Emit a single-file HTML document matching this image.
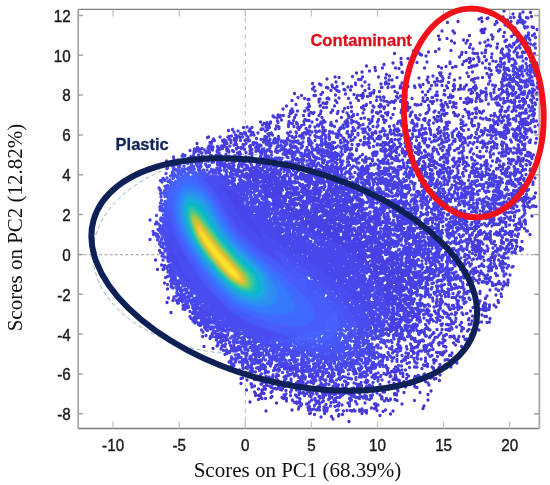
<!DOCTYPE html>
<html><head><meta charset="utf-8"><style>
html,body{margin:0;padding:0;background:#fff;}
body{width:550px;height:485px;overflow:hidden;}
svg{display:block;}
</style></head><body>
<svg width="550" height="485" viewBox="0 0 550 485">
<path d="M78.5 254.8H539.5" stroke="#9a9a9a" stroke-width="1.1" stroke-dasharray="3 2.2" fill="none"/>
<path d="M245.3 9.0V428.5" stroke="#c0c0c0" stroke-width="1.1" stroke-dasharray="4.5 4" fill="none"/>
<ellipse cx="245.3" cy="254.4" rx="152.4" ry="99.9" fill="none" stroke="#8fb3cc" stroke-width="1" stroke-dasharray="4 3"/>
<defs><filter id="bl" x="-5%" y="-5%" width="110%" height="110%"><feGaussianBlur stdDeviation="0.5"/></filter><filter id="bb" x="-5%" y="-5%" width="110%" height="110%"><feGaussianBlur stdDeviation="1.2"/></filter></defs><g filter="url(#bl)"><g filter="url(#bb)"><path fill="#4745e9" d="M290.0 340.1 263.0 340.3 238.0 330.1 213.6 312.0 178.9 277.0 168.9 260.0 163.9 241.0 163.5 236.0 165.7 208.0 169.8 195.0 172.7 189.0 183.0 178.8 198.0 175.7 211.0 174.6 238.0 192.0 261.2 229.0 285.7 262.0 317.0 291.5 333.3 310.0 334.2 312.0 333.4 315.0 322.0 331.7 290.0 340.1Z"/><path fill="#484ef1" d="M290.0 341.2 265.3 341.0 241.0 329.3 232.0 324.3 220.8 316.0 208.0 304.0 195.4 290.0 185.7 277.0 180.3 268.0 174.7 257.0 164.0 230.8 163.9 217.0 164.9 216.0 164.9 207.0 165.8 206.0 165.8 204.0 166.8 203.0 166.8 201.0 167.8 200.0 167.8 198.0 168.7 197.0 169.7 192.0 170.7 191.0 170.7 190.0 183.0 177.7 184.0 177.7 185.0 176.7 190.0 176.7 191.0 175.7 196.0 175.8 197.0 174.8 203.0 174.9 204.0 173.9 208.8 174.0 213.8 178.0 219.8 184.0 224.5 190.0 236.0 211.2 246.6 225.0 259.5 237.0 277.0 249.0 277.0 250.0 283.1 257.0 283.1 258.0 287.1 262.0 287.1 263.0 291.0 266.8 292.0 266.9 306.0 280.8 307.0 280.8 316.0 289.8 333.2 308.0 333.2 309.0 335.2 311.0 335.2 314.0 334.2 315.0 334.2 316.0 330.3 321.0 330.3 322.0 328.3 324.0 327.3 327.0 325.3 329.0 325.3 330.0 323.0 332.3 322.0 332.3 321.0 333.3 319.0 333.3 318.0 334.3 315.0 334.3 314.0 335.3 311.0 335.3 310.0 336.3 307.0 336.3 306.0 337.3 303.0 337.3 302.0 338.2 299.0 338.2 298.0 339.2 295.0 339.2 294.0 340.2 291.0 340.2 290.0 341.2Z"/><path fill="#475cfa" d="M302.0 338.0 288.0 335.7 270.0 330.8 254.0 324.4 242.0 318.2 232.0 311.5 222.0 302.8 210.8 291.0 200.4 278.0 188.4 260.0 178.5 242.0 172.4 228.0 168.6 214.0 167.9 201.0 169.0 195.0 170.0 194.0 170.0 192.0 170.9 191.0 171.0 190.0 183.0 177.9 184.0 177.9 185.0 176.9 190.0 176.9 191.0 175.9 196.9 176.0 206.0 182.2 210.8 187.0 215.6 193.0 231.0 220.1 237.0 228.2 244.0 236.1 257.5 248.0 287.0 269.2 304.7 283.0 318.0 295.0 327.7 306.0 333.6 316.0 332.0 318.0 332.0 319.0 330.1 321.0 330.1 322.0 328.1 324.0 327.1 327.0 325.1 329.0 325.1 330.0 323.0 332.1 322.0 332.1 321.0 333.1 319.0 333.1 318.0 334.1 315.0 334.1 314.0 335.1 311.0 335.1 310.0 336.0 307.0 336.0 306.0 337.0 303.0 337.0 302.0 338.0Z"/><path fill="#416bfe" d="M300.0 326.0 289.0 325.7 275.0 323.3 260.0 319.1 247.0 313.7 237.0 308.0 228.0 301.1 219.8 293.0 210.0 282.0 198.6 267.0 188.4 251.0 179.4 234.0 174.5 221.0 172.3 209.0 172.9 198.0 175.8 189.0 178.0 185.5 181.0 182.4 186.0 179.9 192.0 180.3 199.0 183.3 205.0 187.9 213.5 198.0 227.0 221.9 232.0 229.0 239.0 237.4 250.0 248.1 277.6 271.0 297.1 289.0 305.6 298.0 310.1 304.0 312.8 309.0 314.1 313.0 314.2 317.0 313.0 320.3 310.0 323.2 305.9 325.0 300.0 326.0Z"/><path fill="#347afd" d="M279.0 315.0 268.0 314.4 257.0 312.3 248.0 309.2 239.0 304.6 231.0 299.0 224.5 293.0 212.7 280.0 202.4 267.0 193.6 254.0 185.6 240.0 179.9 228.0 176.7 218.0 175.4 208.0 176.2 199.0 179.3 191.0 184.0 185.8 188.0 184.7 194.0 185.7 200.0 188.7 205.0 193.0 212.0 201.6 224.0 222.9 233.0 235.3 245.0 248.0 261.6 262.0 268.9 269.0 276.9 278.0 286.3 290.0 293.1 301.0 294.2 305.0 294.0 308.5 292.6 311.0 289.8 313.0 285.0 314.5 279.0 315.0Z"/><path fill="#2d8cf3" d="M263.0 307.1 255.0 306.5 247.0 304.3 239.0 300.4 232.0 295.6 224.0 288.0 213.2 276.0 204.3 265.0 197.3 255.0 190.7 244.0 184.6 232.0 181.4 224.0 179.3 216.0 178.6 208.0 179.5 201.0 182.3 194.0 185.8 190.0 190.0 189.8 195.0 190.9 200.0 193.6 204.0 197.0 210.0 204.4 221.0 223.9 230.5 237.0 242.6 250.0 261.8 267.0 270.6 278.0 273.9 284.0 276.3 290.0 277.3 295.0 276.9 299.0 275.0 302.5 272.0 304.9 268.0 306.4 263.0 307.1Z"/><path fill="#259ce7" d="M260.0 302.1 253.0 302.2 247.0 300.8 240.0 297.7 234.0 293.8 227.0 287.5 216.0 276.0 207.7 266.0 200.3 256.0 194.6 247.0 189.3 237.0 184.5 226.0 182.4 219.0 181.4 212.0 181.7 205.0 183.4 199.0 186.0 194.5 189.0 193.9 195.0 195.1 199.0 197.1 203.6 201.0 209.0 207.9 219.0 225.6 228.0 238.0 240.0 251.1 257.9 267.0 263.7 274.0 266.7 279.0 268.8 284.0 269.8 289.0 269.8 293.0 268.8 296.0 266.6 299.0 264.0 300.9 260.0 302.1Z"/><path fill="#1caadf" d="M258.0 298.2 253.0 298.8 247.0 297.8 241.0 295.5 235.0 291.8 228.0 285.8 219.0 276.7 203.6 258.0 192.5 240.0 185.4 223.0 184.0 216.0 183.7 210.0 184.7 203.0 187.0 198.0 189.0 197.6 196.0 199.4 200.0 201.7 203.0 204.4 208.0 211.0 218.0 228.3 227.0 240.4 237.0 251.4 254.4 267.0 259.6 273.0 263.9 281.0 264.9 285.0 265.1 289.0 264.5 292.0 262.8 295.0 260.8 297.0 258.0 298.2Z"/><path fill="#05b6ce" d="M256.0 295.2 251.0 295.8 246.0 295.0 240.0 292.6 234.0 288.7 219.0 274.6 204.5 257.0 194.5 241.0 190.7 233.0 187.3 224.0 185.8 217.0 185.5 211.0 186.4 205.0 188.0 201.1 190.0 201.0 196.0 203.2 202.0 207.4 206.4 213.0 216.6 230.0 226.0 242.3 237.0 254.3 252.1 268.0 256.5 273.0 260.3 280.0 261.4 286.0 260.0 291.3 258.0 294.0 256.0 295.2Z"/><path fill="#12beb9" d="M253.0 293.0 249.0 293.2 244.0 292.2 238.0 289.5 233.0 286.1 226.0 280.0 219.1 273.0 205.2 256.0 195.7 241.0 189.3 226.0 187.6 219.0 187.1 213.0 187.7 207.0 189.0 204.0 191.0 204.3 196.0 206.6 202.0 211.4 215.0 231.0 225.0 243.9 236.0 256.0 253.6 273.0 257.0 279.0 258.0 285.0 256.5 290.0 255.0 292.1 253.0 293.0Z"/><path fill="#2fc5a2" d="M250.0 291.1 246.0 290.9 241.0 289.3 236.0 286.7 231.0 282.9 218.7 271.0 205.8 255.0 196.4 240.0 190.5 226.0 188.5 215.0 188.9 209.0 190.0 206.8 195.1 209.0 201.0 213.9 215.9 235.0 224.0 245.2 234.0 256.4 251.5 274.0 254.1 279.0 254.7 285.0 252.8 290.0 250.0 291.1Z"/><path fill="#48cb86" d="M249.0 289.2 245.0 289.0 240.0 287.4 231.0 281.6 219.1 270.0 207.7 256.0 198.5 242.0 192.6 229.0 190.8 223.0 189.8 217.0 190.0 211.1 191.0 209.5 196.0 212.2 200.2 216.0 223.0 246.2 248.7 274.0 251.3 279.0 252.0 283.0 250.9 288.0 249.0 289.2Z"/><path fill="#71cd64" d="M248.0 287.4 245.0 287.5 240.0 286.1 231.0 280.4 220.4 270.0 208.8 256.0 199.5 242.0 194.3 231.0 191.2 219.0 191.0 214.0 192.0 212.2 196.0 214.5 200.0 218.3 221.9 247.0 246.3 274.0 248.6 278.0 249.5 282.0 249.1 286.0 248.0 287.4Z"/><path fill="#9fc942" d="M246.0 286.0 243.0 285.8 238.0 283.9 230.0 278.5 219.7 268.0 209.9 256.0 201.1 243.0 196.1 233.0 192.5 221.0 192.2 217.0 193.0 214.9 196.0 216.7 200.0 220.6 221.0 247.8 244.3 274.0 246.5 278.0 247.3 281.0 247.1 285.0 246.0 286.0Z"/><path fill="#c8c129" d="M245.0 284.3 243.0 284.5 239.0 283.3 231.0 278.2 221.8 269.0 211.8 257.0 203.4 245.0 197.9 235.0 193.8 223.0 193.5 219.0 194.0 217.6 196.0 218.7 200.0 222.8 220.5 249.0 241.1 272.0 245.0 279.0 245.6 283.0 245.0 284.3Z"/><path fill="#eaba31" d="M243.0 283.1 238.0 281.8 230.8 277.0 222.1 268.0 212.9 257.0 205.7 247.0 199.7 237.0 195.8 227.0 194.9 223.0 195.0 220.8 197.0 221.5 200.2 225.0 219.8 250.0 238.8 271.0 241.6 275.0 243.4 279.0 243.9 282.0 243.0 283.1Z"/><path fill="#fec13a" d="M242.0 281.3 241.0 281.7 238.0 280.8 231.0 276.1 223.1 268.0 214.7 258.0 206.7 247.0 201.0 237.8 197.0 228.1 196.8 224.0 198.0 224.5 201.0 227.6 219.0 250.9 237.4 271.0 241.2 277.0 242.2 280.0 242.0 281.3Z"/><path fill="#fad42e" d="M240.0 280.1 236.0 278.7 230.9 275.0 215.7 258.0 203.0 239.9 199.6 233.0 198.5 228.0 199.0 227.6 202.0 230.5 218.0 251.4 236.7 272.0 240.3 278.0 240.0 280.1Z"/><path fill="#f5e825" d="M238.0 278.3 235.0 277.1 231.0 274.0 216.0 257.0 204.0 239.9 201.1 234.0 201.0 231.8 204.0 234.7 218.7 254.0 236.0 272.8 238.5 277.0 238.0 278.3Z"/></g><g transform="scale(.5)" fill="none" stroke-width="6.60" stroke-linecap="round"><path stroke="#4332cb" d="M982 29h0m-19 7h0m11 1h0m-16 1h0m-42 5h0m48 0h0m-69 2h0m75 13h0m-6 1h0m4 1h0m-6 1h0m-78 1h0m22 0h0m59 2h0m-1 1h0m4 0h0m-59 1h0m30 5h0m-62 1h0m17 5h0m-15 2h0m48 1h0m0 0h0m8 1h0m-32 1h0m6 4h0m-31 12h0m-51 4h0m44 1h0m-14 1h0m-19 2h0m-49 1h0m52 2h0m2 1h0m-41 7h0m14 0h0m-14 8h0m-16 1h0m-18 3h0m-35 3h0m17 3h0m-26 9h0m-11 2h0m-59 12h0m-29 9h0m-36 20h0m471 282h0m-726 136h0m8 20h0m66 68h0m13 31h0m441 58h0m-6 7h0m0 11h0m-356 4h0m53 2h0m295 6h0m-2 5h0m-262 3h0m-52 2h0m254 0h0m-5 6h0m-83 15h0"/><path stroke="#4537d5" d="M1008 22h0m38 2h0m15 1h0m-35 3h0m14 0h0m-1 5h0m24 0h0m-57 1h0m34 0h0m-19 1h0m7 0h0m25 0h0m-77 1h0m39 4h0m-1 2h0m-21 1h0m29 0h0m-28 2h0m21 0h0m3 1h0m-28 3h0m20 1h0m6 3h0m51 2h0m-46 1h0m-21 3h0m74 0h0m-77 3h0m12 3h0m60 3h0m-86 2h0m24 3h0m-21 1h0m85 1h0m-86 3h0m-9 2h0m-6 4h0m-38 2h0m28 0h0m35 2h0m-54 1h0m36 1h0m-4 2h0m8 0h0m-42 3h0m55 0h0m0 1h0m-48 2h0m25 2h0m-69 1h0m22 4h0m8 0h0m39 0h0m-25 1h0m18 0h0m-14 1h0m5 0h0m29 1h0m-61 1h0m-71 3h0m117 1h0m-50 1h0m37 0h0m27 1h0m-45 2h0m2 0h0m7 1h0m11 0h0m15 2h0m-40 1h0m39 0h0m-31 1h0m45 0h0m-58 1h0m30 0h0m-104 1h0m46 0h0m-66 1h0m105 0h0m26 1h0m-65 1h0m79 1h0m-176 1h0m122 0h0m29 1h0m-1 1h0m-10 1h0m3 0h0m3 0h0m-72 1h0m15 0h0m19 0h0m1 0h0m0 0h0m31 1h0m-38 1h0m33 0h0m-173 1h0m26 0h0m58 0h0m34 0h0m88 0h0m-173 1h0m180 0h0m1 1h0m-228 3h0m231 0h0m-243 1h0m81 1h0m-16 1h0m141 0h0m-140 1h0m11 1h0m63 0h0m3 0h0m52 0h0m40 1h0m-74 1h0m-127 1h0m209 0h0m1 0h0m-102 1h0m-102 2h0m87 0h0m112 0h0m-273 1h0m179 0h0m53 0h0m-267 1h0m55 0h0m32 0h0m99 0h0m-178 1h0m116 0h0m104 0h0m67 0h0m14 0h0m-208 1h0m40 0h0m27 0h0m82 0h0m36 0h0m-82 1h0m12 0h0m64 0h0m-233 2h0m5 0h0m223 0h0m-167 1h0m6 0h0m70 0h0m55 0h0m34 0h0m-68 2h0m10 0h0m95 0h0m-99 1h0m-209 1h0m58 0h0m42 0h0m97 0h0m79 0h0m-177 1h0m40 0h0m46 0h0m40 0h0m-186 1h0m93 0h0m-118 1h0m-47 1h0m123 0h0m9 0h0m6 0h0m200 0h0m-266 1h0m135 0h0m62 0h0m-266 1h0m22 0h0m74 0h0m101 0h0m33 0h0m2 0h0m59 0h0m-70 1h0m21 0h0m37 0h0m30 0h0m-227 1h0m77 0h0m28 0h0m64 0h0m14 0h0m2 0h0m-235 1h0m29 0h0m85 0h0m28 0h0m-188 1h0m37 0h0m31 0h0m88 0h0m57 0h0m88 0h0m-276 1h0m2 0h0m108 0h0m1 0h0m12 0h0m54 0h0m117 0h0m-291 1h0m144 0h0m5 0h0m90 0h0m26 0h0m32 0h0m-283 1h0m68 0h0m234 0h0m-347 1h0m181 0h0m54 0h0m49 0h0m13 0h0m6 0h0m-240 1h0m229 0h0m25 0h0m-252 1h0m11 0h0m237 0h0m12 0h0m-288 1h0m12 0h0m56 0h0m18 0h0m141 0h0m17 0h0m-276 1h0m332 0h0m-284 1h0m81 0h0m31 0h0m66 0h0m-11 1h0m29 0h0m70 0h0m23 0h0m5 0h0m-327 1h0m300 0h0m-202 1h0m4 0h0m48 0h0m168 0h0m-237 1h0m14 0h0m202 0h0m12 0h0m-263 1h0m-49 1h0m66 0h0m180 0h0m67 0h0m18 0h0m-302 1h0m180 0h0m21 0h0m18 0h0m11 0h0m71 0h0m-369 1h0m25 0h0m3 0h0m84 0h0m6 0h0m20 0h0m71 0h0m59 0h0m4 0h0m84 0h0m-232 1h0m74 0h0m-66 1h0m58 0h0m113 0h0m49 0h0m3 0h0m14 0h0m-218 1h0m6 0h0m7 0h0m-171 1h0m172 0h0m44 0h0m52 0h0m1 0h0m32 0h0m6 0h0m-247 1h0m22 0h0m35 0h0m12 0h0m71 0h0m50 0h0m90 0h0m-327 1h0m45 0h0m43 0h0m127 0h0m31 0h0m66 0h0m32 0h0m-313 1h0m18 0h0m274 0h0m-316 1h0m2 0h0m20 0h0m217 0h0m85 0h0m20 0h0m12 0h0m-210 1h0m46 0h0m66 0h0m70 0h0m-360 1h0m87 0h0m46 0h0m36 0h0m38 0h0m11 0h0m80 0h0m-114 1h0m78 0h0m115 0h0m3 0h0m-190 1h0m10 0h0m17 0h0m9 0h0m40 0h0m11 0h0m6 0h0m33 0h0m38 0h0m14 0h0m-314 1h0m149 0h0m147 0h0m3 0h0m6 0h0m-289 1h0m20 0h0m67 0h0m39 0h0m8 0h0m26 0h0m77 0h0m9 0h0m7 0h0m21 0h0m9 0h0m-291 1h0m55 0h0m-51 1h0m3 0h0m162 0h0m50 0h0m47 0h0m22 0h0m-317 1h0m267 0h0m24 0h0m-316 1h0m141 0h0m28 0h0m69 0h0m12 0h0m52 0h0m-118 1h0m57 0h0m3 0h0m46 0h0m-241 1h0m91 0h0m125 0h0m30 0h0m-314 1h0m46 0h0m21 0h0m29 0h0m58 0h0m19 0h0m15 0h0m2 0h0m-145 1h0m140 0h0m56 0h0m70 0h0m23 0h0m-204 1h0m45 0h0m12 0h0m9 0h0m48 0h0m79 0h0m9 0h0m-258 1h0m6 0h0m43 0h0m27 0h0m97 0h0m92 0h0m-298 1h0m194 0h0m78 0h0m67 0h0m-264 1h0m79 0h0m21 0h0m69 0h0m-292 1h0m18 0h0m230 0h0m136 0h0m4 0h0m0 0h0m-226 1h0m88 0h0m114 0h0m-313 1h0m48 0h0m138 0h0m55 0h0m25 0h0m-218 1h0m80 0h0m70 0h0m73 0h0m-307 1h0m14 0h0m14 0h0m1 0h0m32 0h0m228 0h0m97 0h0m-381 1h0m90 0h0m10 0h0m17 0h0m58 0h0m198 0h0m-215 1h0m80 0h0m44 0h0m66 0h0m0 0h0m4 0h0m-316 1h0m6 0h0m34 0h0m91 0h0m23 0h0m26 0h0m53 0h0m23 0h0m29 0h0m45 0h0m8 0h0m-377 1h0m111 0h0m32 0h0m30 0h0m15 0h0m51 0h0m141 0h0m-383 1h0m46 0h0m0 0h0m15 0h0m34 0h0m81 0h0m96 0h0m39 0h0m3 0h0m51 0h0m8 0h0m-335 1h0m267 0h0m25 0h0m-203 1h0m8 0h0m71 0h0m153 0h0m-383 1h0m36 0h0m183 0h0m46 0h0m19 0h0m77 0h0m20 0h0m-376 1h0m6 0h0m40 0h0m11 0h0m20 0h0m59 0h0m10 0h0m124 0h0m58 0h0m21 0h0m-364 1h0m11 0h0m206 0h0m57 0h0m61 0h0m34 0h0m-337 1h0m126 0h0m42 0h0m20 0h0m109 0h0m51 0h0m-378 1h0m12 0h0m316 0h0m-287 1h0m55 0h0m39 0h0m15 0h0m111 0h0m23 0h0m36 0h0m82 0h0m2 0h0m-398 1h0m175 0h0m53 0h0m156 0h0m23 0h0m-239 1h0m128 0h0m-106 1h0m92 0h0m46 0h0m84 0h0m-356 1h0m24 0h0m103 0h0m20 0h0m10 0h0m80 0h0m24 0h0m73 0h0m-381 1h0m131 0h0m9 0h0m54 0h0m165 0h0m-335 1h0m27 0h0m4 0h0m29 0h0m26 1h0m71 0h0m200 0h0m-249 1h0m12 0h0m-186 1h0m169 0h0m23 0h0m29 0h0m335 6h0m-590 5h0m-22 4h0m-8 2h0m-40 13h0m-2 1h0m-21 12h0m679 29h0m-2 70h0m-3 8h0m1 0h0m-4 18h0m3 0h0m4 1h0m-8 19h0m-764 8h0m749 17h0m4 5h0m2 0h0m-11 21h0m-3 12h0m4 3h0m-4 3h0m-10 5h0m-720 14h0m715 13h0m-2 1h0m-10 2h0m-699 3h0m697 9h0m8 2h0m-4 10h0m-8 4h0m8 1h0m-6 3h0m5 2h0m-8 2h0m-3 6h0m-7 3h0m5 7h0m-10 2h0m11 3h0m-666 3h0m9 5h0m650 0h0m1 4h0m-18 5h0m9 0h0m-17 4h0m8 0h0m13 0h0m-25 3h0m9 1h0m2 1h0m-11 1h0m5 1h0m-8 9h0m6 3h0m3 0h0m-23 4h0m30 0h0m-36 5h0m19 2h0m16 0h0m-22 1h0m17 0h0m-23 1h0m-9 2h0m-4 1h0m15 8h0m-15 2h0m11 0h0m-4 1h0m13 0h0m-35 2h0m12 0h0m6 8h0m-536 3h0m513 0h0m9 0h0m-18 3h0m7 2h0m17 0h0m-3 1h0m-17 2h0m30 0h0m-26 2h0m17 2h0m-27 1h0m4 4h0m-24 2h0m3 1h0m33 0h0m-31 1h0m-466 3h0m466 5h0m36 1h0m-41 1h0m-14 1h0m1 0h0m1 0h0m5 0h0m0 0h0m2 1h0m6 0h0m16 0h0m-23 2h0m4 2h0m14 1h0m3 0h0m-27 2h0m37 5h0m-44 1h0m27 0h0m10 0h0m-38 1h0m23 0h0m-18 1h0m27 0h0m-31 5h0m46 0h0m-59 2h0m25 1h0m10 1h0m-40 1h0m45 0h0m-40 2h0m9 1h0m30 0h0m8 0h0m-24 1h0m-11 1h0m25 0h0m-48 1h0m23 1h0m-408 2h0m409 5h0m-19 3h0m-35 1h0m34 0h0m9 0h0m6 1h0m17 0h0m-44 1h0m-19 1h0m21 0h0m-32 1h0m24 0h0m35 1h0m-75 1h0m2 0h0m42 0h0m22 0h0m-371 1h0m306 0h0m70 0h0m-379 1h0m331 0h0m16 0h0m43 0h0m-41 1h0m38 0h0m-360 1h0m277 0h0m5 0h0m-297 1h0m302 0h0m3 1h0m80 0h0m-81 2h0m10 0h0m43 0h0m-73 1h0m78 2h0m-374 1h0m306 0h0m16 0h0m12 0h0m-314 1h0m1 0h0m19 0h0m298 1h0m38 1h0m-77 1h0m48 0h0m-320 1h0m19 1h0m244 0h0m-268 1h0m307 0h0m19 0h0m4 1h0m-45 1h0m-272 2h0m14 0h0m247 0h0m-251 1h0m268 0h0m-302 1h0m31 0h0m272 2h0m-287 2h0m257 0h0m3 0h0m-245 1h0m284 0h0m32 0h0m-329 2h0m12 0h0m5 0h0m261 0h0m4 1h0m-272 1h0m268 0h0m-29 1h0m33 0h0m-282 1h0m6 0h0m27 2h0m220 1h0m-242 1h0m20 0h0m22 0h0m-40 2h0m7 0h0m36 0h0m5 0h0m1 0h0m190 0h0m10 0h0m-9 1h0m17 0h0m-264 1h0m273 0h0m-10 1h0m-4 1h0m18 0h0m35 0h0m-256 1h0m196 0h0m-20 6h0m3 0h0m52 0h0m-51 2h0m3 0h0m-4 3h0m-154 1h0m145 2h0m9 0h0m-3 1h0m-152 1h0m127 0h0m-107 2h0m91 0h0m11 0h0m52 0h0m-77 1h0m7 0h0m22 0h0m10 0h0m21 0h0m-67 1h0m17 0h0m6 0h0m9 0h0m10 0h0m37 1h0m-145 3h0m112 0h0m-114 1h0m30 0h0m75 0h0m-95 2h0m49 0h0m7 0h0m75 2h0m-83 1h0m-14 1h0m-21 1h0m24 4h0"/><path stroke="#463cde" d="M1056 36h0m-15 2h0m4 3h0m-9 1h0m5 2h0m9 0h0m-15 2h0m11 1h0m3 6h0m6 1h0m9 0h0m-34 2h0m20 0h0m-16 8h0m2 1h0m21 1h0m-29 1h0m0 2h0m29 1h0m8 1h0m-13 1h0m-29 1h0m30 1h0m-3 1h0m8 2h0m-23 2h0m-22 1h0m37 0h0m1 0h0m9 0h0m-50 2h0m26 0h0m-26 1h0m39 0h0m-17 1h0m19 0h0m4 2h0m-28 1h0m15 0h0m1 0h0m4 1h0m14 0h0m9 0h0m-42 1h0m-9 1h0m48 0h0m-46 2h0m17 0h0m-25 1h0m2 1h0m9 0h0m9 2h0m7 0h0m19 0h0m12 0h0m-14 1h0m-52 1h0m27 0h0m-14 2h0m35 0h0m-50 1h0m16 1h0m34 0h0m8 0h0m-32 1h0m-1 1h0m17 0h0m-43 1h0m43 0h0m4 0h0m9 0h0m-54 1h0m31 0h0m34 1h0m-55 1h0m3 0h0m-10 2h0m27 0h0m-21 1h0m6 0h0m40 0h0m-15 1h0m-9 2h0m5 0h0m4 0h0m-36 1h0m9 0h0m49 0h0m-2 1h0m3 0h0m-66 1h0m51 0h0m-49 1h0m18 0h0m5 0h0m27 0h0m-35 1h0m12 3h0m31 0h0m4 0h0m-73 1h0m9 0h0m17 0h0m-9 3h0m64 0h0m-64 1h0m62 0h0m-67 1h0m62 1h0m1 0h0m-69 1h0m-2 1h0m71 0h0m9 0h0m-75 3h0m7 0h0m57 0h0m1 0h0m-73 1h0m20 2h0m3 0h0m-8 2h0m5 0h0m55 1h0m-74 1h0m3 0h0m21 0h0m56 0h0m-74 1h0m-2 3h0m12 0h0m58 0h0m-57 2h0m-3 1h0m-1 2h0m7 0h0m5 1h0m51 0h0m-63 3h0m14 0h0m55 0h0m-66 2h0m1 0h0m-6 2h0m3 0h0m10 0h0m-4 1h0m8 0h0m-14 2h0m54 1h0m3 0h0m-62 2h0m15 2h0m1 0h0m56 0h0m-71 1h0m62 1h0m-47 1h0m43 0h0m-77 1h0m28 0h0m7 0h0m47 0h0m-76 1h0m13 0h0m14 0h0m-11 1h0m7 0h0m7 0h0m1 0h0m-32 1h0m30 0h0m54 1h0m-71 3h0m21 0h0m52 0h0m-11 1h0m-77 1h0m10 0h0m16 0h0m55 1h0m-63 1h0m20 0h0m40 1h0m-61 1h0m1 1h0m6 0h0m3 0h0m-27 1h0m70 0h0m5 0h0m-5 1h0m8 0h0m8 0h0m-93 1h0m42 0h0m7 0h0m-28 1h0m16 0h0m-3 1h0m12 0h0m46 0h0m-56 2h0m8 0h0m39 0h0m-82 1h0m15 0h0m67 0h0m0 0h0m-69 1h0m71 0h0m-34 1h0m2 0h0m2 0h0m1 0h0m-45 1h0m42 0h0m4 0h0m-38 1h0m15 0h0m52 0h0m-60 1h0m39 0h0m-62 1h0m5 0h0m4 0h0m52 0h0m-44 1h0m47 0h0m26 0h0m-45 1h0m20 0h0m12 0h0m-39 1h0m23 0h0m18 0h0m-48 1h0m-7 1h0m2 0h0m9 0h0m3 0h0m8 0h0m9 0h0m8 0h0m4 0h0m-41 2h0m14 0h0m40 0h0m-72 1h0m4 0h0m11 0h0m44 0h0m19 0h0m-93 2h0m52 0h0m42 1h0m-76 1h0m4 0h0m48 0h0m-7 1h0m17 0h0m-20 1h0m28 0h0m-37 1h0m-24 1h0m14 0h0m15 0h0m1 0h0m1 0h0m23 0h0m7 0h0m-21 1h0m-28 1h0m24 0h0m1 0h0m4 0h0m18 0h0m-35 2h0m24 1h0m17 0h0m-68 1h0m2 0h0m13 0h0m10 1h0m26 0h0m-20 1h0m19 0h0m9 0h0m6 0h0m-66 1h0m2 0h0m8 0h0m2 0h0m12 0h0m20 3h0m4 0h0m4 0h0m1 0h0m15 0h0m-79 1h0m50 0h0m30 0h0m-3 1h0m-25 1h0m-40 1h0m63 0h0m4 0h0m-86 1h0m9 0h0m26 0h0m21 0h0m-50 1h0m21 0h0m24 0h0m25 0h0m9 0h0m-27 1h0m-26 1h0m-18 1h0m1 0h0m8 0h0m-33 1h0m24 0h0m19 0h0m41 0h0m-29 1h0m-191 1h0m183 0h0m7 0h0m2 0h0m3 0h0m19 0h0m-213 1h0m1 0h0m136 0h0m5 0h0m19 0h0m44 0h0m5 0h0m20 0h0m-88 1h0m7 0h0m57 0h0m-271 1h0m53 0h0m25 0h0m9 0h0m18 0h0m121 0h0m9 0h0m56 0h0m-508 1h0m245 0h0m1 0h0m82 0h0m113 0h0m20 0h0m16 0h0m41 0h0m-495 1h0m30 0h0m189 0h0m7 0h0m70 0h0m114 0h0m14 0h0m1 0h0m48 0h0m16 0h0m-526 1h0m83 0h0m18 0h0m6 0h0m2 0h0m91 0h0m14 0h0m142 0h0m29 0h0m67 0h0m23 0h0m29 0h0m9 0h0m-520 1h0m22 0h0m22 0h0m15 0h0m69 0h0m107 0h0m54 0h0m69 0h0m7 0h0m93 0h0m11 0h0m36 0h0m4 0h0m-502 1h0m39 0h0m116 0h0m7 0h0m153 0h0m11 0h0m76 0h0m108 0h0m10 0h0m-533 1h0m57 0h0m8 0h0m51 0h0m73 0h0m22 0h0m56 0h0m9 0h0m23 0h0m95 0h0m98 0h0m26 0h0m12 0h0m-463 1h0m45 0h0m3 0h0m19 0h0m140 0h0m32 0h0m23 0h0m36 0h0m64 0h0m32 0h0m30 0h0m22 0h0m-507 1h0m4 0h0m39 0h0m31 0h0m84 0h0m34 0h0m232 0h0m38 0h0m56 0h0m3 0h0m1 0h0m-531 1h0m110 0h0m26 0h0m3 0h0m22 0h0m172 0h0m74 0h0m78 0h0m5 0h0m5 0h0m-417 1h0m34 0h0m26 0h0m57 0h0m36 0h0m32 0h0m45 0h0m11 0h0m51 0h0m32 0h0m18 0h0m4 0h0m33 0h0m64 0h0m-513 1h0m20 0h0m67 0h0m17 0h0m59 0h0m92 0h0m16 0h0m9 0h0m17 0h0m4 0h0m112 0h0m37 0h0m62 0h0m-490 1h0m22 0h0m11 0h0m81 0h0m25 0h0m24 0h0m28 0h0m33 0h0m207 0h0m51 0h0m33 0h0m-576 1h0m38 0h0m6 0h0m20 0h0m38 0h0m5 0h0m18 0h0m11 0h0m15 0h0m91 0h0m18 0h0m138 0h0m65 0h0m24 0h0m-477 1h0m35 0h0m56 0h0m52 0h0m35 0h0m24 0h0m172 0h0m11 0h0m33 0h0m86 0h0m-320 1h0m28 0h0m111 0h0m17 0h0m137 0h0m31 0h0m3 0h0m21 0h0m-478 1h0m54 0h0m68 0h0m2 0h0m84 0h0m85 0h0m8 0h0m111 0h0m17 0h0m47 0h0m7 0h0m8 0h0m11 0h0m-560 1h0m23 0h0m3 0h0m25 0h0m173 0h0m5 0h0m1 0h0m61 0h0m1 0h0m4 0h0m53 0h0m10 0h0m36 0h0m18 0h0m10 0h0m65 0h0m37 0h0m-525 1h0m22 0h0m13 0h0m63 0h0m48 0h0m61 0h0m33 0h0m102 0h0m33 0h0m62 0h0m18 0h0m29 0h0m30 0h0m23 0h0m16 0h0m6 0h0m-331 1h0m11 0h0m42 0h0m8 0h0m72 0h0m28 0h0m81 0h0m22 0h0m26 0h0m11 0h0m8 0h0m-422 1h0m36 0h0m27 0h0m28 0h0m4 0h0m0 0h0m78 0h0m10 0h0m21 0h0m8 0h0m4 0h0m7 0h0m23 0h0m66 0h0m36 0h0m13 0h0m36 0h0m18 0h0m10 0h0m22 0h0m-586 1h0m22 0h0m33 0h0m84 0h0m4 0h0m0 0h0m12 0h0m8 0h0m38 0h0m87 0h0m6 0h0m11 0h0m8 0h0m93 0h0m26 0h0m81 0h0m66 0h0m-396 1h0m36 0h0m9 0h0m26 0h0m21 0h0m44 0h0m13 0h0m70 0h0m84 0h0m17 0h0m29 0h0m-540 1h0m34 0h0m79 0h0m11 0h0m22 0h0m10 0h0m8 0h0m2 0h0m14 0h0m13 0h0m4 0h0m66 0h0m29 0h0m122 0h0m86 0h0m18 0h0m1 0h0m5 0h0m57 0h0m15 0h0m7 0h0m-582 1h0m17 0h0m0 0h0m103 0h0m36 0h0m81 0h0m24 0h0m30 0h0m71 0h0m10 0h0m19 0h0m0 0h0m38 0h0m34 0h0m44 0h0m5 0h0m16 0h0m-526 1h0m25 0h0m27 0h0m32 0h0m18 0h0m23 0h0m50 0h0m12 0h0m16 0h0m0 0h0m50 0h0m1 0h0m7 0h0m87 0h0m65 0h0m111 0h0m-534 1h0m9 0h0m50 0h0m65 0h0m111 0h0m71 0h0m59 0h0m7 0h0m23 0h0m12 0h0m6 0h0m73 0h0m37 0h0m28 0h0m9 0h0m-557 1h0m52 0h0m76 0h0m34 0h0m26 0h0m33 0h0m31 0h0m46 0h0m43 0h0m23 0h0m105 0h0m44 0h0m30 0h0m2 0h0m1 0h0m1 0h0m21 0h0m-394 1h0m18 0h0m93 0h0m31 0h0m62 0h0m61 0h0m80 0h0m2 0h0m2 0h0m4 0h0m32 0h0m-572 1h0m21 0h0m10 0h0m6 0h0m37 0h0m75 0h0m30 0h0m24 0h0m24 0h0m5 0h0m13 0h0m29 0h0m30 0h0m15 0h0m6 0h0m8 0h0m0 0h0m35 0h0m5 0h0m25 0h0m36 0h0m10 0h0m50 0h0m10 0h0m6 0h0m10 0h0m45 0h0m-458 1h0m24 0h0m0 0h0m28 0h0m52 0h0m87 0h0m33 0h0m95 0h0m46 0h0m-480 1h0m13 0h0m62 0h0m61 0h0m7 0h0m95 0h0m59 0h0m56 0h0m66 0h0m7 0h0m26 0h0m70 0h0m42 0h0m-569 1h0m72 0h0m27 0h0m27 0h0m8 0h0m39 0h0m12 0h0m9 0h0m87 0h0m18 0h0m69 0h0m12 0h0m30 0h0m4 0h0m48 0h0m2 0h0m37 0h0m42 0h0m27 0h0m20 0h0m-608 1h0m16 0h0m23 0h0m6 0h0m11 0h0m88 0h0m48 0h0m27 0h0m14 0h0m25 0h0m3 0h0m28 0h0m10 0h0m3 0h0m20 0h0m71 0h0m72 0h0m13 0h0m3 0h0m0 0h0m16 0h0m91 0h0m4 0h0m1 0h0m11 0h0m1 0h0m-565 1h0m53 0h0m143 0h0m34 0h0m65 0h0m121 0h0m22 0h0m9 0h0m14 0h0m9 0h0m57 0h0m5 0h0m29 0h0m13 0h0m-581 1h0m59 0h0m1 0h0m55 0h0m98 0h0m133 0h0m26 0h0m35 0h0m56 0h0m75 0h0m-542 1h0m27 0h0m17 0h0m16 0h0m21 0h0m25 0h0m113 0h0m41 0h0m7 0h0m9 0h0m9 0h0m2 0h0m2 0h0m17 0h0m48 0h0m28 0h0m27 0h0m13 0h0m38 0h0m26 0h0m27 0h0m10 0h0m19 0h0m62 0h0m-646 1h0m31 0h0m70 0h0m21 0h0m7 0h0m2 0h0m180 0h0m22 0h0m40 0h0m59 0h0m-337 1h0m18 0h0m17 0h0m19 0h0m207 0h0m7 0h0m120 0h0m122 0h0m17 0h0m-602 1h0m2 0h0m12 0h0m7 0h0m5 0h0m18 0h0m4 0h0m36 0h0m17 0h0m141 0h0m17 0h0m90 0h0m55 0h0m18 0h0m6 0h0m9 0h0m14 0h0m24 0h0m8 0h0m91 0h0m14 0h0m26 0h0m-632 1h0m16 0h0m36 0h0m9 0h0m9 0h0m35 0h0m147 0h0m21 0h0m19 0h0m60 0h0m39 0h0m13 0h0m87 0h0m119 0h0m21 0h0m-635 1h0m27 0h0m18 0h0m27 0h0m196 0h0m56 0h0m97 0h0m22 0h0m3 0h0m36 0h0m58 0h0m-519 1h0m82 0h0m256 0h0m28 0h0m82 0h0m16 0h0m45 0h0m12 0h0m19 0h0m54 0h0m-513 1h0m161 0h0m49 0h0m75 0h0m2 0h0m49 0h0m26 0h0m74 0h0m15 0h0m26 0h0m19 0h0m20 0h0m15 0h0m-638 1h0m42 0h0m45 0h0m174 0h0m15 0h0m32 0h0m1 0h0m2 0h0m35 0h0m5 0h0m7 0h0m37 0h0m70 0h0m42 0h0m4 0h0m9 0h0m8 0h0m13 0h0m20 0h0m79 0h0m-608 1h0m19 0h0m35 0h0m6 0h0m170 0h0m57 0h0m60 0h0m11 0h0m39 0h0m34 0h0m82 0h0m24 0h0m19 0h0m63 0h0m-648 1h0m31 0h0m38 0h0m22 0h0m214 0h0m84 0h0m11 0h0m16 0h0m44 0h0m42 0h0m46 0h0m5 0h0m-527 1h0m2 0h0m283 0h0m21 0h0m18 0h0m2 0h0m13 0h0m32 0h0m84 0h0m22 0h0m20 0h0m104 0h0m-577 1h0m13 0h0m21 0h0m197 0h0m11 0h0m3 0h0m8 0h0m37 0h0m13 0h0m26 0h0m20 0h0m172 0h0m9 0h0m42 0h0m-597 1h0m1 0h0m19 0h0m20 0h0m32 0h0m174 0h0m34 0h0m26 0h0m6 0h0m10 0h0m19 0h0m48 0h0m41 0h0m58 0h0m32 0h0m26 0h0m19 0h0m23 0h0m1 0h0m-536 1h0m13 0h0m8 0h0m169 0h0m25 0h0m138 0h0m45 0h0m138 0h0m-619 1h0m25 0h0m17 0h0m227 0h0m99 0h0m35 0h0m37 0h0m63 0h0m67 0h0m17 0h0m-584 1h0m14 0h0m13 0h0m51 0h0m16 0h0m223 0h0m9 0h0m33 0h0m20 0h0m11 0h0m19 0h0m56 0h0m127 0h0m36 0h0m-623 1h0m75 0h0m17 0h0m0 0h0m248 0h0m17 0h0m30 0h0m9 0h0m0 0h0m9 0h0m10 0h0m15 0h0m32 0h0m84 0h0m11 0h0m31 0h0m-619 1h0m59 0h0m22 0h0m6 0h0m18 0h0m11 0h0m4 0h0m3 0h0m172 0h0m49 0h0m55 0h0m1 0h0m27 0h0m16 0h0m30 0h0m30 0h0m29 0h0m27 0h0m11 0h0m9 0h0m-558 1h0m22 0h0m48 0h0m15 0h0m195 0h0m89 0h0m36 0h0m12 0h0m67 0h0m88 0h0m6 0h0m34 0h0m10 0h0m-634 1h0m21 0h0m20 0h0m28 0h0m9 0h0m221 0h0m89 0h0m89 0h0m34 0h0m2 0h0m-528 1h0m47 0h0m37 0h0m218 0h0m4 0h0m8 0h0m10 0h0m58 0h0m23 0h0m11 0h0m31 0h0m30 0h0m34 0h0m14 0h0m29 0h0m62 0h0m7 0h0m4 0h0m3 0h0m0 0h0m2 0h0m13 0h0m-641 1h0m47 0h0m13 0h0m3 0h0m33 0h0m15 0h0m13 0h0m245 0h0m17 0h0m1 0h0m12 0h0m81 0h0m173 0h0m4 0h0m-655 1h0m298 0h0m7 0h0m138 0h0m60 0h0m44 0h0m40 0h0m30 0h0m26 0h0m6 0h0m-664 1h0m55 0h0m19 0h0m11 0h0m35 0h0m12 0h0m5 0h0m196 0h0m49 0h0m6 0h0m5 0h0m8 0h0m44 0h0m14 0h0m10 0h0m17 0h0m19 0h0m9 0h0m15 0h0m18 0h0m-473 1h0m3 0h0m308 0h0m6 0h0m17 0h0m16 0h0m63 0h0m106 0h0m48 0h0m13 0h0m-600 1h0m33 0h0m45 0h0m178 0h0m119 0h0m3 0h0m25 0h0m123 0h0m77 0h0m-579 1h0m21 0h0m271 0h0m4 0h0m16 0h0m14 0h0m33 0h0m21 0h0m13 0h0m24 0h0m48 0h0m17 0h0m66 0h0m3 0h0m30 0h0m-547 1h0m255 0h0m6 0h0m17 0h0m23 0h0m38 0h0m66 0h0m83 0h0m24 0h0m1 0h0m9 0h0m41 0h0m3 0h0m-620 1h0m37 0h0m29 0h0m301 0h0m38 0h0m75 0h0m6 0h0m74 0h0m6 0h0m22 0h0m2 0h0m6 0h0m-534 1h0m245 0h0m9 0h0m28 0h0m29 0h0m24 0h0m61 0h0m121 0h0m24 0h0m2 0h0m18 0h0m-580 1h0m218 0h0m4 0h0m75 0h0m34 0h0m6 0h0m39 0h0m7 0h0m13 0h0m16 0h0m54 0h0m40 0h0m17 0h0m38 0h0m-590 1h0m273 0h0m24 0h0m88 0h0m-358 1h0m222 0h0m4 0h0m93 0h0m90 0h0m10 0h0m162 0h0m7 0h0m-315 1h0m18 0h0m2 0h0m6 0h0m0 0h0m75 0h0m101 0h0m27 0h0m30 0h0m40 0h0m1 0h0m-582 1h0m34 0h0m242 0h0m27 0h0m8 0h0m28 0h0m1 0h0m39 0h0m12 0h0m65 0h0m77 0h0m4 0h0m50 0h0m-598 1h0m9 0h0m231 0h0m21 0h0m61 0h0m11 0h0m35 0h0m27 0h0m33 0h0m68 0h0m6 0h0m6 0h0m-493 1h0m18 0h0m204 0h0m36 0h0m111 0h0m22 0h0m61 0h0m32 0h0m23 0h0m55 0h0m27 0h0m-597 1h0m0 0h0m32 0h0m274 0h0m12 0h0m61 0h0m4 0h0m16 0h0m17 0h0m6 0h0m0 0h0m3 0h0m34 0h0m9 0h0m9 0h0m0 0h0m95 0h0m-570 1h0m8 0h0m224 0h0m31 0h0m155 0h0m5 0h0m4 0h0m13 0h0m53 0h0m-484 1h0m7 0h0m219 0h0m13 0h0m0 0h0m23 0h0m44 0h0m12 0h0m32 0h0m14 0h0m77 0h0m9 0h0m68 0h0m52 0h0m17 0h0m-353 1h0m4 0h0m18 0h0m36 0h0m19 0h0m51 0h0m25 0h0m42 0h0m12 0h0m2 0h0m25 0h0m50 0h0m22 0h0m27 0h0m-299 1h0m21 0h0m92 0h0m22 0h0m13 0h0m12 0h0m21 0h0m18 0h0m80 0h0m12 0h0m-311 1h0m31 0h0m33 0h0m16 0h0m16 0h0m173 0h0m3 0h0m22 0h0m9 0h0m-322 1h0m70 0h0m18 0h0m23 0h0m22 0h0m134 0h0m67 0h0m2 0h0m11 0h0m-720 1h0m379 0h0m18 0h0m15 0h0m23 0h0m31 0h0m0 0h0m27 0h0m35 0h0m8 0h0m27 0h0m12 0h0m20 0h0m22 0h0m35 0h0m15 0h0m23 0h0m1 0h0m13 0h0m9 0h0m-316 1h0m2 0h0m27 0h0m4 0h0m73 0h0m11 0h0m18 0h0m50 0h0m4 0h0m139 0h0m-329 1h0m2 0h0m84 0h0m19 0h0m54 0h0m31 0h0m51 0h0m23 0h0m40 0h0m-259 1h0m46 0h0m53 0h0m20 0h0m17 0h0m17 0h0m5 0h0m41 0h0m-212 1h0m15 0h0m8 0h0m23 0h0m7 0h0m21 0h0m60 0h0m17 0h0m105 0h0m17 0h0m26 0h0m1 0h0m-294 1h0m6 0h0m3 0h0m50 0h0m12 0h0m12 0h0m84 0h0m21 0h0m77 0h0m-291 1h0m37 0h0m81 0h0m9 0h0m7 0h0m36 0h0m15 0h0m20 0h0m29 0h0m32 0h0m15 0h0m19 0h0m-204 1h0m110 0h0m3 0h0m58 0h0m44 0h0m8 0h0m-304 1h0m94 0h0m29 0h0m3 0h0m80 0h0m7 0h0m30 0h0m54 0h0m-726 1h0m481 0h0m24 0h0m30 0h0m4 0h0m22 0h0m30 0h0m19 0h0m35 0h0m69 0h0m-234 1h0m38 0h0m38 0h0m25 0h0m8 0h0m47 0h0m11 0h0m8 0h0m-182 1h0m15 0h0m35 0h0m7 0h0m49 0h0m25 0h0m69 0h0m5 0h0m23 0h0m17 0h0m-249 1h0m89 0h0m62 0h0m70 0h0m-185 1h0m14 0h0m5 0h0m19 0h0m26 0h0m48 0h0m74 0h0m-198 1h0m3 0h0m49 0h0m27 0h0m15 0h0m104 0h0m-186 1h0m58 0h0m38 0h0m25 0h0m8 0h0m11 0h0m21 0h0m3 0h0m10 0h0m23 0h0m1 0h0m-188 1h0m8 0h0m36 0h0m69 0h0m18 0h0m4 0h0m16 0h0m20 0h0m48 0h0m-223 1h0m8 0h0m14 0h0m154 0h0m22 0h0m11 0h0m4 0h0m11 0h0m-221 1h0m23 0h0m16 0h0m12 0h0m54 0h0m33 0h0m69 0h0m-206 1h0m22 0h0m29 0h0m23 0h0m16 0h0m20 0h0m50 0h0m42 0h0m16 0h0m-179 1h0m19 0h0m5 0h0m109 0h0m-71 1h0m44 0h0m23 0h0m4 0h0m15 0h0m3 0h0m0 0h0m-181 1h0m24 0h0m6 0h0m13 0h0m9 0h0m49 0h0m12 0h0m8 0h0m57 0h0m5 0h0m29 0h0m3 0h0m-181 1h0m2 0h0m39 0h0m16 0h0m14 0h0m58 0h0m25 0h0m2 0h0m23 0h0m-188 1h0m23 0h0m17 0h0m29 0h0m4 0h0m72 0h0m-119 1h0m23 0h0m79 0h0m4 0h0m-50 1h0m19 0h0m7 0h0m24 0h0m15 0h0m4 0h0m-54 1h0m14 0h0m44 0h0m21 0h0m-90 1h0m0 0h0m4 0h0m12 0h0m33 0h0m-72 1h0m11 0h0m17 0h0m21 0h0m31 0h0m25 0h0m-105 1h0m30 0h0m11 0h0m9 0h0m3 0h0m20 0h0m17 0h0m34 0h0m-113 1h0m5 0h0m59 0h0m1 0h0m46 0h0m-97 1h0m56 0h0m-28 1h0m7 0h0m62 0h0m-20 1h0m29 0h0m-22 1h0m-44 1h0m32 0h0m-5 1h0m9 0h0m7 0h0m9 0h0m-34 1h0m-701 1h0m727 0h0m-31 1h0m4 0h0m-6 1h0m21 0h0m23 0h0m7 1h0m-40 1h0m-11 1h0m2 0h0m1 1h0m23 0h0m-17 1h0m14 0h0m-9 1h0m37 0h0m-42 1h0m4 0h0m16 1h0m-12 1h0m-2 1h0m12 1h0m-4 3h0m7 1h0m9 0h0m-13 1h0m2 0h0m14 0h0m-7 1h0m1 0h0m-24 1h0m8 0h0m0 0h0m20 0h0m-24 1h0m4 0h0m18 0h0m-29 5h0m10 0h0m11 0h0m-24 1h0m7 0h0m25 1h0m-23 2h0m-6 1h0m6 0h0m2 0h0m20 0h0m-24 2h0m-3 1h0m23 0h0m0 1h0m9 0h0m11 0h0m-25 1h0m12 0h0m-38 1h0m1 0h0m1 0h0m31 0h0m13 0h0m-34 1h0m12 0h0m-10 1h0m4 0h0m-8 1h0m24 0h0m-16 1h0m1 0h0m9 0h0m14 1h0m-51 1h0m5 0h0m8 0h0m9 0h0m18 1h0m9 0h0m-52 1h0m25 0h0m-5 1h0m23 0h0m7 0h0m-55 2h0m15 0h0m15 0h0m-25 1h0m3 0h0m17 0h0m-18 1h0m39 1h0m-25 1h0m3 0h0m2 0h0m8 0h0m16 0h0m6 0h0m4 2h0m-69 1h0m11 0h0m7 0h0m14 0h0m-7 1h0m11 0h0m-31 1h0m10 0h0m42 0h0m-56 1h0m1 0h0m14 0h0m-17 2h0m13 0h0m35 0h0m11 0h0m-51 1h0m35 0h0m-31 1h0m1 0h0m-13 1h0m5 0h0m28 0h0m8 0h0m-48 1h0m11 0h0m1 0h0m17 0h0m6 0h0m7 0h0m25 1h0m-63 1h0m21 0h0m-18 1h0m4 0h0m-6 1h0m22 0h0m-31 1h0m69 0h0m-65 1h0m46 0h0m-41 2h0m-12 1h0m2 0h0m36 0h0m7 0h0m8 0h0m15 0h0m-64 1h0m-11 1h0m6 0h0m27 0h0m-30 1h0m7 0h0m30 0h0m-24 1h0m13 0h0m0 0h0m20 0h0m21 0h0m-51 1h0m0 1h0m32 0h0m1 0h0m29 0h0m-63 1h0m13 0h0m3 0h0m24 0h0m-47 1h0m4 0h0m64 0h0m-90 1h0m27 0h0m19 0h0m1 0h0m35 0h0m9 0h0m1 0h0m1 0h0m-46 1h0m3 0h0m0 0h0m-57 1h0m30 0h0m31 0h0m-55 1h0m80 0h0m1 0h0m-69 1h0m9 0h0m10 0h0m11 0h0m12 0h0m-18 1h0m46 0h0m4 0h0m8 0h0m-99 1h0m11 0h0m7 0h0m19 0h0m5 0h0m4 0h0m34 0h0m-20 1h0m7 0h0m10 0h0m-76 1h0m22 0h0m-2 1h0m11 0h0m-26 1h0m54 0h0m0 0h0m31 0h0m-94 1h0m84 1h0m-28 1h0m-65 1h0m4 0h0m9 0h0m84 0h0m2 1h0m-8 1h0m-30 1h0m34 0h0m-86 1h0m12 0h0m45 0h0m-25 2h0m30 0h0m9 0h0m5 0h0m-68 1h0m12 0h0m24 0h0m7 0h0m-1 1h0m13 0h0m11 0h0m-78 1h0m18 0h0m16 0h0m39 0h0m6 0h0m-27 1h0m16 0h0m-49 1h0m9 0h0m16 0h0m22 0h0m26 0h0m-77 1h0m14 0h0m7 0h0m14 0h0m5 0h0m9 0h0m10 0h0m0 0h0m-80 1h0m5 0h0m10 0h0m20 0h0m20 0h0m3 0h0m33 0h0m-77 1h0m70 0h0m-68 1h0m48 0h0m-32 1h0m52 0h0m12 0h0m-96 1h0m36 0h0m5 0h0m1 0h0m24 1h0m-55 1h0m29 0h0m-6 1h0m-32 1h0m28 0h0m7 0h0m-676 1h0m633 0h0m4 0h0m13 0h0m63 0h0m-31 1h0m31 0h0m2 0h0m12 0h0m-72 1h0m48 0h0m19 0h0m7 0h0m4 0h0m-91 1h0m18 0h0m21 0h0m8 1h0m-41 1h0m15 0h0m41 1h0m3 0h0m13 0h0m13 0h0m-99 1h0m3 0h0m46 0h0m20 0h0m-59 1h0m12 0h0m30 0h0m21 0h0m12 0h0m-53 1h0m57 0h0m-64 1h0m58 0h0m-82 1h0m11 0h0m71 0h0m-67 1h0m9 0h0m32 0h0m-41 1h0m4 0h0m20 0h0m51 0h0m8 0h0m-32 1h0m13 0h0m20 0h0m-100 1h0m10 0h0m2 0h0m58 1h0m10 0h0m-64 1h0m2 0h0m4 0h0m2 0h0m1 0h0m27 0h0m20 0h0m7 0h0m11 0h0m-62 1h0m14 0h0m19 0h0m-67 1h0m19 0h0m72 0h0m12 0h0m-97 1h0m62 0h0m2 0h0m13 0h0m-87 1h0m21 0h0m5 0h0m4 0h0m11 0h0m36 0h0m17 0h0m-61 1h0m-31 1h0m33 0h0m12 0h0m4 0h0m16 0h0m-40 1h0m2 0h0m9 0h0m30 0h0m25 0h0m12 0h0m-90 1h0m55 0h0m33 0h0m-40 1h0m37 0h0m-55 1h0m17 0h0m26 0h0m-67 1h0m15 0h0m26 0h0m23 0h0m-51 1h0m-28 1h0m55 0h0m-53 1h0m19 0h0m7 0h0m40 0h0m-61 1h0m54 1h0m16 0h0m-78 1h0m32 0h0m5 1h0m37 0h0m-64 1h0m18 0h0m25 0h0m4 0h0m19 0h0m-83 1h0m88 0h0m6 0h0m-55 1h0m-27 1h0m13 0h0m7 0h0m35 0h0m-10 1h0m-35 1h0m32 0h0m21 0h0m-67 1h0m38 0h0m13 0h0m7 1h0m17 0h0m-86 1h0m82 1h0m-64 1h0m70 1h0m-78 1h0m53 0h0m21 0h0m-72 1h0m12 0h0m21 0h0m25 0h0m11 0h0m3 0h0m2 0h0m1 0h0m5 0h0m-688 2h0m617 0h0m24 0h0m16 0h0m-18 1h0m38 0h0m17 0h0m-90 1h0m1 0h0m12 0h0m27 0h0m24 0h0m26 0h0m-59 1h0m10 0h0m10 0h0m-2 1h0m9 0h0m8 1h0m14 0h0m-56 1h0m29 0h0m13 0h0m10 0h0m-24 1h0m-33 1h0m37 0h0m-62 1h0m62 0h0m-58 1h0m24 1h0m34 0h0m22 0h0m-71 1h0m9 0h0m10 0h0m9 0h0m15 0h0m29 0h0m0 0h0m-80 1h0m7 0h0m15 0h0m7 0h0m52 0h0m-81 2h0m15 0h0m11 0h0m-23 2h0m31 0h0m5 0h0m26 0h0m-51 1h0m7 0h0m21 2h0m7 0h0m33 0h0m-81 1h0m66 0h0m2 0h0m-37 1h0m15 0h0m35 0h0m-78 1h0m42 1h0m-50 1h0m7 0h0m8 0h0m8 0h0m36 0h0m-53 1h0m-9 1h0m29 0h0m22 0h0m3 0h0m4 0h0m-18 2h0m-23 1h0m8 0h0m-23 1h0m17 0h0m15 0h0m26 0h0m-33 2h0m19 0h0m33 0h0m-34 1h0m2 0h0m3 0h0m4 0h0m-48 1h0m51 0h0m8 0h0m-655 1h0m628 0h0m17 1h0m22 0h0m2 0h0m-72 1h0m17 0h0m42 0h0m17 0h0m-93 1h0m26 0h0m57 0h0m-81 1h0m78 0h0m-4 1h0m-39 1h0m-20 1h0m-8 1h0m-4 1h0m8 0h0m3 0h0m-10 1h0m-11 1h0m5 0h0m-574 1h0m593 0h0m19 0h0m45 0h0m-89 1h0m25 0h0m14 0h0m38 1h0m-39 2h0m-44 1h0m38 0h0m2 0h0m23 0h0m-41 1h0m10 0h0m-36 1h0m24 0h0m16 0h0m-44 1h0m17 1h0m28 0h0m18 0h0m8 0h0m-71 1h0m27 0h0m12 0h0m-48 1h0m17 0h0m1 0h0m16 2h0m34 0h0m-74 1h0m9 0h0m91 0h0m-83 1h0m6 0h0m54 0h0m-603 1h0m572 0h0m5 0h0m-21 1h0m4 0h0m-560 1h0m517 0h0m46 0h0m27 0h0m13 0h0m1 0h0m19 0h0m-106 1h0m64 0h0m42 0h0m-89 1h0m-8 1h0m7 0h0m59 0h0m-57 1h0m43 0h0m-573 1h0m561 0h0m-48 1h0m8 0h0m10 0h0m33 0h0m43 0h0m-75 2h0m47 0h0m-59 1h0m7 0h0m50 0h0m-575 1h0m2 0h0m597 0h0m15 0h0m-96 1h0m41 0h0m14 0h0m30 0h0m-67 1h0m25 0h0m55 0h0m1 0h0m-90 1h0m15 1h0m19 0h0m36 0h0m3 0h0m-76 1h0m26 0h0m2 0h0m60 0h0m-108 1h0m14 0h0m7 0h0m16 0h0m1 0h0m19 0h0m2 0h0m0 0h0m-50 2h0m30 0h0m16 0h0m52 0h0m-43 1h0m23 0h0m-65 1h0m17 0h0m10 0h0m-28 1h0m28 0h0m10 0h0m-552 1h0m533 0h0m3 0h0m49 0h0m-51 1h0m16 0h0m45 0h0m-105 1h0m22 0h0m-1 1h0m78 0h0m-97 1h0m11 0h0m17 0h0m55 0h0m-71 1h0m18 1h0m23 1h0m40 0h0m-59 1h0m21 0h0m11 0h0m-68 1h0m16 0h0m4 0h0m1 0h0m12 0h0m5 0h0m39 0h0m1 0h0m19 0h0m-97 1h0m19 0h0m28 0h0m23 1h0m-66 1h0m3 0h0m34 0h0m13 0h0m-52 1h0m4 1h0m15 0h0m68 0h0m-65 1h0m14 1h0m-9 1h0m-12 1h0m26 1h0m1 0h0m12 0h0m26 0h0m-77 1h0m3 1h0m12 0h0m61 1h0m-83 1h0m5 0h0m21 0h0m-494 1h0m481 0h0m36 0h0m8 1h0m-38 1h0m50 1h0m-533 1h0m468 0h0m49 0h0m0 1h0m-22 1h0m17 0h0m-51 1h0m31 0h0m11 0h0m2 0h0m3 1h0m22 0h0m-37 1h0m-29 3h0m59 0h0m-10 1h0m21 0h0m-69 1h0m-3 1h0m75 0h0m-77 1h0m7 0h0m41 0h0m6 0h0m-47 1h0m17 0h0m10 0h0m8 0h0m32 0h0m-64 1h0m36 0h0m-52 1h0m55 0h0m-62 2h0m4 0h0m-435 1h0m438 0h0m5 0h0m-9 1h0m27 0h0m-27 1h0m28 0h0m14 0h0m-45 1h0m12 1h0m16 0h0m-27 1h0m55 0h0m-15 1h0m-466 1h0m478 0h0m-39 1h0m2 0h0m8 0h0m26 0h0m21 0h0m-8 1h0m4 0h0m-29 1h0m25 0h0m-78 1h0m37 0h0m11 0h0m-45 1h0m-405 1h0m410 0h0m-7 1h0m5 0h0m58 0h0m-40 2h0m22 0h0m0 0h0m-39 1h0m14 0h0m45 0h0m2 0h0m-51 1h0m8 0h0m-17 1h0m3 0h0m33 1h0m-27 1h0m40 0h0m7 0h0m-22 1h0m20 0h0m-7 1h0m-56 1h0m39 0h0m-23 1h0m19 1h0m22 0h0m-28 1h0m-416 1h0m389 0h0m12 0h0m13 0h0m15 0h0m-50 1h0m22 1h0m-4 1h0m17 0h0m5 0h0m-26 1h0m1 0h0m21 0h0m-26 1h0m27 0h0m-408 1h0m372 0h0m10 0h0m42 0h0m-17 1h0m17 0h0m-15 1h0m9 0h0m-38 1h0m29 0h0m-12 1h0m5 0h0m13 0h0m-31 1h0m25 0h0m-15 1h0m-8 1h0m-16 1h0m5 1h0m10 0h0m7 0h0m22 1h0m-406 1h0m386 0h0m-32 2h0m60 0h0m-48 1h0m7 1h0m37 0h0m-49 1h0m23 0h0m-18 1h0m35 1h0m-23 1h0m-20 1h0m2 0h0m25 0h0m7 0h0m-48 1h0m16 1h0m1 0h0m-349 1h0m344 0h0m45 0h0m-390 1h0m1 1h0m332 0h0m9 0h0m26 0h0m22 0h0m-393 1h0m361 1h0m-357 1h0m370 0h0m2 0h0m-20 1h0m-347 1h0m-4 2h0m384 0h0m-383 1h0m4 0h0m329 0h0m6 1h0m-12 2h0m38 0h0m2 0h0m3 0h0m-342 1h0m1 0h0m280 0h0m46 0h0m-333 1h0m27 0h0m2 0h0m-29 1h0m9 0h0m7 0h0m1 0h0m2 0h0m271 0h0m20 0h0m-293 2h0m285 0h0m-309 1h0m296 0h0m29 0h0m7 0h0m-292 1h0m274 0h0m6 1h0m-299 1h0m4 0h0m2 0h0m277 0h0m10 0h0m-282 1h0m20 0h0m3 0h0m0 0h0m254 0h0m-296 1h0m283 0h0m-245 1h0m226 0h0m20 0h0m4 0h0m-289 1h0m2 0h0m275 0h0m33 0h0m5 0h0m-283 1h0m31 0h0m197 0h0m-197 1h0m195 0h0m23 0h0m1 0h0m-276 1h0m24 0h0m25 0h0m201 0h0m44 0h0m-245 1h0m11 0h0m20 0h0m185 0h0m-260 1h0m70 0h0m179 0h0m31 0h0m-250 1h0m21 0h0m208 0h0m19 0h0m-242 1h0m7 0h0m7 0h0m16 0h0m176 0h0m-174 1h0m2 0h0m26 0h0m157 0h0m-211 1h0m1 1h0m204 0h0m-223 1h0m46 0h0m10 0h0m121 0h0m53 0h0m-243 1h0m25 0h0m16 0h0m50 0h0m108 0h0m-194 1h0m83 0h0m132 0h0m31 0h0m-208 1h0m13 0h0m-30 1h0m13 0h0m184 0h0m20 0h0m-174 1h0m14 0h0m6 0h0m-78 1h0m6 0h0m74 0h0m2 0h0m10 0h0m76 0h0m38 0h0m-205 1h0m51 0h0m22 0h0m124 0h0m24 0h0m-153 1h0m115 0h0m25 0h0m-170 1h0m64 0h0m69 0h0m-173 1h0m89 0h0m60 0h0m41 0h0m-180 1h0m12 0h0m31 0h0m2 0h0m25 0h0m114 0h0m3 0h0m40 0h0m-159 1h0m7 0h0m69 0h0m8 0h0m8 0h0m25 0h0m21 0h0m-206 1h0m46 0h0m25 0h0m36 0h0m5 0h0m78 0h0m-184 1h0m42 0h0m91 0h0m51 0h0m16 0h0m6 0h0m-176 1h0m67 0h0m30 0h0m50 0h0m17 0h0m-176 1h0m53 0h0m4 0h0m101 0h0m-172 1h0m100 0h0m33 0h0m16 0h0m27 0h0m36 0h0m-192 1h0m2 0h0m85 0h0m36 0h0m21 0h0m8 0h0m4 0h0m-172 1h0m3 0h0m15 0h0m40 0h0m2 0h0m5 0h0m31 0h0m19 0h0m42 0h0m27 0h0m-178 1h0m6 0h0m39 0h0m34 0h0m14 0h0m27 0h0m74 0h0m7 0h0m-129 1h0m-62 1h0m20 0h0m10 0h0m20 0h0m16 0h0m6 0h0m69 0h0m25 0h0m-157 1h0m27 0h0m38 0h0m3 0h0m61 0h0m12 0h0m32 0h0m6 0h0m-125 1h0m44 0h0m19 0h0m16 0h0m2 0h0m0 0h0m47 0h0m-210 1h0m75 0h0m25 0h0m22 0h0m59 0h0m21 0h0m-165 1h0m72 0h0m5 0h0m5 0h0m8 0h0m17 0h0m9 0h0m38 0h0m-193 1h0m65 0h0m47 0h0m-56 1h0m5 0h0m11 0h0m7 0h0m12 0h0m12 0h0m50 0h0m9 0h0m50 0h0m-140 1h0m36 0h0m13 0h0m16 0h0m10 0h0m30 0h0m-147 1h0m36 0h0m18 0h0m8 0h0m18 0h0m7 0h0m13 0h0m26 0h0m2 0h0m8 0h0m-110 1h0m70 0h0m-100 1h0m23 0h0m55 0h0m6 0h0m33 0h0m18 0h0m27 0h0m15 0h0m-175 1h0m11 0h0m28 0h0m132 0h0m-122 1h0m28 0h0m12 0h0m62 0h0m-99 1h0m16 0h0m2 0h0m41 0h0m26 0h0m26 0h0m-139 1h0m117 0h0m15 0h0m-79 1h0m17 0h0m10 0h0m5 0h0m33 0h0m4 0h0m4 0h0m13 0h0m-93 1h0m6 0h0m55 0h0m16 0h0m10 0h0m15 0h0m0 0h0m1 0h0m-144 1h0m31 0h0m29 0h0m12 0h0m28 0h0m20 0h0m-119 1h0m100 0h0m33 0h0m-76 1h0m82 0h0m-154 1h0m38 0h0m1 0h0m44 0h0m35 0h0m-118 1h0m46 0h0m38 0h0m32 0h0m-64 1h0m10 0h0m-48 1h0m38 0h0m35 0h0m39 0h0m-118 1h0m26 0h0m16 0h0m9 0h0m24 0h0m-79 1h0m73 0h0m-62 1h0m78 0h0m18 0h0m34 0h0m-136 1h0m38 0h0m7 0h0m60 0h0m-96 1h0m10 0h0m3 0h0m23 0h0m75 0h0m-62 1h0m32 1h0m-82 1h0m27 0h0m46 0h0m-14 1h0m16 0h0m22 0h0m-80 1h0m51 0h0m-31 1h0m9 0h0m-32 1h0m21 0h0m12 0h0m6 1h0m-7 1h0m-30 1h0m2 0h0m8 0h0m-4 1h0m11 0h0m2 0h0m1 0h0m-16 1h0m11 0h0m6 0h0m37 0h0m-28 1h0m2 0h0m23 0h0m-19 1h0"/><path stroke="#4741e5" d="M1046 122h0m-14 5h0m20 0h0m-23 1h0m33 2h0m-38 1h0m36 0h0m-15 1h0m9 1h0m-26 1h0m12 0h0m-9 1h0m14 1h0m16 0h0m-7 1h0m-27 1h0m8 1h0m5 0h0m2 0h0m21 1h0m0 0h0m-24 1h0m2 0h0m9 0h0m7 0h0m-31 1h0m18 2h0m17 0h0m1 0h0m-32 1h0m5 1h0m-5 1h0m24 0h0m-10 1h0m-17 2h0m29 0h0m4 0h0m-25 1h0m4 0h0m-2 1h0m9 0h0m15 1h0m-28 1h0m31 0h0m-28 1h0m1 0h0m-10 2h0m32 0h0m-19 1h0m-18 1h0m5 0h0m27 1h0m-11 1h0m-14 1h0m15 0h0m5 0h0m7 0h0m-31 1h0m16 0h0m10 0h0m-5 1h0m12 0h0m-25 1h0m18 0h0m-16 1h0m-2 2h0m18 1h0m3 1h0m-17 1h0m18 0h0m-5 1h0m5 0h0m-13 1h0m12 0h0m-27 1h0m15 0h0m8 0h0m-11 1h0m3 0h0m-15 1h0m16 0h0m-5 1h0m-11 1h0m14 0h0m0 2h0m18 2h0m-10 1h0m-17 2h0m13 0h0m12 1h0m-15 1h0m7 0h0m0 1h0m-3 1h0m-8 2h0m-1 1h0m18 0h0m-1 3h0m-419 79h0m4 1h0m-35 1h0m3 0h0m45 0h0m-35 1h0m1 0h0m32 1h0m9 0h0m-16 1h0m16 0h0m-106 2h0m77 0h0m13 0h0m-80 1h0m2 0h0m6 0h0m9 0h0m10 0h0m6 0h0m21 0h0m1 0h0m3 0h0m-83 1h0m16 0h0m11 0h0m7 0h0m12 0h0m59 0h0m-96 1h0m8 0h0m7 0h0m26 0h0m5 0h0m13 0h0m44 0h0m2 0h0m-116 1h0m32 0h0m19 0h0m9 0h0m26 0h0m43 0h0m4 0h0m-136 1h0m15 0h0m1 0h0m6 0h0m19 0h0m44 0h0m6 0h0m-92 1h0m10 0h0m56 0h0m2 0h0m54 0h0m5 0h0m-85 1h0m69 0h0m4 0h0m-114 1h0m48 0h0m22 0h0m15 0h0m33 0h0m-111 1h0m41 0h0m40 0h0m13 0h0m7 0h0m16 0h0m-119 1h0m4 0h0m14 0h0m6 0h0m8 0h0m0 0h0m65 0h0m27 0h0m-99 1h0m18 0h0m6 0h0m18 0h0m30 0h0m8 0h0m15 0h0m7 0h0m11 0h0m-119 1h0m34 0h0m44 0h0m18 0h0m-99 1h0m10 0h0m28 0h0m12 0h0m20 0h0m29 0h0m28 0h0m-141 1h0m49 0h0m25 0h0m44 0h0m4 0h0m10 0h0m-89 1h0m11 0h0m8 0h0m22 0h0m-56 1h0m64 0h0m35 0h0m-268 1h0m126 0h0m3 0h0m24 0h0m11 0h0m32 0h0m30 0h0m7 0h0m7 0h0m26 0h0m19 0h0m-285 1h0m20 0h0m226 0h0m17 0h0m-253 1h0m16 0h0m110 0h0m1 0h0m31 0h0m5 0h0m7 0h0m36 0h0m13 0h0m6 0h0m4 0h0m-112 1h0m13 0h0m21 0h0m13 0h0m4 0h0m34 0h0m6 0h0m28 0h0m4 0h0m6 0h0m-255 1h0m15 0h0m105 0h0m74 0h0m3 0h0m37 0h0m6 0h0m22 0h0m-274 1h0m4 0h0m7 0h0m0 0h0m121 0h0m6 0h0m6 0h0m9 0h0m10 0h0m4 0h0m15 0h0m2 0h0m12 0h0m70 0h0m-239 1h0m115 0h0m13 0h0m42 0h0m6 0h0m3 0h0m4 0h0m25 0h0m26 0h0m33 0h0m-263 1h0m136 0h0m16 0h0m78 0h0m3 0h0m4 0h0m14 0h0m-282 1h0m15 0h0m1 0h0m8 0h0m109 0h0m0 0h0m50 0h0m5 0h0m0 0h0m3 0h0m31 0h0m0 0h0m8 0h0m18 0h0m1 0h0m7 0h0m13 0h0m3 0h0m-136 1h0m57 0h0m3 0h0m2 0h0m1 0h0m14 0h0m2 0h0m14 0h0m42 0h0m3 0h0m3 0h0m7 0h0m2 0h0m-150 1h0m7 0h0m35 0h0m1 0h0m2 0h0m16 0h0m2 0h0m1 0h0m36 0h0m40 0h0m10 0h0m-308 1h0m72 0h0m177 0h0m2 0h0m54 0h0m6 0h0m8 0h0m-288 1h0m36 0h0m110 0h0m29 0h0m18 0h0m20 0h0m2 0h0m14 0h0m16 0h0m30 0h0m5 0h0m7 0h0m-314 1h0m17 0h0m34 0h0m11 0h0m3 0h0m6 0h0m161 0h0m6 0h0m47 0h0m3 0h0m1 0h0m1 0h0m5 0h0m2 0h0m-303 1h0m1 0h0m59 0h0m17 0h0m94 0h0m71 0h0m40 0h0m3 0h0m1 0h0m-268 1h0m2 0h0m20 0h0m18 0h0m99 0h0m9 0h0m7 0h0m37 0h0m10 0h0m21 0h0m9 0h0m5 0h0m8 0h0m2 0h0m40 0h0m5 0h0m7 0h0m-334 1h0m40 0h0m21 0h0m35 0h0m202 0h0m13 0h0m3 0h0m-86 1h0m1 0h0m43 0h0m10 0h0m4 0h0m-233 1h0m1 0h0m135 0h0m1 0h0m22 0h0m28 0h0m0 0h0m79 0h0m-260 1h0m114 0h0m2 0h0m5 0h0m6 0h0m10 0h0m7 0h0m4 0h0m10 0h0m30 0h0m26 0h0m18 0h0m26 0h0m5 0h0m-215 1h0m14 0h0m85 0h0m5 0h0m30 0h0m7 0h0m13 0h0m57 0h0m1 0h0m29 0h0m-347 1h0m68 0h0m18 0h0m7 0h0m66 0h0m38 0h0m5 0h0m0 0h0m11 0h0m41 0h0m17 0h0m13 0h0m12 0h0m30 0h0m6 0h0m-271 1h0m34 0h0m46 0h0m2 0h0m1 0h0m13 0h0m2 0h0m5 0h0m73 0h0m8 0h0m4 0h0m23 0h0m29 0h0m-212 1h0m16 0h0m3 0h0m55 0h0m31 0h0m62 0h0m3 0h0m0 0h0m0 0h0m16 0h0m39 0h0m-316 1h0m69 0h0m2 0h0m27 0h0m20 0h0m3 0h0m12 0h0m14 0h0m5 0h0m11 0h0m24 0h0m29 0h0m52 0h0m15 0h0m38 0h0m19 0h0m-248 1h0m32 0h0m38 0h0m10 0h0m4 0h0m0 0h0m2 0h0m10 0h0m18 0h0m71 0h0m6 0h0m19 0h0m11 0h0m-232 1h0m62 0h0m32 0h0m12 0h0m9 0h0m6 0h0m23 0h0m4 0h0m5 0h0m2 0h0m22 0h0m24 0h0m27 0h0m2 0h0m24 0h0m14 0h0m2 0h0m-273 1h0m11 0h0m5 0h0m60 0h0m14 0h0m11 0h0m6 0h0m39 0h0m15 0h0m13 0h0m47 0h0m10 0h0m16 0h0m-232 1h0m25 0h0m3 0h0m18 0h0m29 0h0m31 0h0m7 0h0m2 0h0m18 0h0m12 0h0m53 0h0m10 0h0m37 0h0m30 0h0m4 0h0m-273 1h0m5 0h0m29 0h0m73 0h0m39 0h0m29 0h0m3 0h0m5 0h0m46 0h0m-232 1h0m0 0h0m16 0h0m29 0h0m84 0h0m25 0h0m9 0h0m18 0h0m12 0h0m29 0h0m87 0h0m-316 1h0m82 0h0m3 0h0m9 0h0m5 0h0m3 0h0m80 0h0m67 0h0m64 0h0m0 0h0m-417 1h0m6 0h0m100 0h0m41 0h0m3 0h0m22 0h0m24 0h0m10 0h0m77 0h0m52 0h0m33 0h0m49 0h0m-306 1h0m8 0h0m3 0h0m13 0h0m2 0h0m24 0h0m1 0h0m21 0h0m0 0h0m33 0h0m12 0h0m16 0h0m3 0h0m16 0h0m12 0h0m1 0h0m20 0h0m6 0h0m8 0h0m12 0h0m10 0h0m1 0h0m18 0h0m13 0h0m45 0h0m2 0h0m-301 1h0m6 0h0m30 0h0m18 0h0m56 0h0m44 0h0m4 0h0m33 0h0m24 0h0m51 0h0m27 0h0m-274 1h0m24 0h0m70 0h0m15 0h0m49 0h0m26 0h0m29 0h0m52 0h0m-212 1h0m0 0h0m3 0h0m11 0h0m2 0h0m13 0h0m22 0h0m3 0h0m100 0h0m13 0h0m33 0h0m11 0h0m9 0h0m3 0h0m21 0h0m2 0h0m-310 1h0m7 0h0m21 0h0m19 0h0m11 0h0m27 0h0m40 0h0m2 0h0m47 0h0m25 0h0m10 0h0m11 0h0m12 0h0m23 0h0m21 0h0m10 0h0m23 0h0m2 0h0m21 0h0m1 0h0m21 0h0m5 0h0m-343 1h0m1 0h0m1 0h0m141 0h0m43 0h0m19 0h0m8 0h0m11 0h0m2 0h0m24 0h0m7 0h0m13 0h0m34 0h0m9 0h0m10 0h0m-328 1h0m33 0h0m2 0h0m7 0h0m19 0h0m47 0h0m16 0h0m1 0h0m20 0h0m27 0h0m26 0h0m5 0h0m7 0h0m11 0h0m75 0h0m16 0h0m12 0h0m-320 1h0m1 0h0m1 0h0m23 0h0m5 0h0m6 0h0m48 0h0m4 0h0m10 0h0m39 0h0m52 0h0m2 0h0m18 0h0m5 0h0m4 0h0m4 0h0m15 0h0m28 0h0m8 0h0m65 0h0m11 0h0m-337 1h0m12 0h0m2 0h0m8 0h0m14 0h0m12 0h0m14 0h0m1 0h0m12 0h0m11 0h0m11 0h0m65 0h0m9 0h0m10 0h0m5 0h0m62 0h0m51 0h0m15 0h0m-319 1h0m39 0h0m2 0h0m13 0h0m10 0h0m8 0h0m1 0h0m32 0h0m21 0h0m16 0h0m9 0h0m18 0h0m78 0h0m15 0h0m35 0h0m21 0h0m3 0h0m5 0h0m29 0h0m-373 1h0m26 0h0m37 0h0m62 0h0m9 0h0m10 0h0m22 0h0m5 0h0m15 0h0m7 0h0m13 0h0m5 0h0m59 0h0m54 0h0m59 0h0m-373 1h0m6 0h0m2 0h0m7 0h0m2 0h0m5 0h0m19 0h0m12 0h0m32 0h0m7 0h0m1 0h0m1 0h0m3 0h0m19 0h0m16 0h0m32 0h0m10 0h0m5 0h0m12 0h0m15 0h0m30 0h0m26 0h0m2 0h0m31 0h0m31 0h0m5 0h0m27 0h0m-345 1h0m4 0h0m2 0h0m18 0h0m3 0h0m4 0h0m1 0h0m7 0h0m15 0h0m2 0h0m4 0h0m10 0h0m22 0h0m10 0h0m44 0h0m11 0h0m6 0h0m2 0h0m6 0h0m5 0h0m7 0h0m6 0h0m10 0h0m8 0h0m49 0h0m30 0h0m31 0h0m0 0h0m-320 1h0m38 0h0m10 0h0m24 0h0m84 0h0m14 0h0m7 0h0m9 0h0m33 0h0m3 0h0m36 0h0m3 0h0m2 0h0m30 0h0m6 0h0m14 0h0m4 0h0m6 0h0m15 0h0m8 0h0m24 0h0m-359 1h0m65 0h0m26 0h0m16 0h0m2 0h0m0 0h0m57 0h0m60 0h0m26 0h0m30 0h0m69 0h0m-374 1h0m14 0h0m28 0h0m14 0h0m11 0h0m5 0h0m1 0h0m9 0h0m13 0h0m95 0h0m1 0h0m19 0h0m4 0h0m16 0h0m31 0h0m12 0h0m38 0h0m40 0h0m12 0h0m15 0h0m-346 1h0m17 0h0m18 0h0m26 0h0m2 0h0m5 0h0m41 0h0m18 0h0m4 0h0m36 0h0m8 0h0m7 0h0m24 0h0m19 0h0m12 0h0m13 0h0m10 0h0m88 0h0m13 0h0m7 0h0m17 0h0m18 0h0m-410 1h0m22 0h0m34 0h0m7 0h0m33 0h0m1 0h0m24 0h0m14 0h0m50 0h0m5 0h0m14 0h0m12 0h0m21 0h0m15 0h0m19 0h0m10 0h0m11 0h0m1 0h0m15 0h0m14 0h0m27 0h0m8 0h0m7 0h0m16 0h0m9 0h0m6 0h0m19 0h0m-429 1h0m28 0h0m8 0h0m8 0h0m4 0h0m2 0h0m19 0h0m1 0h0m4 0h0m2 0h0m27 0h0m27 0h0m2 0h0m69 0h0m11 0h0m33 0h0m30 0h0m2 0h0m13 0h0m9 0h0m6 0h0m5 0h0m15 0h0m68 0h0m-376 1h0m11 0h0m2 0h0m23 0h0m16 0h0m18 0h0m31 0h0m2 0h0m10 0h0m15 0h0m21 0h0m7 0h0m1 0h0m4 0h0m6 0h0m3 0h0m1 0h0m25 0h0m42 0h0m30 0h0m60 0h0m5 0h0m6 0h0m34 0h0m37 0h0m-422 1h0m7 0h0m8 0h0m3 0h0m0 0h0m10 0h0m3 0h0m5 0h0m13 0h0m10 0h0m0 0h0m15 0h0m0 0h0m19 0h0m6 0h0m8 0h0m20 0h0m9 0h0m14 0h0m24 0h0m27 0h0m40 0h0m41 0h0m78 0h0m25 0h0m4 0h0m49 0h0m-428 1h0m6 0h0m4 0h0m1 0h0m7 0h0m29 0h0m75 0h0m10 0h0m11 0h0m54 0h0m36 0h0m19 0h0m5 0h0m35 0h0m71 0h0m3 0h0m36 0h0m39 0h0m-447 1h0m1 0h0m20 0h0m2 0h0m20 0h0m6 0h0m6 0h0m25 0h0m7 0h0m24 0h0m13 0h0m14 0h0m3 0h0m13 0h0m24 0h0m1 0h0m22 0h0m107 0h0m0 0h0m5 0h0m2 0h0m0 0h0m18 0h0m3 0h0m3 0h0m0 0h0m8 0h0m51 0h0m32 0h0m-421 1h0m2 0h0m21 0h0m3 0h0m24 0h0m4 0h0m25 0h0m1 0h0m1 0h0m25 0h0m36 0h0m3 0h0m30 0h0m36 0h0m6 0h0m29 0h0m51 0h0m30 0h0m39 0h0m7 0h0m35 0h0m42 0h0m21 0h0m-467 1h0m4 0h0m1 0h0m8 0h0m10 0h0m5 0h0m5 0h0m5 0h0m6 0h0m10 0h0m5 0h0m12 0h0m4 0h0m22 0h0m10 0h0m11 0h0m10 0h0m10 0h0m24 0h0m34 0h0m35 0h0m17 0h0m2 0h0m22 0h0m19 0h0m116 0h0m7 0h0m4 0h0m9 0h0m-426 1h0m42 0h0m43 0h0m1 0h0m16 0h0m13 0h0m30 0h0m40 0h0m37 0h0m1 0h0m35 0h0m11 0h0m20 0h0m35 0h0m40 0h0m26 0h0m14 0h0m1 0h0m10 0h0m8 0h0m64 0h0m3 0h0m-658 1h0m213 0h0m18 0h0m10 0h0m0 0h0m12 0h0m12 0h0m5 0h0m19 0h0m1 0h0m7 0h0m13 0h0m6 0h0m4 0h0m34 0h0m2 0h0m18 0h0m0 0h0m15 0h0m45 0h0m22 0h0m3 0h0m11 0h0m1 0h0m65 0h0m5 0h0m23 0h0m89 0h0m8 0h0m-660 1h0m180 0h0m3 0h0m16 0h0m9 0h0m45 0h0m23 0h0m3 0h0m3 0h0m1 0h0m1 0h0m2 0h0m21 0h0m12 0h0m47 0h0m29 0h0m15 0h0m7 0h0m11 0h0m12 0h0m5 0h0m10 0h0m25 0h0m81 0h0m29 0h0m-418 1h0m14 0h0m57 0h0m10 0h0m58 0h0m17 0h0m1 0h0m6 0h0m21 0h0m30 0h0m23 0h0m12 0h0m14 0h0m22 0h0m57 0h0m3 0h0m17 0h0m30 0h0m72 0h0m15 0h0m7 0h0m-476 1h0m2 0h0m17 0h0m3 0h0m14 0h0m2 0h0m6 0h0m1 0h0m10 0h0m1 0h0m14 0h0m0 0h0m40 0h0m15 0h0m10 0h0m0 0h0m13 0h0m10 0h0m21 0h0m40 0h0m111 0h0m0 0h0m26 0h0m10 0h0m110 0h0m-478 1h0m4 0h0m5 0h0m11 0h0m1 0h0m2 0h0m0 0h0m9 0h0m5 0h0m8 0h0m64 0h0m4 0h0m14 0h0m1 0h0m12 0h0m20 0h0m65 0h0m2 0h0m3 0h0m20 0h0m19 0h0m5 0h0m2 0h0m30 0h0m124 0h0m18 0h0m47 0h0m-463 1h0m3 0h0m10 0h0m5 0h0m9 0h0m2 0h0m0 0h0m43 0h0m9 0h0m4 0h0m10 0h0m3 0h0m2 0h0m20 0h0m15 0h0m12 0h0m26 0h0m4 0h0m15 0h0m2 0h0m0 0h0m4 0h0m1 0h0m21 0h0m9 0h0m33 0h0m42 0h0m5 0h0m47 0h0m3 0h0m11 0h0m14 0h0m27 0h0m5 0h0m34 0h0m-466 1h0m9 0h0m0 0h0m18 0h0m2 0h0m1 0h0m6 0h0m23 0h0m8 0h0m24 0h0m23 0h0m6 0h0m11 0h0m17 0h0m1 0h0m40 0h0m24 0h0m10 0h0m3 0h0m10 0h0m4 0h0m36 0h0m10 0h0m12 0h0m30 0h0m70 0h0m23 0h0m48 0h0m1 0h0m5 0h0m-674 1h0m197 0h0m6 0h0m46 0h0m2 0h0m11 0h0m9 0h0m20 0h0m7 0h0m10 0h0m18 0h0m12 0h0m43 0h0m11 0h0m42 0h0m12 0h0m5 0h0m14 0h0m35 0h0m36 0h0m3 0h0m10 0h0m15 0h0m-370 1h0m0 0h0m33 0h0m3 0h0m25 0h0m13 0h0m30 0h0m7 0h0m14 0h0m24 0h0m9 0h0m0 0h0m20 0h0m1 0h0m26 0h0m41 0h0m2 0h0m9 0h0m27 0h0m2 0h0m44 0h0m32 0h0m43 0h0m2 0h0m25 0h0m23 0h0m22 0h0m4 0h0m6 0h0m-490 1h0m21 0h0m4 0h0m29 0h0m14 0h0m6 0h0m52 0h0m1 0h0m1 0h0m5 0h0m10 0h0m53 0h0m49 0h0m30 0h0m4 0h0m31 0h0m23 0h0m10 0h0m37 0h0m18 0h0m1 0h0m58 0h0m7 0h0m3 0h0m-455 1h0m7 0h0m10 0h0m14 0h0m5 0h0m36 0h0m19 0h0m2 0h0m1 0h0m11 0h0m49 0h0m9 0h0m10 0h0m26 0h0m5 0h0m0 0h0m5 0h0m3 0h0m15 0h0m8 0h0m17 0h0m14 0h0m33 0h0m2 0h0m2 0h0m13 0h0m1 0h0m75 0h0m10 0h0m54 0h0m13 0h0m17 0h0m-478 1h0m10 0h0m4 0h0m26 0h0m98 0h0m10 0h0m0 0h0m2 0h0m17 0h0m6 0h0m20 0h0m41 0h0m15 0h0m10 0h0m7 0h0m27 0h0m21 0h0m17 0h0m4 0h0m12 0h0m58 0h0m2 0h0m7 0h0m38 0h0m1 0h0m-444 1h0m0 0h0m16 0h0m8 0h0m2 0h0m2 0h0m1 0h0m6 0h0m26 0h0m22 0h0m8 0h0m59 0h0m36 0h0m9 0h0m8 0h0m8 0h0m34 0h0m3 0h0m7 0h0m48 0h0m8 0h0m21 0h0m13 0h0m6 0h0m48 0h0m16 0h0m2 0h0m6 0h0m-442 1h0m0 0h0m13 0h0m3 0h0m11 0h0m12 0h0m12 0h0m5 0h0m1 0h0m35 0h0m32 0h0m16 0h0m46 0h0m5 0h0m10 0h0m13 0h0m35 0h0m28 0h0m1 0h0m15 0h0m40 0h0m13 0h0m33 0h0m20 0h0m53 0h0m8 0h0m15 0h0m-474 1h0m5 0h0m0 0h0m5 0h0m3 0h0m5 0h0m10 0h0m18 0h0m28 0h0m4 0h0m8 0h0m2 0h0m1 0h0m2 0h0m1 0h0m1 0h0m12 0h0m27 0h0m4 0h0m21 0h0m22 0h0m6 0h0m3 0h0m1 0h0m78 0h0m18 0h0m2 0h0m34 0h0m8 0h0m4 0h0m3 0h0m21 0h0m27 0h0m46 0h0m6 0h0m0 0h0m16 0h0m16 0h0m-473 1h0m7 0h0m2 0h0m1 0h0m8 0h0m13 0h0m2 0h0m51 0h0m5 0h0m21 0h0m27 0h0m13 0h0m26 0h0m3 0h0m9 0h0m2 0h0m7 0h0m54 0h0m7 0h0m8 0h0m9 0h0m9 0h0m51 0h0m86 0h0m11 0h0m24 0h0m5 0h0m5 0h0m9 0h0m-462 1h0m7 0h0m17 0h0m48 0h0m28 0h0m16 0h0m30 0h0m11 0h0m6 0h0m7 0h0m6 0h0m63 0h0m30 0h0m25 0h0m15 0h0m3 0h0m6 0h0m22 0h0m120 0h0m-432 1h0m0 0h0m2 0h0m6 0h0m2 0h0m0 0h0m14 0h0m20 0h0m24 0h0m45 0h0m52 0h0m58 0h0m31 0h0m54 0h0m44 0h0m16 0h0m6 0h0m32 0h0m45 0h0m-481 1h0m2 0h0m19 0h0m2 0h0m29 0h0m9 0h0m11 0h0m14 0h0m26 0h0m17 0h0m23 0h0m4 0h0m10 0h0m5 0h0m26 0h0m16 0h0m46 0h0m18 0h0m61 0h0m33 0h0m18 0h0m11 0h0m8 0h0m36 0h0m22 0h0m-680 1h0m206 0h0m2 0h0m18 0h0m4 0h0m10 0h0m3 0h0m19 0h0m5 0h0m2 0h0m0 0h0m3 0h0m2 0h0m3 0h0m46 0h0m1 0h0m28 0h0m3 0h0m19 0h0m4 0h0m12 0h0m25 0h0m8 0h0m15 0h0m3 0h0m13 0h0m25 0h0m22 0h0m61 0h0m22 0h0m41 0h0m50 0h0m20 0h0m-483 1h0m1 0h0m2 0h0m0 0h0m4 0h0m0 0h0m13 0h0m1 0h0m9 0h0m13 0h0m2 0h0m4 0h0m5 0h0m8 0h0m0 0h0m15 0h0m20 0h0m30 0h0m10 0h0m15 0h0m7 0h0m55 0h0m16 0h0m14 0h0m13 0h0m17 0h0m9 0h0m4 0h0m2 0h0m30 0h0m29 0h0m1 0h0m32 0h0m6 0h0m0 0h0m12 0h0m7 0h0m29 0h0m-439 1h0m4 0h0m2 0h0m12 0h0m29 0h0m8 0h0m15 0h0m8 0h0m7 0h0m22 0h0m5 0h0m28 0h0m21 0h0m49 0h0m18 0h0m6 0h0m24 0h0m44 0h0m59 0h0m37 0h0m70 0h0m-674 1h0m212 0h0m5 0h0m13 0h0m6 0h0m17 0h0m13 0h0m44 0h0m18 0h0m8 0h0m4 0h0m18 0h0m12 0h0m5 0h0m3 0h0m17 0h0m24 0h0m17 0h0m16 0h0m5 0h0m42 0h0m59 0h0m7 0h0m15 0h0m16 0h0m31 0h0m48 0h0m2 0h0m13 0h0m1 0h0m-452 1h0m6 0h0m40 0h0m11 0h0m46 0h0m22 0h0m19 0h0m4 0h0m31 0h0m4 0h0m4 0h0m50 0h0m7 0h0m17 0h0m34 0h0m3 0h0m41 0h0m118 0h0m-487 1h0m4 0h0m6 0h0m8 0h0m14 0h0m30 0h0m37 0h0m6 0h0m3 0h0m2 0h0m24 0h0m8 0h0m2 0h0m55 0h0m2 0h0m9 0h0m22 0h0m34 0h0m9 0h0m48 0h0m9 0h0m1 0h0m1 0h0m14 0h0m51 0h0m16 0h0m15 0h0m30 0h0m-454 1h0m25 0h0m52 0h0m5 0h0m5 0h0m33 0h0m31 0h0m45 0h0m48 0h0m66 0h0m6 0h0m7 0h0m29 0h0m44 0h0m38 0h0m5 0h0m19 0h0m6 0h0m-452 1h0m6 0h0m35 0h0m14 0h0m5 0h0m2 0h0m1 0h0m19 0h0m13 0h0m23 0h0m32 0h0m7 0h0m2 0h0m2 0h0m6 0h0m1 0h0m7 0h0m14 0h0m23 0h0m75 0h0m3 0h0m72 0h0m46 0h0m16 0h0m7 0h0m9 0h0m6 0h0m8 0h0m-467 1h0m3 0h0m25 0h0m13 0h0m13 0h0m18 0h0m3 0h0m5 0h0m19 0h0m4 0h0m4 0h0m12 0h0m9 0h0m3 0h0m1 0h0m6 0h0m8 0h0m8 0h0m14 0h0m21 0h0m4 0h0m9 0h0m4 0h0m27 0h0m15 0h0m18 0h0m33 0h0m1 0h0m45 0h0m10 0h0m43 0h0m5 0h0m56 0h0m8 0h0m-472 1h0m23 0h0m5 0h0m4 0h0m17 0h0m3 0h0m14 0h0m24 0h0m34 0h0m19 0h0m6 0h0m19 0h0m2 0h0m23 0h0m27 0h0m5 0h0m11 0h0m39 0h0m13 0h0m20 0h0m2 0h0m29 0h0m13 0h0m9 0h0m47 0h0m2 0h0m6 0h0m27 0h0m24 0h0m8 0h0m-463 1h0m3 0h0m10 0h0m29 0h0m1 0h0m9 0h0m4 0h0m9 0h0m2 0h0m9 0h0m0 0h0m11 0h0m9 0h0m29 0h0m20 0h0m22 0h0m25 0h0m4 0h0m20 0h0m5 0h0m5 0h0m17 0h0m63 0h0m2 0h0m26 0h0m23 0h0m11 0h0m6 0h0m8 0h0m10 0h0m-391 1h0m13 0h0m18 0h0m1 0h0m1 0h0m4 0h0m2 0h0m9 0h0m32 0h0m49 0h0m22 0h0m21 0h0m9 0h0m9 0h0m32 0h0m29 0h0m12 0h0m93 0h0m32 0h0m14 0h0m-408 1h0m1 0h0m13 0h0m12 0h0m20 0h0m45 0h0m3 0h0m4 0h0m23 0h0m0 0h0m8 0h0m4 0h0m25 0h0m2 0h0m46 0h0m6 0h0m2 0h0m15 0h0m7 0h0m27 0h0m15 0h0m57 0h0m16 0h0m28 0h0m22 0h0m8 0h0m5 0h0m49 0h0m15 0h0m-470 1h0m13 0h0m19 0h0m7 0h0m9 0h0m1 0h0m18 0h0m17 0h0m22 0h0m3 0h0m16 0h0m15 0h0m35 0h0m13 0h0m8 0h0m35 0h0m29 0h0m6 0h0m26 0h0m0 0h0m89 0h0m18 0h0m3 0h0m10 0h0m62 0h0m-485 1h0m3 0h0m6 0h0m19 0h0m12 0h0m14 0h0m11 0h0m16 0h0m2 0h0m24 0h0m10 0h0m20 0h0m4 0h0m2 0h0m47 0h0m0 0h0m10 0h0m30 0h0m8 0h0m1 0h0m1 0h0m50 0h0m6 0h0m7 0h0m6 0h0m35 0h0m2 0h0m23 0h0m2 0h0m22 0h0m61 0h0m15 0h0m-472 1h0m4 0h0m12 0h0m8 0h0m7 0h0m22 0h0m16 0h0m41 0h0m11 0h0m33 0h0m5 0h0m2 0h0m84 0h0m15 0h0m13 0h0m33 0h0m11 0h0m48 0h0m28 0h0m7 0h0m2 0h0m58 0h0m14 0h0m-468 1h0m8 0h0m19 0h0m7 0h0m36 0h0m14 0h0m9 0h0m10 0h0m8 0h0m4 0h0m3 0h0m8 0h0m0 0h0m37 0h0m9 0h0m6 0h0m21 0h0m2 0h0m39 0h0m3 0h0m16 0h0m13 0h0m70 0h0m28 0h0m10 0h0m10 0h0m67 0h0m3 0h0m12 0h0m4 0h0m-478 1h0m6 0h0m3 0h0m1 0h0m14 0h0m7 0h0m36 0h0m2 0h0m55 0h0m24 0h0m16 0h0m87 0h0m49 0h0m21 0h0m15 0h0m15 0h0m20 0h0m-356 1h0m1 0h0m15 0h0m9 0h0m49 0h0m15 0h0m26 0h0m10 0h0m23 0h0m0 0h0m12 0h0m26 0h0m8 0h0m60 0h0m3 0h0m6 0h0m33 0h0m36 0h0m9 0h0m15 0h0m1 0h0m17 0h0m18 0h0m32 0h0m-440 1h0m1 0h0m35 0h0m1 0h0m0 0h0m8 0h0m26 0h0m10 0h0m1 0h0m8 0h0m15 0h0m11 0h0m6 0h0m18 0h0m7 0h0m66 0h0m22 0h0m43 0h0m33 0h0m9 0h0m9 0h0m10 0h0m4 0h0m28 0h0m20 0h0m5 0h0m3 0h0m14 0h0m41 0h0m10 0h0m5 0h0m-457 1h0m13 0h0m22 0h0m16 0h0m4 0h0m27 0h0m1 0h0m4 0h0m15 0h0m1 0h0m3 0h0m40 0h0m13 0h0m8 0h0m5 0h0m113 0h0m12 0h0m5 0h0m32 0h0m15 0h0m25 0h0m66 0h0m24 0h0m-462 1h0m11 0h0m1 0h0m9 0h0m13 0h0m9 0h0m1 0h0m29 0h0m5 0h0m21 0h0m18 0h0m9 0h0m20 0h0m8 0h0m36 0h0m106 0h0m4 0h0m26 0h0m17 0h0m26 0h0m61 0h0m11 0h0m-439 1h0m5 0h0m14 0h0m13 0h0m10 0h0m1 0h0m6 0h0m3 0h0m14 0h0m15 0h0m7 0h0m14 0h0m4 0h0m64 0h0m1 0h0m28 0h0m4 0h0m9 0h0m64 0h0m19 0h0m38 0h0m17 0h0m12 0h0m7 0h0m41 0h0m9 0h0m18 0h0m12 0h0m-449 1h0m3 0h0m35 0h0m9 0h0m3 0h0m24 0h0m0 0h0m21 0h0m9 0h0m16 0h0m16 0h0m2 0h0m19 0h0m9 0h0m48 0h0m28 0h0m62 0h0m8 0h0m20 0h0m60 0h0m25 0h0m27 0h0m1 0h0m-423 1h0m29 0h0m19 0h0m40 0h0m5 0h0m15 0h0m1 0h0m2 0h0m6 0h0m1 0h0m25 0h0m2 0h0m9 0h0m17 0h0m14 0h0m4 0h0m10 0h0m32 0h0m29 0h0m64 0h0m4 0h0m2 0h0m45 0h0m8 0h0m3 0h0m25 0h0m-427 1h0m7 0h0m22 0h0m41 0h0m14 0h0m35 0h0m20 0h0m2 0h0m2 0h0m40 0h0m7 0h0m17 0h0m15 0h0m7 0h0m3 0h0m36 0h0m29 0h0m26 0h0m15 0h0m18 0h0m-364 1h0m6 0h0m6 0h0m5 0h0m7 0h0m15 0h0m1 0h0m20 0h0m0 0h0m6 0h0m7 0h0m3 0h0m11 0h0m13 0h0m8 0h0m14 0h0m9 0h0m7 0h0m9 0h0m10 0h0m15 0h0m38 0h0m6 0h0m25 0h0m25 0h0m28 0h0m54 0h0m29 0h0m5 0h0m34 0h0m-415 1h0m11 0h0m20 0h0m4 0h0m21 0h0m4 0h0m29 0h0m11 0h0m44 0h0m7 0h0m26 0h0m2 0h0m12 0h0m19 0h0m39 0h0m1 0h0m24 0h0m7 0h0m5 0h0m42 0h0m11 0h0m14 0h0m28 0h0m59 0h0m-429 1h0m48 0h0m5 0h0m6 0h0m10 0h0m13 0h0m23 0h0m1 0h0m14 0h0m1 0h0m42 0h0m21 0h0m13 0h0m40 0h0m5 0h0m5 0h0m4 0h0m19 0h0m18 0h0m10 0h0m33 0h0m4 0h0m24 0h0m20 0h0m30 0h0m3 0h0m-433 1h0m26 0h0m5 0h0m13 0h0m32 0h0m0 0h0m6 0h0m23 0h0m48 0h0m2 0h0m2 0h0m32 0h0m6 0h0m1 0h0m32 0h0m46 0h0m162 0h0m2 0h0m-422 1h0m6 0h0m4 0h0m20 0h0m7 0h0m16 0h0m12 0h0m8 0h0m33 0h0m15 0h0m2 0h0m10 0h0m1 0h0m32 0h0m2 0h0m20 0h0m6 0h0m6 0h0m36 0h0m2 0h0m1 0h0m7 0h0m54 0h0m15 0h0m57 0h0m6 0h0m21 0h0m39 0h0m-436 1h0m3 0h0m24 0h0m3 0h0m12 0h0m14 0h0m40 0h0m2 0h0m36 0h0m2 0h0m0 0h0m11 0h0m81 0h0m31 0h0m1 0h0m13 0h0m118 0h0m9 0h0m18 0h0m10 0h0m16 0h0m-457 1h0m1 0h0m2 0h0m3 0h0m14 0h0m31 0h0m13 0h0m37 0h0m69 0h0m6 0h0m23 0h0m3 0h0m36 0h0m2 0h0m0 0h0m1 0h0m21 0h0m3 0h0m20 0h0m16 0h0m10 0h0m13 0h0m3 0h0m61 0h0m4 0h0m29 0h0m20 0h0m0 0h0m2 0h0m9 0h0m2 0h0m-449 1h0m4 0h0m3 0h0m8 0h0m9 0h0m2 0h0m1 0h0m6 0h0m3 0h0m7 0h0m3 0h0m13 0h0m4 0h0m18 0h0m4 0h0m10 0h0m18 0h0m9 0h0m16 0h0m25 0h0m15 0h0m36 0h0m25 0h0m21 0h0m1 0h0m42 0h0m24 0h0m10 0h0m7 0h0m28 0h0m59 0h0m-433 1h0m6 0h0m8 0h0m16 0h0m2 0h0m2 0h0m13 0h0m8 0h0m13 0h0m24 0h0m6 0h0m2 0h0m14 0h0m33 0h0m11 0h0m5 0h0m9 0h0m22 0h0m1 0h0m27 0h0m10 0h0m17 0h0m25 0h0m14 0h0m8 0h0m37 0h0m15 0h0m23 0h0m0 0h0m20 0h0m38 0h0m-419 1h0m3 0h0m5 0h0m13 0h0m2 0h0m9 0h0m20 0h0m16 0h0m2 0h0m27 0h0m5 0h0m9 0h0m8 0h0m4 0h0m3 0h0m25 0h0m39 0h0m27 0h0m24 0h0m14 0h0m9 0h0m35 0h0m19 0h0m55 0h0m13 0h0m-386 1h0m11 0h0m37 0h0m34 0h0m13 0h0m1 0h0m22 0h0m38 0h0m11 0h0m44 0h0m10 0h0m31 0h0m37 0h0m30 0h0m54 0h0m25 0h0m15 0h0m20 0h0m-439 1h0m2 0h0m2 0h0m3 0h0m23 0h0m22 0h0m4 0h0m67 0h0m5 0h0m6 0h0m1 0h0m11 0h0m14 0h0m3 0h0m0 0h0m68 0h0m1 0h0m28 0h0m132 0h0m26 0h0m8 0h0m-402 1h0m35 0h0m1 0h0m3 0h0m11 0h0m32 0h0m5 0h0m28 0h0m9 0h0m8 0h0m5 0h0m28 0h0m5 0h0m46 0h0m4 0h0m38 0h0m36 0h0m10 0h0m68 0h0m2 0h0m-391 1h0m6 0h0m1 0h0m9 0h0m4 0h0m29 0h0m26 0h0m2 0h0m1 0h0m4 0h0m4 0h0m18 0h0m21 0h0m25 0h0m6 0h0m5 0h0m6 0h0m23 0h0m18 0h0m7 0h0m27 0h0m28 0h0m9 0h0m22 0h0m47 0h0m7 0h0m53 0h0m3 0h0m14 0h0m-429 1h0m28 0h0m7 0h0m0 0h0m40 0h0m15 0h0m2 0h0m2 0h0m16 0h0m1 0h0m0 0h0m9 0h0m13 0h0m15 0h0m52 0h0m8 0h0m10 0h0m7 0h0m26 0h0m3 0h0m4 0h0m11 0h0m0 0h0m22 0h0m10 0h0m16 0h0m85 0h0m24 0h0m-423 1h0m18 0h0m13 0h0m37 0h0m8 0h0m49 0h0m3 0h0m9 0h0m13 0h0m3 0h0m17 0h0m7 0h0m17 0h0m36 0h0m42 0h0m39 0h0m8 0h0m10 0h0m3 0h0m24 0h0m26 0h0m0 0h0m8 0h0m42 0h0m-434 1h0m50 0h0m5 0h0m16 0h0m10 0h0m9 0h0m17 0h0m1 0h0m15 0h0m6 0h0m11 0h0m31 0h0m6 0h0m23 0h0m33 0h0m1 0h0m28 0h0m18 0h0m49 0h0m17 0h0m52 0h0m-388 1h0m19 0h0m3 0h0m18 0h0m9 0h0m10 0h0m20 0h0m36 0h0m16 0h0m14 0h0m18 0h0m24 0h0m12 0h0m23 0h0m10 0h0m32 0h0m6 0h0m1 0h0m18 0h0m10 0h0m33 0h0m71 0h0m15 0h0m-404 1h0m7 0h0m8 0h0m7 0h0m13 0h0m1 0h0m0 0h0m14 0h0m1 0h0m17 0h0m6 0h0m18 0h0m11 0h0m5 0h0m18 0h0m2 0h0m2 0h0m11 0h0m38 0h0m8 0h0m21 0h0m49 0h0m34 0h0m1 0h0m36 0h0m2 0h0m5 0h0m39 0h0m-385 1h0m17 0h0m21 0h0m11 0h0m16 0h0m10 0h0m1 0h0m6 0h0m4 0h0m11 0h0m1 0h0m1 0h0m5 0h0m3 0h0m10 0h0m4 0h0m1 0h0m33 0h0m31 0h0m2 0h0m14 0h0m20 0h0m13 0h0m2 0h0m3 0h0m15 0h0m12 0h0m43 0h0m45 0h0m58 0h0m-418 1h0m8 0h0m1 0h0m1 0h0m30 0h0m9 0h0m0 0h0m17 0h0m33 0h0m4 0h0m8 0h0m5 0h0m1 0h0m2 0h0m8 0h0m11 0h0m5 0h0m12 0h0m4 0h0m29 0h0m0 0h0m3 0h0m10 0h0m31 0h0m28 0h0m9 0h0m98 0h0m31 0h0m21 0h0m-419 1h0m4 0h0m30 0h0m3 0h0m5 0h0m0 0h0m29 0h0m1 0h0m0 0h0m2 0h0m2 0h0m6 0h0m11 0h0m5 0h0m34 0h0m0 0h0m6 0h0m2 0h0m46 0h0m8 0h0m24 0h0m12 0h0m8 0h0m77 0h0m42 0h0m10 0h0m19 0h0m18 0h0m-401 1h0m26 0h0m14 0h0m1 0h0m1 0h0m7 0h0m1 0h0m15 0h0m5 0h0m15 0h0m9 0h0m42 0h0m4 0h0m11 0h0m24 0h0m9 0h0m7 0h0m34 0h0m13 0h0m18 0h0m1 0h0m41 0h0m18 0h0m62 0h0m30 0h0m1 0h0m-407 1h0m1 0h0m4 0h0m17 0h0m7 0h0m2 0h0m9 0h0m11 0h0m2 0h0m2 0h0m6 0h0m4 0h0m22 0h0m9 0h0m2 0h0m0 0h0m1 0h0m17 0h0m9 0h0m32 0h0m31 0h0m11 0h0m20 0h0m13 0h0m18 0h0m25 0h0m14 0h0m26 0h0m30 0h0m8 0h0m0 0h0m2 0h0m31 0h0m25 0h0m-401 1h0m15 0h0m10 0h0m2 0h0m10 0h0m36 0h0m4 0h0m10 0h0m4 0h0m5 0h0m3 0h0m16 0h0m16 0h0m22 0h0m10 0h0m48 0h0m21 0h0m5 0h0m15 0h0m59 0h0m89 0h0m-394 1h0m13 0h0m3 0h0m4 0h0m5 0h0m45 0h0m12 0h0m18 0h0m9 0h0m16 0h0m24 0h0m25 0h0m17 0h0m42 0h0m16 0h0m20 0h0m30 0h0m32 0h0m8 0h0m46 0h0m2 0h0m5 0h0m-395 1h0m0 0h0m6 0h0m4 0h0m11 0h0m5 0h0m27 0h0m38 0h0m4 0h0m25 0h0m13 0h0m12 0h0m11 0h0m25 0h0m15 0h0m46 0h0m1 0h0m7 0h0m0 0h0m22 0h0m13 0h0m32 0h0m12 0h0m24 0h0m-335 1h0m2 0h0m46 0h0m7 0h0m1 0h0m2 0h0m20 0h0m9 0h0m21 0h0m12 0h0m7 0h0m1 0h0m10 0h0m14 0h0m3 0h0m15 0h0m78 0h0m23 0h0m26 0h0m2 0h0m34 0h0m1 0h0m6 0h0m22 0h0m-346 1h0m6 0h0m27 0h0m12 0h0m8 0h0m1 0h0m14 0h0m20 0h0m26 0h0m2 0h0m23 0h0m8 0h0m0 0h0m26 0h0m13 0h0m5 0h0m4 0h0m34 0h0m12 0h0m13 0h0m8 0h0m3 0h0m4 0h0m12 0h0m-313 1h0m2 0h0m7 0h0m6 0h0m6 0h0m23 0h0m3 0h0m1 0h0m21 0h0m38 0h0m102 0h0m1 0h0m23 0h0m93 0h0m2 0h0m26 0h0m25 0h0m-374 1h0m1 0h0m22 0h0m6 0h0m25 0h0m6 0h0m14 0h0m15 0h0m2 0h0m4 0h0m0 0h0m22 0h0m15 0h0m9 0h0m0 0h0m1 0h0m19 0h0m11 0h0m36 0h0m10 0h0m14 0h0m22 0h0m28 0h0m40 0h0m27 0h0m4 0h0m21 0h0m-367 1h0m29 0h0m11 0h0m23 0h0m1 0h0m2 0h0m3 0h0m6 0h0m15 0h0m18 0h0m1 0h0m9 0h0m30 0h0m35 0h0m11 0h0m88 0h0m10 0h0m21 0h0m6 0h0m3 0h0m41 0h0m-371 1h0m32 0h0m14 0h0m1 0h0m7 0h0m19 0h0m19 0h0m4 0h0m13 0h0m18 0h0m6 0h0m3 0h0m2 0h0m8 0h0m16 0h0m4 0h0m16 0h0m5 0h0m23 0h0m14 0h0m6 0h0m9 0h0m7 0h0m43 0h0m28 0h0m11 0h0m33 0h0m0 0h0m10 0h0m-331 1h0m1 0h0m8 0h0m6 0h0m22 0h0m24 0h0m7 0h0m18 0h0m10 0h0m3 0h0m14 0h0m9 0h0m8 0h0m39 0h0m3 0h0m4 0h0m1 0h0m25 0h0m41 0h0m37 0h0m6 0h0m7 0h0m12 0h0m19 0h0m0 0h0m17 0h0m-379 1h0m1 0h0m9 0h0m7 0h0m9 0h0m2 0h0m9 0h0m2 0h0m8 0h0m20 0h0m15 0h0m4 0h0m10 0h0m20 0h0m2 0h0m5 0h0m8 0h0m11 0h0m108 0h0m24 0h0m23 0h0m39 0h0m14 0h0m-345 1h0m7 0h0m15 0h0m7 0h0m6 0h0m9 0h0m24 0h0m10 0h0m8 0h0m9 0h0m41 0h0m9 0h0m3 0h0m6 0h0m9 0h0m4 0h0m15 0h0m30 0h0m3 0h0m3 0h0m49 0h0m5 0h0m10 0h0m2 0h0m4 0h0m49 0h0m21 0h0m-358 1h0m10 0h0m1 0h0m9 0h0m17 0h0m0 0h0m5 0h0m0 0h0m1 0h0m4 0h0m4 0h0m28 0h0m7 0h0m11 0h0m8 0h0m22 0h0m2 0h0m6 0h0m17 0h0m6 0h0m19 0h0m40 0h0m43 0h0m28 0h0m11 0h0m8 0h0m50 0h0m11 0h0m-357 1h0m61 0h0m8 0h0m0 0h0m6 0h0m19 0h0m6 0h0m21 0h0m54 0h0m36 0h0m18 0h0m27 0h0m33 0h0m26 0h0m7 0h0m6 0h0m24 0h0m-361 1h0m10 0h0m0 0h0m48 0h0m9 0h0m6 0h0m10 0h0m4 0h0m13 0h0m18 0h0m24 0h0m13 0h0m7 0h0m1 0h0m17 0h0m20 0h0m12 0h0m32 0h0m11 0h0m1 0h0m4 0h0m17 0h0m1 0h0m56 0h0m-314 1h0m13 0h0m9 0h0m4 0h0m9 0h0m7 0h0m24 0h0m7 0h0m0 0h0m18 0h0m4 0h0m2 0h0m6 0h0m41 0h0m14 0h0m14 0h0m22 0h0m0 0h0m9 0h0m38 0h0m9 0h0m46 0h0m13 0h0m-312 1h0m8 0h0m2 0h0m3 0h0m1 0h0m1 0h0m7 0h0m5 0h0m20 0h0m5 0h0m1 0h0m5 0h0m0 0h0m14 0h0m16 0h0m11 0h0m4 0h0m0 0h0m17 0h0m1 0h0m1 0h0m3 0h0m6 0h0m16 0h0m42 0h0m10 0h0m2 0h0m8 0h0m86 0h0m43 0h0m-338 1h0m4 0h0m6 0h0m4 0h0m17 0h0m4 0h0m5 0h0m9 0h0m1 0h0m29 0h0m1 0h0m3 0h0m1 0h0m37 0h0m4 0h0m15 0h0m7 0h0m7 0h0m11 0h0m109 0h0m33 0h0m14 0h0m-331 1h0m3 0h0m4 0h0m5 0h0m6 0h0m83 0h0m7 0h0m10 0h0m19 0h0m11 0h0m10 0h0m2 0h0m2 0h0m32 0h0m23 0h0m1 0h0m2 0h0m10 0h0m0 0h0m47 0h0m5 0h0m19 0h0m31 0h0m-322 1h0m7 0h0m11 0h0m8 0h0m2 0h0m3 0h0m43 0h0m3 0h0m6 0h0m9 0h0m2 0h0m2 0h0m3 0h0m4 0h0m3 0h0m14 0h0m5 0h0m14 0h0m7 0h0m5 0h0m3 0h0m4 0h0m1 0h0m36 0h0m7 0h0m6 0h0m30 0h0m0 0h0m15 0h0m33 0h0m13 0h0m4 0h0m16 0h0m13 0h0m-335 1h0m14 0h0m20 0h0m2 0h0m9 0h0m7 0h0m1 0h0m5 0h0m2 0h0m22 0h0m1 0h0m11 0h0m13 0h0m32 0h0m3 0h0m3 0h0m5 0h0m20 0h0m4 0h0m32 0h0m0 0h0m12 0h0m27 0h0m1 0h0m59 0h0m-310 1h0m31 0h0m34 0h0m2 0h0m8 0h0m23 0h0m5 0h0m4 0h0m16 0h0m4 0h0m5 0h0m14 0h0m2 0h0m31 0h0m6 0h0m0 0h0m8 0h0m6 0h0m9 0h0m11 0h0m15 0h0m18 0h0m51 0h0m8 0h0m11 0h0m5 0h0m-620 1h0m303 0h0m26 0h0m1 0h0m1 0h0m30 0h0m1 0h0m2 0h0m17 0h0m1 0h0m19 0h0m44 0h0m53 0h0m34 0h0m28 0h0m47 0h0m-298 1h0m1 0h0m4 0h0m3 0h0m3 0h0m11 0h0m2 0h0m5 0h0m7 0h0m13 0h0m54 0h0m0 0h0m2 0h0m34 0h0m13 0h0m2 0h0m16 0h0m13 0h0m28 0h0m16 0h0m30 0h0m34 0h0m9 0h0m22 0h0m1 0h0m-316 1h0m19 0h0m23 0h0m11 0h0m18 0h0m39 0h0m1 0h0m1 0h0m11 0h0m6 0h0m6 0h0m22 0h0m8 0h0m5 0h0m24 0h0m27 0h0m27 0h0m18 0h0m1 0h0m13 0h0m15 0h0m9 0h0m11 0h0m-334 1h0m4 0h0m10 0h0m1 0h0m8 0h0m6 0h0m6 0h0m26 0h0m10 0h0m2 0h0m1 0h0m12 0h0m43 0h0m13 0h0m53 0h0m96 0h0m35 0h0m-328 1h0m14 0h0m4 0h0m4 0h0m8 0h0m5 0h0m10 0h0m2 0h0m5 0h0m3 0h0m9 0h0m7 0h0m7 0h0m11 0h0m7 0h0m26 0h0m12 0h0m57 0h0m4 0h0m20 0h0m1 0h0m17 0h0m25 0h0m13 0h0m25 0h0m-281 1h0m1 0h0m11 0h0m8 0h0m16 0h0m9 0h0m11 0h0m12 0h0m5 0h0m6 0h0m24 0h0m4 0h0m0 0h0m25 0h0m17 0h0m20 0h0m13 0h0m17 0h0m66 0h0m16 0h0m22 0h0m-315 1h0m28 0h0m2 0h0m5 0h0m1 0h0m4 0h0m6 0h0m32 0h0m7 0h0m28 0h0m10 0h0m6 0h0m8 0h0m5 0h0m1 0h0m23 0h0m17 0h0m104 0h0m-272 1h0m5 0h0m12 0h0m4 0h0m12 0h0m0 0h0m2 0h0m18 0h0m5 0h0m6 0h0m30 0h0m1 0h0m12 0h0m48 0h0m11 0h0m26 0h0m43 0h0m16 0h0m41 0h0m8 0h0m11 0h0m-323 1h0m15 0h0m17 0h0m9 0h0m10 0h0m2 0h0m15 0h0m1 0h0m4 0h0m9 0h0m5 0h0m9 0h0m8 0h0m11 0h0m10 0h0m5 0h0m29 0h0m62 0h0m1 0h0m32 0h0m5 0h0m27 0h0m2 0h0m5 0h0m8 0h0m10 0h0m4 0h0m-303 1h0m18 0h0m10 0h0m4 0h0m10 0h0m6 0h0m10 0h0m27 0h0m18 0h0m20 0h0m14 0h0m41 0h0m6 0h0m16 0h0m3 0h0m13 0h0m2 0h0m0 0h0m13 0h0m22 0h0m43 0h0m-302 1h0m2 0h0m0 0h0m36 0h0m10 0h0m0 0h0m4 0h0m4 0h0m2 0h0m15 0h0m3 0h0m40 0h0m14 0h0m4 0h0m15 0h0m8 0h0m3 0h0m13 0h0m8 0h0m7 0h0m55 0h0m5 0h0m53 0h0m18 0h0m-320 1h0m29 0h0m3 0h0m1 0h0m30 0h0m23 0h0m82 0h0m10 0h0m2 0h0m3 0h0m16 0h0m4 0h0m2 0h0m1 0h0m71 0h0m38 0h0m-311 1h0m15 0h0m37 0h0m1 0h0m19 0h0m2 0h0m11 0h0m17 0h0m12 0h0m5 0h0m2 0h0m26 0h0m13 0h0m7 0h0m61 0h0m6 0h0m37 0h0m5 0h0m31 0h0m8 0h0m-313 1h0m29 0h0m6 0h0m1 0h0m35 0h0m10 0h0m16 0h0m54 0h0m19 0h0m4 0h0m32 0h0m27 0h0m7 0h0m11 0h0m10 0h0m31 0h0m14 0h0m-303 1h0m1 0h0m1 0h0m0 0h0m14 0h0m11 0h0m4 0h0m11 0h0m2 0h0m0 0h0m1 0h0m5 0h0m2 0h0m0 0h0m5 0h0m18 0h0m1 0h0m9 0h0m3 0h0m21 0h0m10 0h0m2 0h0m5 0h0m43 0h0m8 0h0m48 0h0m10 0h0m13 0h0m21 0h0m-589 1h0m332 0h0m11 0h0m4 0h0m7 0h0m10 0h0m11 0h0m11 0h0m3 0h0m0 0h0m30 0h0m3 0h0m33 0h0m7 0h0m10 0h0m42 0h0m6 0h0m21 0h0m13 0h0m17 0h0m3 0h0m26 0h0m-233 1h0m15 0h0m26 0h0m14 0h0m4 0h0m7 0h0m0 0h0m21 0h0m53 0h0m2 0h0m1 0h0m48 0h0m71 0h0m-301 1h0m16 0h0m18 0h0m89 0h0m22 0h0m2 0h0m24 0h0m4 0h0m6 0h0m5 0h0m21 0h0m1 0h0m2 0h0m0 0h0m5 0h0m21 0h0m24 0h0m17 0h0m-283 1h0m2 0h0m2 0h0m17 0h0m5 0h0m5 0h0m3 0h0m6 0h0m6 0h0m30 0h0m17 0h0m30 0h0m2 0h0m124 0h0m6 0h0m2 0h0m24 0h0m24 0h0m-622 1h0m324 0h0m4 0h0m22 0h0m11 0h0m1 0h0m14 0h0m5 0h0m4 0h0m1 0h0m19 0h0m26 0h0m1 0h0m2 0h0m1 0h0m24 0h0m4 0h0m3 0h0m4 0h0m24 0h0m61 0h0m30 0h0m4 0h0m2 0h0m-269 1h0m4 0h0m76 0h0m16 0h0m24 0h0m6 0h0m7 0h0m23 0h0m13 0h0m25 0h0m8 0h0m2 0h0m10 0h0m7 0h0m41 0h0m-588 1h0m334 0h0m0 0h0m5 0h0m7 0h0m1 0h0m9 0h0m2 0h0m12 0h0m39 0h0m5 0h0m53 0h0m34 0h0m2 0h0m0 0h0m3 0h0m3 0h0m64 0h0m17 0h0m21 0h0m-286 1h0m7 0h0m20 0h0m8 0h0m3 0h0m17 0h0m6 0h0m13 0h0m6 0h0m9 0h0m25 0h0m22 0h0m17 0h0m0 0h0m3 0h0m4 0h0m29 0h0m45 0h0m40 0h0m21 0h0m-285 1h0m0 0h0m4 0h0m4 0h0m7 0h0m5 0h0m29 0h0m4 0h0m8 0h0m5 0h0m58 0h0m5 0h0m6 0h0m17 0h0m2 0h0m3 0h0m8 0h0m75 0h0m-235 1h0m1 0h0m42 0h0m8 0h0m2 0h0m16 0h0m13 0h0m3 0h0m18 0h0m0 0h0m11 0h0m11 0h0m21 0h0m4 0h0m21 0h0m3 0h0m10 0h0m14 0h0m49 0h0m7 0h0m6 0h0m18 0h0m-267 1h0m8 0h0m6 0h0m1 0h0m1 0h0m51 0h0m2 0h0m0 0h0m4 0h0m7 0h0m11 0h0m10 0h0m8 0h0m11 0h0m1 0h0m38 0h0m10 0h0m2 0h0m9 0h0m32 0h0m2 0h0m-214 1h0m3 0h0m2 0h0m14 0h0m9 0h0m11 0h0m17 0h0m17 0h0m16 0h0m0 0h0m18 0h0m46 0h0m12 0h0m12 0h0m9 0h0m5 0h0m13 0h0m59 0h0m-264 1h0m10 0h0m7 0h0m5 0h0m1 0h0m19 0h0m25 0h0m7 0h0m12 0h0m9 0h0m12 0h0m31 0h0m1 0h0m21 0h0m4 0h0m5 0h0m11 0h0m19 0h0m9 0h0m7 0h0m11 0h0m-197 1h0m26 0h0m28 0h0m2 0h0m21 0h0m4 0h0m13 0h0m24 0h0m11 0h0m57 0h0m26 0h0m15 0h0m-246 1h0m2 0h0m21 0h0m4 0h0m6 0h0m22 0h0m11 0h0m26 0h0m17 0h0m22 0h0m20 0h0m52 0h0m1 0h0m40 0h0m-255 1h0m17 0h0m4 0h0m1 0h0m4 0h0m4 0h0m11 0h0m3 0h0m8 0h0m9 0h0m3 0h0m30 0h0m1 0h0m4 0h0m27 0h0m16 0h0m5 0h0m25 0h0m1 0h0m2 0h0m26 0h0m1 0h0m-113 1h0m95 0h0m22 0h0m-196 1h0m3 0h0m3 0h0m1 0h0m5 0h0m31 0h0m1 0h0m5 0h0m21 0h0m6 0h0m14 0h0m10 0h0m1 0h0m15 0h0m29 0h0m56 0h0m-200 1h0m6 0h0m11 0h0m53 0h0m1 0h0m46 0h0m1 0h0m1 0h0m28 0h0m16 0h0m18 0h0m12 0h0m50 0h0m12 0h0m-258 1h0m28 0h0m2 0h0m12 0h0m4 0h0m7 0h0m15 0h0m5 0h0m2 0h0m16 0h0m16 0h0m2 0h0m8 0h0m15 0h0m1 0h0m5 0h0m9 0h0m16 0h0m34 0h0m6 0h0m5 0h0m9 0h0m30 0h0m10 0h0m0 0h0m8 0h0m-265 1h0m38 0h0m19 0h0m27 0h0m42 0h0m45 0h0m9 0h0m6 0h0m14 0h0m3 0h0m5 0h0m-201 1h0m8 0h0m13 0h0m7 0h0m5 0h0m13 0h0m5 0h0m7 0h0m8 0h0m5 0h0m17 0h0m12 0h0m7 0h0m17 0h0m17 0h0m23 0h0m23 0h0m2 0h0m12 0h0m9 0h0m15 0h0m9 0h0m14 0h0m5 0h0m-246 1h0m26 0h0m20 0h0m14 0h0m13 0h0m9 0h0m19 0h0m6 0h0m10 0h0m32 0h0m5 0h0m7 0h0m2 0h0m28 0h0m6 0h0m2 0h0m4 0h0m13 0h0m14 0h0m-237 1h0m6 0h0m8 0h0m7 0h0m28 0h0m2 0h0m12 0h0m6 0h0m10 0h0m4 0h0m4 0h0m16 0h0m2 0h0m16 0h0m38 0h0m32 0h0m3 0h0m23 0h0m26 0h0m-233 1h0m4 0h0m21 0h0m1 0h0m7 0h0m23 0h0m6 0h0m13 0h0m1 0h0m15 0h0m1 0h0m21 0h0m1 0h0m2 0h0m21 0h0m9 0h0m24 0h0m3 0h0m47 0h0m13 0h0m4 0h0m-239 1h0m8 0h0m6 0h0m17 0h0m9 0h0m15 0h0m29 0h0m3 0h0m17 0h0m6 0h0m23 0h0m40 0h0m19 0h0m41 0h0m-228 1h0m13 0h0m8 0h0m12 0h0m12 0h0m6 0h0m9 0h0m31 0h0m49 0h0m1 0h0m25 0h0m9 0h0m-158 1h0m3 0h0m16 0h0m3 0h0m8 0h0m29 0h0m4 0h0m5 0h0m8 0h0m15 0h0m4 0h0m7 0h0m16 0h0m19 0h0m8 0h0m4 0h0m11 0h0m6 0h0m13 0h0m4 0h0m-196 1h0m7 0h0m15 0h0m60 0h0m10 0h0m7 0h0m4 0h0m42 0h0m7 0h0m18 0h0m6 0h0m16 0h0m-170 1h0m3 0h0m6 0h0m4 0h0m33 0h0m6 0h0m7 0h0m25 0h0m52 0h0m26 0h0m4 0h0m13 0h0m-204 1h0m7 0h0m1 0h0m13 0h0m3 0h0m2 0h0m0 0h0m16 0h0m7 0h0m7 0h0m2 0h0m8 0h0m5 0h0m32 0h0m20 0h0m24 0h0m6 0h0m3 0h0m10 0h0m71 0h0m0 0h0m-237 1h0m15 0h0m4 0h0m2 0h0m3 0h0m41 0h0m3 0h0m10 0h0m70 0h0m9 0h0m55 0h0m26 0h0m-231 1h0m4 0h0m0 0h0m9 0h0m23 0h0m24 0h0m4 0h0m12 0h0m1 0h0m8 0h0m1 0h0m2 0h0m1 0h0m33 0h0m2 0h0m3 0h0m66 0h0m-188 1h0m17 0h0m3 0h0m3 0h0m2 0h0m14 0h0m17 0h0m3 0h0m0 0h0m53 0h0m14 0h0m13 0h0m36 0h0m4 0h0m-188 1h0m0 0h0m2 0h0m1 0h0m14 0h0m19 0h0m3 0h0m17 0h0m13 0h0m5 0h0m14 0h0m4 0h0m57 0h0m4 0h0m23 0h0m31 0h0m1 0h0m12 0h0m-221 1h0m14 0h0m7 0h0m13 0h0m3 0h0m18 0h0m65 0h0m1 0h0m5 0h0m3 0h0m25 0h0m16 0h0m17 0h0m0 0h0m7 0h0m23 0h0m2 0h0m14 0h0m-225 1h0m1 0h0m1 0h0m5 0h0m3 0h0m13 0h0m42 0h0m39 0h0m15 0h0m1 0h0m4 0h0m9 0h0m16 0h0m5 0h0m2 0h0m5 0h0m45 0h0m7 0h0m-193 1h0m7 0h0m1 0h0m15 0h0m2 0h0m8 0h0m2 0h0m0 0h0m21 0h0m26 0h0m34 0h0m8 0h0m78 0h0m-598 1h0m381 0h0m12 0h0m10 0h0m10 0h0m3 0h0m3 0h0m1 0h0m15 0h0m4 0h0m59 0h0m16 0h0m3 0h0m38 0h0m6 0h0m23 0h0m12 0h0m-203 1h0m52 0h0m9 0h0m39 0h0m9 0h0m7 0h0m19 0h0m0 0h0m1 0h0m65 0h0m-218 1h0m7 0h0m7 0h0m10 0h0m10 0h0m13 0h0m3 0h0m1 0h0m1 0h0m11 0h0m20 0h0m1 0h0m0 0h0m31 0h0m9 0h0m12 0h0m4 0h0m26 0h0m42 0h0m-193 1h0m1 0h0m9 0h0m8 0h0m24 0h0m8 0h0m9 0h0m23 0h0m12 0h0m2 0h0m6 0h0m5 0h0m1 0h0m4 0h0m35 0h0m37 0h0m-573 1h0m384 0h0m14 0h0m7 0h0m29 0h0m5 0h0m4 0h0m5 0h0m0 0h0m14 0h0m19 0h0m8 0h0m2 0h0m20 0h0m8 0h0m16 0h0m35 0h0m25 0h0m-193 1h0m34 0h0m21 0h0m13 0h0m23 0h0m11 0h0m22 0h0m5 0h0m19 0h0m7 0h0m0 0h0m-155 1h0m4 0h0m2 0h0m1 0h0m16 0h0m3 0h0m27 0h0m7 0h0m1 0h0m3 0h0m4 0h0m9 0h0m24 0h0m3 0h0m11 0h0m12 0h0m3 0h0m21 0h0m-116 1h0m17 0h0m3 0h0m0 0h0m22 0h0m22 0h0m4 0h0m1 0h0m1 0h0m6 0h0m12 0h0m19 0h0m4 0h0m2 0h0m-161 1h0m6 0h0m12 0h0m4 0h0m23 0h0m2 0h0m3 0h0m11 0h0m1 0h0m10 0h0m4 0h0m20 0h0m7 0h0m7 0h0m2 0h0m13 0h0m4 0h0m19 0h0m34 0h0m23 0h0m2 0h0m-208 1h0m2 0h0m4 0h0m5 0h0m22 0h0m8 0h0m34 0h0m11 0h0m4 0h0m16 0h0m26 0h0m7 0h0m38 0h0m13 0h0m9 0h0m-197 1h0m5 0h0m7 0h0m9 0h0m60 0h0m6 0h0m21 0h0m10 0h0m3 0h0m36 0h0m9 0h0m7 0h0m3 0h0m14 0h0m1 0h0m-578 1h0m394 0h0m5 0h0m8 0h0m7 0h0m8 0h0m11 0h0m33 0h0m66 0h0m43 0h0m-190 1h0m0 0h0m16 0h0m1 0h0m2 0h0m1 0h0m1 0h0m10 0h0m10 0h0m35 0h0m45 0h0m86 0h0m-206 1h0m2 0h0m24 0h0m28 0h0m16 0h0m24 0h0m0 0h0m15 0h0m8 0h0m17 0h0m11 0h0m2 0h0m12 0h0m4 0h0m2 0h0m7 0h0m4 0h0m9 0h0m15 0h0m3 0h0m-197 1h0m40 0h0m6 0h0m30 0h0m22 0h0m2 0h0m31 0h0m32 0h0m4 0h0m-164 1h0m2 0h0m62 0h0m76 0h0m5 0h0m-146 1h0m5 0h0m0 0h0m7 0h0m15 0h0m5 0h0m39 0h0m7 0h0m16 0h0m44 0h0m-132 1h0m4 0h0m27 0h0m10 0h0m10 0h0m3 0h0m8 0h0m0 0h0m6 0h0m10 0h0m2 0h0m14 0h0m0 0h0m33 0h0m4 0h0m29 0h0m11 0h0m1 0h0m3 0h0m-141 1h0m6 0h0m10 0h0m26 0h0m36 0h0m20 0h0m2 0h0m12 0h0m-544 1h0m397 0h0m28 0h0m49 0h0m22 0h0m5 0h0m10 0h0m17 0h0m30 0h0m30 0h0m1 0h0m-152 1h0m14 0h0m7 0h0m10 0h0m20 0h0m10 0h0m2 0h0m26 0h0m14 0h0m9 0h0m-151 1h0m7 0h0m10 0h0m21 0h0m5 0h0m15 0h0m39 0h0m2 0h0m10 0h0m11 0h0m15 0h0m35 0h0m2 0h0m4 0h0m6 0h0m-176 1h0m15 0h0m1 0h0m24 0h0m5 0h0m37 0h0m1 0h0m18 0h0m40 0h0m-145 1h0m5 0h0m22 0h0m2 0h0m4 0h0m7 0h0m9 0h0m1 0h0m1 0h0m8 0h0m9 0h0m10 0h0m12 0h0m1 0h0m4 0h0m55 0h0m2 0h0m15 0h0m13 0h0m-170 1h0m21 0h0m16 0h0m15 0h0m6 0h0m8 0h0m16 0h0m3 0h0m6 0h0m75 0h0m-144 1h0m7 0h0m1 0h0m3 0h0m0 0h0m3 0h0m14 0h0m9 0h0m65 0h0m3 0h0m2 0h0m-77 1h0m15 0h0m1 0h0m8 0h0m9 0h0m8 0h0m4 0h0m19 0h0m12 0h0m47 0h0m-178 1h0m16 0h0m28 0h0m6 0h0m7 0h0m2 0h0m10 0h0m8 0h0m14 0h0m39 0h0m32 0h0m22 0h0m-182 1h0m1 0h0m7 0h0m1 0h0m23 0h0m32 0h0m8 0h0m3 0h0m18 0h0m16 0h0m21 0h0m5 0h0m10 0h0m5 0h0m23 0h0m8 0h0m-110 1h0m4 0h0m13 0h0m-494 1h0m416 0h0m6 0h0m11 0h0m9 0h0m0 0h0m11 0h0m5 0h0m33 0h0m16 0h0m5 0h0m21 0h0m-534 1h0m411 0h0m2 0h0m5 0h0m8 0h0m12 0h0m35 0h0m8 0h0m3 0h0m13 0h0m5 0h0m7 0h0m0 0h0m34 0h0m14 0h0m25 0h0m-145 1h0m1 0h0m2 0h0m15 0h0m29 0h0m5 0h0m77 0h0m-147 1h0m1 0h0m0 0h0m10 0h0m14 0h0m2 0h0m19 0h0m4 0h0m1 0h0m3 0h0m40 0h0m5 0h0m14 0h0m24 0h0m10 0h0m-134 1h0m6 0h0m19 0h0m8 0h0m20 0h0m41 0h0m27 0h0m-144 1h0m14 0h0m0 0h0m2 0h0m24 0h0m45 0h0m32 0h0m2 0h0m37 0h0m-565 1h0m422 0h0m0 0h0m0 0h0m4 0h0m1 0h0m5 0h0m2 0h0m2 0h0m7 0h0m25 0h0m20 0h0m14 0h0m0 0h0m28 0h0m15 0h0m6 0h0m14 0h0m12 0h0m-145 1h0m7 0h0m10 0h0m10 0h0m14 0h0m21 0h0m22 0h0m0 0h0m16 0h0m1 0h0m0 0h0m29 0h0m9 0h0m-573 1h0m1 0h0m414 0h0m7 0h0m15 0h0m1 0h0m0 0h0m2 0h0m7 0h0m11 0h0m4 0h0m3 0h0m2 0h0m6 0h0m3 0h0m15 0h0m43 0h0m5 0h0m22 0h0m8 0h0m8 0h0m-155 1h0m25 0h0m16 0h0m2 0h0m17 0h0m5 0h0m64 0h0m3 0h0m8 0h0m7 0h0m-124 1h0m17 0h0m22 0h0m4 0h0m7 0h0m32 0h0m5 0h0m12 0h0m28 0h0m-116 1h0m23 0h0m57 0h0m5 0h0m3 0h0m16 0h0m-145 1h0m7 0h0m5 0h0m34 0h0m4 0h0m10 0h0m6 0h0m1 0h0m1 0h0m31 0h0m10 0h0m10 0h0m2 0h0m9 0h0m8 0h0m-138 1h0m1 0h0m18 0h0m12 0h0m22 0h0m1 0h0m21 0h0m3 0h0m10 0h0m5 0h0m2 0h0m19 0h0m24 0h0m3 0h0m15 0h0m1 0h0m14 0h0m-158 1h0m7 0h0m4 0h0m13 0h0m3 0h0m4 0h0m2 0h0m0 0h0m2 0h0m1 0h0m3 0h0m3 0h0m2 0h0m17 0h0m10 0h0m25 0h0m42 0h0m-134 1h0m2 0h0m1 0h0m3 0h0m4 0h0m13 0h0m2 0h0m9 0h0m4 0h0m39 0h0m11 0h0m32 0h0m26 0h0m4 0h0m-154 1h0m5 0h0m1 0h0m1 0h0m7 0h0m44 0h0m14 0h0m6 0h0m29 0h0m4 0h0m5 0h0m-123 1h0m5 0h0m1 0h0m27 0h0m6 0h0m17 0h0m6 0h0m9 0h0m11 0h0m2 0h0m5 0h0m72 0h0m-152 1h0m31 0h0m18 0h0m38 0h0m48 0h0m7 0h0m-154 1h0m63 0h0m6 0h0m5 0h0m14 0h0m6 0h0m6 0h0m24 0h0m21 0h0m-140 1h0m23 0h0m4 0h0m3 0h0m2 0h0m6 0h0m9 0h0m14 0h0m18 0h0m2 0h0m6 0h0m22 0h0m18 0h0m1 0h0m9 0h0m9 0h0m2 0h0m19 0h0m-83 1h0m9 0h0m29 0h0m43 0h0m-579 1h0m454 0h0m120 0h0m7 0h0m-169 1h0m4 0h0m22 0h0m1 0h0m13 0h0m1 0h0m9 0h0m5 0h0m15 0h0m2 0h0m22 0h0m3 0h0m13 0h0m30 0h0m7 0h0m7 0h0m-570 1h0m424 0h0m31 0h0m11 0h0m2 0h0m29 0h0m4 0h0m2 0h0m18 0h0m15 0h0m30 0h0m-130 1h0m11 0h0m27 0h0m18 0h0m25 0h0m1 0h0m54 0h0m-154 1h0m9 0h0m1 0h0m33 0h0m29 0h0m3 0h0m26 0h0m12 0h0m-112 1h0m12 0h0m2 0h0m0 0h0m10 0h0m1 0h0m17 0h0m11 0h0m14 0h0m21 0h0m16 0h0m35 0h0m11 0h0m10 0h0m3 0h0m-131 1h0m8 0h0m9 0h0m1 0h0m9 0h0m14 0h0m22 0h0m15 0h0m4 0h0m41 0h0m-136 1h0m26 0h0m8 0h0m21 0h0m1 0h0m21 0h0m13 0h0m24 0h0m13 0h0m5 0h0m-150 1h0m14 0h0m11 0h0m43 0h0m27 0h0m31 0h0m2 0h0m17 0h0m-140 1h0m2 0h0m17 0h0m10 0h0m9 0h0m6 0h0m25 0h0m16 0h0m33 0h0m10 0h0m-82 1h0m0 0h0m5 0h0m5 0h0m24 0h0m64 0h0m-135 1h0m15 0h0m16 0h0m7 0h0m26 0h0m24 0h0m1 0h0m20 0h0m25 0h0m0 0h0m-141 1h0m1 0h0m22 0h0m5 0h0m3 0h0m2 0h0m30 0h0m8 0h0m8 0h0m-76 1h0m55 0h0m16 0h0m35 0h0m-111 1h0m6 0h0m1 0h0m54 0h0m16 0h0m10 0h0m9 0h0m12 0h0m36 0h0m-125 1h0m7 0h0m12 0h0m6 0h0m15 0h0m15 0h0m11 0h0m56 0h0m-562 1h0m420 0h0m22 0h0m3 0h0m33 0h0m13 0h0m1 0h0m5 0h0m24 0h0m33 0h0m9 0h0m-139 1h0m3 0h0m3 0h0m10 0h0m6 0h0m12 0h0m27 0h0m12 0h0m1 0h0m50 0h0m18 0h0m-146 1h0m0 0h0m4 0h0m13 0h0m9 0h0m3 0h0m21 0h0m23 0h0m-71 1h0m13 0h0m6 0h0m4 0h0m46 0h0m3 0h0m10 0h0m34 0h0m4 0h0m7 0h0m-542 1h0m440 0h0m8 0h0m8 0h0m3 0h0m25 0h0m25 0h0m-508 1h0m1 0h0m413 0h0m2 0h0m13 0h0m6 0h0m15 0h0m1 0h0m11 0h0m6 0h0m19 0h0m2 0h0m51 0h0m20 0h0m-142 1h0m32 0h0m17 0h0m3 0h0m15 0h0m12 0h0m6 0h0m18 0h0m10 0h0m-528 1h0m411 0h0m4 0h0m13 0h0m0 0h0m9 0h0m0 0h0m12 0h0m5 0h0m22 0h0m11 0h0m12 0h0m1 0h0m29 0h0m-112 1h0m1 0h0m3 0h0m4 0h0m10 0h0m7 0h0m4 0h0m9 0h0m1 0h0m12 0h0m17 0h0m20 0h0m12 0h0m-89 1h0m37 0h0m43 0h0m2 0h0m0 0h0m7 0h0m33 0h0m-126 1h0m10 0h0m27 0h0m77 0h0m14 0h0m-136 1h0m3 0h0m3 0h0m7 0h0m44 0h0m16 0h0m-75 1h0m4 0h0m9 0h0m2 0h0m15 0h0m5 0h0m13 0h0m66 0h0m-100 1h0m13 0h0m2 0h0m5 0h0m4 0h0m0 0h0m2 0h0m23 0h0m54 0h0m-79 1h0m5 0h0m14 0h0m3 0h0m15 0h0m16 0h0m5 0h0m18 0h0m3 0h0m6 0h0m5 0h0m-123 1h0m1 0h0m27 0h0m3 0h0m4 0h0m2 0h0m54 0h0m-502 1h0m408 0h0m17 0h0m15 0h0m37 0h0m37 0h0m4 0h0m-107 1h0m12 0h0m5 0h0m1 0h0m36 0h0m14 0h0m23 0h0m-54 1h0m24 0h0m-53 1h0m5 0h0m73 0h0m3 0h0m15 0h0m-512 1h0m412 0h0m15 0h0m14 0h0m25 0h0m10 0h0m23 0h0m-81 1h0m3 0h0m1 0h0m1 0h0m29 0h0m3 0h0m24 0h0m5 0h0m11 0h0m6 0h0m3 0h0m-56 1h0m16 0h0m13 0h0m17 0h0m-498 1h0m427 0h0m2 0h0m8 0h0m2 0h0m52 0h0m-483 1h0m408 0h0m2 0h0m8 0h0m1 0h0m5 0h0m28 0h0m2 0h0m35 0h0m0 0h0m-81 1h0m0 0h0m3 0h0m29 0h0m41 0h0m17 0h0m-74 1h0m1 0h0m8 0h0m24 0h0m4 0h0m-52 1h0m3 0h0m14 0h0m24 0h0m31 0h0m-481 1h0m415 0h0m5 0h0m10 0h0m3 0h0m1 0h0m19 0h0m-456 1h0m6 0h0m407 0h0m26 0h0m11 0h0m17 0h0m4 0h0m-56 1h0m4 0h0m7 0h0m15 0h0m12 0h0m6 0h0m6 0h0m2 0h0m3 0h0m-57 1h0m28 0h0m6 0h0m23 0h0m12 0h0m-480 1h0m3 0h0m409 0h0m15 0h0m13 0h0m1 0h0m8 0h0m3 0h0m10 0h0m6 0h0m-462 1h0m413 0h0m12 1h0m17 0h0m2 0h0m17 0h0m-471 1h0m9 0h0m406 0h0m2 0h0m35 0h0m-7 1h0m10 0h0m11 0h0m-49 1h0m10 0h0m16 0h0m2 0h0m40 0h0m-65 1h0m3 0h0m2 0h0m7 0h0m9 0h0m14 0h0m6 0h0m17 0h0m3 0h0m6 0h0m-52 1h0m10 0h0m20 0h0m3 0h0m1 0h0m-48 1h0m36 0h0m5 0h0m20 0h0m8 0h0m10 0h0m-485 1h0m448 0h0m17 0h0m-470 1h0m410 0h0m18 0h0m11 0h0m36 0h0m1 0h0m9 0h0m-74 1h0m7 0h0m16 0h0m6 0h0m30 0h0m5 0h0m-36 1h0m12 0h0m32 0h0m-52 1h0m0 0h0m6 0h0m-429 1h0m426 0h0m8 0h0m-441 1h0m1 0h0m420 0h0m13 0h0m4 0h0m1 0h0m15 0h0m3 0h0m11 0h0m-40 1h0m17 0h0m8 0h0m1 0h0m9 0h0m-52 1h0m0 0h0m25 0h0m18 0h0m12 0h0m21 0h0m-484 1h0m408 0h0m7 0h0m10 0h0m14 0h0m1 0h0m12 0h0m15 0h0m-33 1h0m6 0h0m26 0h0m5 0h0m6 0h0m-44 1h0m22 0h0m10 0h0m-47 1h0m7 0h0m3 0h0m45 0h0m-463 1h0m407 0h0m22 0h0m5 0h0m10 0h0m3 0h0m10 0h0m15 0h0m-72 1h0m74 0h0m-59 1h0m22 0h0m4 0h0m5 0h0m26 0h0m-70 1h0m26 0h0m-423 1h0m436 0h0m18 0h0m-50 1h0m3 0h0m16 0h0m21 0h0m1 0h0m4 0h0m17 0h0m-66 1h0m9 0h0m16 0h0m4 0h0m15 0h0m18 0h0m-48 1h0m9 0h0m-10 1h0m11 1h0m1 0h0m3 0h0m5 0h0m-438 1h0m402 0h0m42 0h0m7 0h0m1 0h0m5 0h0m0 0h0m-50 1h0m20 0h0m3 0h0m27 0h0m2 0h0m-451 1h0m415 0h0m23 0h0m-431 1h0m389 0h0m64 0h0m-466 1h0m9 0h0m395 0h0m28 0h0m-424 1h0m404 0h0m20 0h0m21 0h0m-53 1h0m8 0h0m0 0h0m1 0h0m8 0h0m3 0h0m2 0h0m36 0h0m-31 1h0m9 0h0m5 0h0m11 0h0m-447 1h0m401 0h0m15 0h0m8 0h0m-422 1h0m3 0h0m394 0h0m15 0h0m10 0h0m9 1h0m21 0h0m-438 1h0m381 0h0m18 0h0m11 0h0m26 0h0m-41 1h0m19 0h0m-421 1h0m4 0h0m382 0h0m12 0h0m-7 1h0m3 0h0m8 0h0m-390 1h0m391 0h0m32 0h0m-434 1h0m396 0h0m34 0h0m4 0h0m-429 1h0m379 0h0m12 0h0m5 0h0m1 0h0m36 0h0m-435 1h0m385 0h0m25 0h0m3 0h0m-400 1h0m366 0h0m1 0h0m5 0h0m7 0h0m3 0h0m4 0h0m20 0h0m4 0h0m2 0h0m9 0h0m-24 1h0m14 0h0m-407 1h0m381 0h0m25 0h0m-414 1h0m372 0h0m1 0h0m2 0h0m5 0h0m13 0h0m26 0h0m-38 1h0m0 0h0m13 0h0m8 0h0m2 0h0m2 0h0m11 0h0m1 0h0m5 0h0m-420 1h0m361 0h0m1 0h0m12 0h0m3 0h0m5 0h0m29 0h0m2 0h0m-404 1h0m391 0h0m-400 1h0m361 0h0m1 0h0m4 0h0m10 0h0m14 0h0m-399 1h0m378 0h0m27 0h0m13 0h0m-406 1h0m377 0h0m2 0h0m20 0h0m13 0h0m7 0h0m-51 1h0m23 0h0m-376 1h0m351 0h0m22 0h0m13 0h0m-390 1h0m395 0h0m-18 1h0m-377 1h0m1 0h0m346 0h0m18 1h0m3 0h0m8 0h0m15 0h0m-393 1h0m8 0h0m12 0h0m325 0h0m21 0h0m8 0h0m0 0h0m4 0h0m-365 1h0m6 0h0m332 0h0m3 0h0m11 0h0m7 0h0m9 0h0m-360 1h0m342 0h0m8 0h0m23 0h0m-394 1h0m14 0h0m5 0h0m4 0h0m330 0h0m16 0h0m-358 1h0m368 0h0m15 0h0m3 0h0m-400 1h0m4 0h0m10 0h0m380 0h0m1 0h0m-393 1h0m8 0h0m16 0h0m-12 1h0m2 0h0m14 0h0m336 0h0m12 0h0m-358 1h0m362 0h0m5 0h0m-6 1h0m-14 1h0m9 0h0m2 0h0m-344 1h0m353 0h0m-375 1h0m10 0h0m367 0h0m-365 1h0m2 0h0m4 0h0m317 0h0m7 0h0m7 0h0m-342 2h0m330 0h0m7 0h0m20 0h0m1 0h0m-339 1h0m7 0h0m-23 1h0m31 0h0m292 0h0m18 0h0m-348 1h0m23 0h0m311 1h0m-319 1h0m345 0h0m-328 1h0m327 0h0m-359 1h0m10 1h0m15 0h0m-17 1h0m18 0h0m25 0h0m1 0h0m309 0h0m3 0h0m0 0h0m-350 1h0m18 0h0m9 0h0m296 0h0m11 0h0m-340 1h0m23 0h0m14 0h0m7 0h0m-22 2h0m8 0h0m323 0h0m5 0h0m-339 1h0m316 0h0m19 0h0m-330 1h0m2 0h0m7 1h0m16 0h0m291 0h0m8 0h0m-339 1h0m23 0h0m6 0h0m8 0h0m6 0h0m-49 1h0m49 0h0m305 0h0m-347 1h0m7 0h0m6 0h0m3 0h0m3 0h0m315 1h0m-335 1h0m5 0h0m0 0h0m336 0h0m2 0h0m-337 1h0m25 0h0m292 0h0m-290 1h0m24 0h0m275 0h0m-331 1h0m36 0h0m4 0h0m16 0h0m-19 1h0m24 0h0m262 0h0m-300 1h0m29 0h0m9 0h0m-44 1h0m4 0h0m35 0h0m0 0h0m1 0h0m251 0h0m-269 1h0m266 0h0m4 0h0m5 0h0m26 0h0m-25 1h0m11 0h0m-288 1h0m8 0h0m2 0h0m9 0h0m7 0h0m244 0h0m1 0h0m18 0h0m-318 1h0m17 0h0m-2 1h0m4 0h0m273 0h0m12 0h0m7 0h0m14 0h0m-325 1h0m14 0h0m279 0h0m28 0h0m3 0h0m-315 1h0m20 0h0m20 0h0m-49 1h0m3 0h0m4 0h0m29 0h0m5 0h0m262 0h0m-294 1h0m13 0h0m4 0h0m15 0h0m6 0h0m3 0h0m262 0h0m-267 1h0m4 0h0m8 0h0m4 0h0m7 0h0m-59 1h0m21 0h0m9 0h0m13 0h0m249 0h0m-262 1h0m18 0h0m3 0h0m261 0h0m-294 1h0m28 0h0m20 0h0m223 0h0m4 0h0m-294 1h0m8 0h0m3 0h0m277 0h0m-275 1h0m9 0h0m2 0h0m18 0h0m6 0h0m228 0h0m-241 1h0m10 0h0m24 0h0m3 0h0m-48 1h0m9 0h0m5 0h0m26 0h0m210 0h0m2 0h0m-261 1h0m56 0h0m214 0h0m-230 1h0m14 0h0m17 0h0m4 0h0m6 0h0m181 0h0m2 0h0m15 0h0m-280 1h0m17 0h0m21 0h0m32 0h0m18 0h0m175 0h0m13 0h0m-276 1h0m18 0h0m19 0h0m2 0h0m5 0h0m23 0h0m12 0h0m6 0h0m173 0h0m9 0h0m20 0h0m-276 1h0m45 0h0m24 0h0m-65 1h0m22 0h0m29 0h0m12 0h0m16 0h0m169 0h0m12 0h0m7 0h0m-236 1h0m38 0h0m4 0h0m15 0h0m-70 1h0m61 0h0m16 0h0m129 0h0m27 0h0m-202 1h0m9 0h0m22 0h0m2 0h0m7 0h0m14 0h0m130 0h0m4 0h0m3 0h0m10 0h0m-232 1h0m8 0h0m3 0h0m54 0h0m124 0h0m10 0h0m5 0h0m23 0h0m-223 1h0m35 0h0m12 0h0m6 0h0m9 0h0m5 0h0m120 0h0m12 0h0m17 0h0m4 0h0m-156 1h0m10 0h0m10 0h0m94 0h0m42 0h0m-211 1h0m22 0h0m3 0h0m3 0h0m34 0h0m25 0h0m78 0h0m-149 1h0m34 0h0m28 0h0m76 0h0m22 0h0m12 0h0m1 0h0m20 0h0m-182 1h0m35 0h0m8 0h0m12 0h0m93 0h0m5 0h0m23 0h0m-139 1h0m10 0h0m2 0h0m1 0h0m7 0h0m6 0h0m20 0h0m46 0h0m22 0h0m-172 1h0m38 0h0m33 0h0m43 0h0m77 0h0m14 0h0m-177 1h0m28 0h0m37 0h0m5 0h0m42 0h0m4 0h0m60 0h0m-155 1h0m18 0h0m27 0h0m20 0h0m6 0h0m68 0h0m1 0h0m6 0h0m-67 1h0m2 0h0m1 0h0m11 0h0m34 0h0m-67 1h0m19 0h0m12 0h0m20 0h0m11 0h0m12 0h0m-143 1h0m4 0h0m9 0h0m0 0h0m29 0h0m1 0h0m5 0h0m11 0h0m9 0h0m1 0h0m-58 1h0m34 0h0m11 0h0m26 0h0m20 0h0m56 0h0m-140 1h0m11 0h0m30 0h0m10 0h0m15 0h0m1 0h0m0 0h0m6 0h0m52 0h0m4 0h0m-135 1h0m20 0h0m25 0h0m-31 1h0m16 0h0m37 0h0m7 0h0m23 0h0m34 0h0m9 0h0m2 0h0m-122 1h0m2 0h0m15 0h0m2 0h0m15 0h0m22 0h0m26 0h0m28 0h0m4 0h0m-99 1h0m60 0h0m28 0h0m-83 1h0m11 0h0m3 0h0m35 0h0m19 0h0m-93 1h0m26 0h0m31 0h0m17 0h0m18 0h0m4 0h0m-90 1h0m36 0h0m34 1h0m-53 1h0m13 0h0m12 0h0m10 0h0m1 0h0m10 0h0m-41 1h0m18 0h0m-28 1h0m38 0h0m6 0h0m23 0h0m-26 1h0m-35 1h0m-6 1h0m20 1h0m10 1h0m17 0h0m-26 2h0m15 0h0m-10 1h0m3 0h0"/><path stroke="#4747eb" d="M382 314h0m2 0h0m6 2h0m-13 1h0m16 0h0m-25 1h0m11 1h0m2 0h0m3 0h0m0 0h0m-28 1h0m8 0h0m11 0h0m4 0h0m-13 1h0m17 0h0m-24 1h0m32 0h0m-39 1h0m5 0h0m11 0h0m2 0h0m5 0h0m16 0h0m-12 1h0m7 0h0m10 0h0m-38 1h0m26 0h0m14 0h0m5 0h0m-51 2h0m40 0h0m2 1h0m0 0h0m17 0h0m1 2h0m-68 1h0m57 0h0m18 0h0m-17 2h0m12 0h0m2 0h0m2 0h0m-83 3h0m99 0h0m-100 1h0m106 0h0m-6 1h0m-11 1h0m11 0h0m-6 1h0m20 0h0m-21 1h0m3 0h0m11 0h0m-3 1h0m-9 1h0m23 0h0m2 1h0m-28 1h0m1 0h0m11 0h0m-11 1h0m5 0h0m-100 1h0m129 0h0m-22 1h0m1 0h0m25 0h0m-13 1h0m14 0h0m-13 1h0m-10 1h0m18 0h0m-7 1h0m20 0h0m-22 1h0m8 0h0m-21 1h0m7 0h0m2 0h0m0 0h0m15 0h0m3 0h0m-18 1h0m7 0h0m26 0h0m-35 1h0m18 0h0m16 0h0m-32 1h0m21 0h0m-26 1h0m9 0h0m-3 1h0m4 0h0m42 0h0m-51 1h0m35 0h0m-149 1h0m127 0h0m8 0h0m4 0h0m14 0h0m-30 1h0m6 0h0m26 0h0m15 0h0m-47 1h0m7 0h0m25 0h0m2 0h0m0 0h0m-37 1h0m31 0h0m15 0h0m5 0h0m-14 1h0m3 0h0m-37 1h0m7 0h0m6 0h0m16 0h0m4 0h0m6 0h0m9 0h0m-43 1h0m6 0h0m2 0h0m1 0h0m34 0h0m2 0h0m6 0h0m2 0h0m-55 1h0m21 0h0m4 0h0m26 0h0m0 0h0m0 0h0m3 0h0m6 0h0m-47 1h0m18 0h0m10 0h0m16 0h0m-18 1h0m-25 1h0m13 0h0m5 0h0m15 0h0m3 0h0m1 0h0m1 0h0m-28 1h0m11 0h0m0 0h0m1 0h0m25 0h0m-52 1h0m7 0h0m4 0h0m8 0h0m4 0h0m14 0h0m2 0h0m11 0h0m-48 1h0m0 0h0m15 0h0m0 0h0m6 0h0m2 0h0m3 0h0m3 0h0m2 0h0m8 0h0m4 0h0m-50 1h0m12 0h0m1 0h0m31 0h0m10 0h0m-36 1h0m7 0h0m2 0h0m16 0h0m3 0h0m1 0h0m0 0h0m7 0h0m-35 1h0m1 0h0m23 0h0m12 0h0m-27 1h0m8 0h0m12 0h0m-19 1h0m-23 1h0m4 0h0m0 0h0m12 0h0m0 0h0m0 0h0m3 0h0m4 0h0m7 0h0m17 0h0m1 0h0m-193 1h0m153 0h0m8 0h0m10 0h0m18 0h0m6 0h0m-41 1h0m1 0h0m6 0h0m4 0h0m15 0h0m10 0h0m10 0h0m-45 1h0m18 0h0m3 0h0m12 0h0m15 0h0m-41 1h0m12 0h0m13 0h0m14 0h0m-48 1h0m8 0h0m21 0h0m19 0h0m-199 1h0m159 0h0m6 0h0m14 0h0m-181 1h0m197 0h0m2 0h0m2 0h0m-27 1h0m-14 1h0m3 0h0m17 0h0m-24 1h0m3 0h0m9 0h0m20 0h0m-30 1h0m10 0h0m26 0h0m2 1h0m1 0h0m0 0h0m5 0h0m1 0h0m-202 1h0m172 0h0m20 0h0m-192 1h0m159 0h0m1 0h0m11 0h0m0 0h0m8 0h0m1 0h0m1 0h0m22 0h0m-13 1h0m2 0h0m-35 1h0m9 0h0m1 0h0m4 0h0m17 0h0m-29 1h0m1 0h0m12 0h0m1 0h0m29 0h0m4 0h0m-34 1h0m17 0h0m-26 1h0m22 0h0m20 0h0m-39 1h0m0 0h0m3 0h0m11 0h0m4 0h0m9 0h0m-22 1h0m9 0h0m4 0h0m1 0h0m2 0h0m8 0h0m15 0h0m2 0h0m-48 1h0m0 0h0m8 0h0m9 0h0m11 0h0m2 0h0m-1 1h0m-9 1h0m3 0h0m4 0h0m-14 1h0m1 0h0m6 0h0m15 0h0m1 0h0m9 0h0m3 0h0m-50 1h0m10 0h0m4 0h0m28 0h0m-29 1h0m13 0h0m0 0h0m21 0h0m-24 1h0m12 0h0m18 0h0m-32 1h0m24 1h0m8 0h0m-42 1h0m8 0h0m19 0h0m13 0h0m2 0h0m-42 1h0m34 0h0m-209 1h0m173 0h0m13 0h0m17 0h0m16 0h0m-42 1h0m15 0h0m0 0h0m1 0h0m3 0h0m14 0h0m1 0h0m3 0h0m-214 1h0m190 0h0m13 0h0m2 0h0m1 0h0m7 0h0m3 0h0m-35 1h0m2 0h0m12 0h0m17 0h0m2 0h0m0 0h0m12 0h0m4 0h0m-50 1h0m14 0h0m4 0h0m7 0h0m1 0h0m20 0h0m1 0h0m-48 1h0m2 0h0m4 0h0m2 0h0m10 0h0m12 0h0m2 0h0m9 0h0m14 0h0m-60 1h0m3 0h0m12 0h0m2 0h0m5 0h0m31 0h0m-49 1h0m5 0h0m2 0h0m0 0h0m11 0h0m11 0h0m11 0h0m-34 1h0m17 0h0m4 0h0m6 0h0m13 0h0m5 0h0m6 0h0m-59 1h0m1 0h0m4 0h0m9 0h0m2 0h0m2 0h0m12 0h0m10 0h0m9 0h0m8 0h0m-54 1h0m8 0h0m47 0h0m-50 1h0m9 0h0m4 0h0m2 0h0m18 0h0m24 0h0m-46 1h0m7 0h0m7 0h0m34 0h0m-59 1h0m29 0h0m1 0h0m4 0h0m6 0h0m0 0h0m16 0h0m-61 1h0m1 0h0m20 0h0m11 0h0m3 0h0m1 0h0m16 0h0m5 0h0m-54 1h0m16 0h0m3 0h0m1 0h0m4 0h0m4 0h0m2 0h0m6 0h0m1 0h0m2 0h0m12 0h0m6 0h0m-44 1h0m4 0h0m10 0h0m20 0h0m20 0h0m-57 1h0m5 0h0m6 0h0m11 0h0m26 0h0m-247 1h0m190 0h0m5 0h0m10 0h0m21 0h0m27 0h0m2 0h0m6 0h0m3 0h0m-70 1h0m2 0h0m7 0h0m1 0h0m9 0h0m12 0h0m1 0h0m10 0h0m3 0h0m8 0h0m2 0h0m16 0h0m-70 1h0m12 0h0m28 0h0m4 0h0m11 0h0m2 0h0m-54 1h0m6 0h0m3 0h0m11 0h0m3 0h0m13 0h0m24 0h0m12 0h0m-70 1h0m20 0h0m15 0h0m5 0h0m15 0h0m7 0h0m1 0h0m1 0h0m-65 1h0m8 0h0m8 0h0m2 0h0m1 0h0m24 0h0m0 0h0m6 0h0m20 0h0m-63 1h0m6 0h0m5 0h0m21 0h0m9 0h0m25 0h0m-43 1h0m1 0h0m4 0h0m41 0h0m-80 1h0m7 0h0m42 0h0m5 0h0m2 0h0m6 0h0m1 0h0m13 0h0m-63 1h0m4 0h0m53 0h0m6 0h0m-66 1h0m9 0h0m6 0h0m1 0h0m1 0h0m-24 1h0m1 0h0m16 0h0m11 0h0m0 0h0m15 0h0m13 0h0m2 0h0m-60 1h0m17 0h0m16 0h0m7 0h0m3 0h0m27 0h0m5 0h0m-270 1h0m207 0h0m9 0h0m5 0h0m0 0h0m4 0h0m13 0h0m4 0h0m24 0h0m2 0h0m11 0h0m-82 1h0m9 0h0m11 0h0m0 0h0m5 0h0m2 0h0m12 0h0m7 0h0m18 0h0m5 0h0m-64 1h0m23 0h0m0 0h0m8 0h0m12 0h0m6 0h0m1 0h0m10 0h0m1 0h0m1 0h0m4 0h0m-34 1h0m4 0h0m2 0h0m16 0h0m9 0h0m16 0h0m4 0h0m-281 1h0m198 0h0m11 0h0m1 0h0m2 0h0m3 0h0m26 0h0m6 0h0m1 0h0m10 0h0m4 0h0m6 0h0m1 0h0m9 0h0m-74 1h0m1 0h0m9 0h0m6 0h0m5 0h0m0 0h0m4 0h0m12 0h0m6 0h0m2 0h0m15 0h0m8 0h0m7 0h0m-70 1h0m0 0h0m30 0h0m9 0h0m8 0h0m3 0h0m4 0h0m6 0h0m5 0h0m13 0h0m-89 1h0m3 0h0m52 0h0m1 0h0m28 0h0m-80 1h0m1 0h0m3 0h0m6 0h0m9 0h0m42 0h0m7 0h0m14 0h0m-79 1h0m19 0h0m33 0h0m1 0h0m2 0h0m8 0h0m2 0h0m-50 1h0m7 0h0m7 0h0m3 0h0m6 0h0m47 0h0m-87 1h0m6 0h0m8 0h0m0 0h0m39 0h0m5 0h0m10 0h0m18 0h0m-65 1h0m2 0h0m14 0h0m18 0h0m5 0h0m11 0h0m6 0h0m1 0h0m1 0h0m2 0h0m-71 1h0m2 0h0m4 0h0m6 0h0m6 0h0m14 0h0m3 0h0m9 0h0m17 0h0m16 0h0m4 0h0m2 0h0m-88 1h0m16 0h0m5 0h0m5 0h0m0 0h0m20 0h0m15 0h0m8 0h0m1 0h0m3 0h0m8 0h0m6 0h0m4 0h0m-300 1h0m207 0h0m9 0h0m7 0h0m10 0h0m3 0h0m2 0h0m23 0h0m2 0h0m17 0h0m6 0h0m-81 1h0m15 0h0m2 0h0m5 0h0m11 0h0m4 0h0m1 0h0m4 0h0m3 0h0m5 0h0m0 0h0m0 0h0m1 0h0m17 0h0m5 0h0m11 0h0m0 0h0m-287 1h0m204 0h0m2 0h0m15 0h0m0 0h0m6 0h0m9 0h0m8 0h0m15 0h0m2 0h0m9 0h0m13 0h0m14 0h0m-84 1h0m7 0h0m25 0h0m9 0h0m1 0h0m14 0h0m15 0h0m6 0h0m1 0h0m9 0h0m-89 1h0m8 0h0m2 0h0m1 0h0m4 0h0m6 0h0m16 0h0m13 0h0m8 0h0m-59 1h0m3 0h0m1 0h0m24 0h0m39 0h0m9 0h0m1 0h0m13 0h0m2 0h0m3 0h0m-79 1h0m10 0h0m7 0h0m1 0h0m0 0h0m35 0h0m-63 1h0m6 0h0m2 0h0m8 0h0m9 0h0m14 0h0m6 0h0m7 0h0m17 0h0m7 0h0m7 0h0m-61 1h0m4 0h0m30 0h0m11 0h0m1 0h0m11 0h0m6 0h0m-85 1h0m9 0h0m0 0h0m14 0h0m32 0h0m-274 1h0m215 0h0m26 0h0m1 0h0m23 0h0m8 0h0m28 0h0m11 0h0m4 0h0m-99 1h0m13 0h0m6 0h0m2 0h0m1 0h0m15 0h0m5 0h0m4 0h0m7 0h0m5 0h0m-53 1h0m18 0h0m4 0h0m37 0h0m3 0h0m14 0h0m3 0h0m6 0h0m2 0h0m1 0h0m-312 1h0m222 0h0m4 0h0m1 0h0m2 0h0m8 0h0m12 0h0m6 0h0m43 0h0m1 0h0m5 0h0m3 0h0m5 0h0m1 0h0m-71 1h0m3 0h0m31 0h0m8 0h0m0 0h0m5 0h0m8 0h0m6 0h0m8 0h0m-306 1h0m219 0h0m8 0h0m0 0h0m17 0h0m0 0h0m12 0h0m0 0h0m0 0h0m5 0h0m4 0h0m2 0h0m7 0h0m2 0h0m14 0h0m5 0h0m10 0h0m5 0h0m8 0h0m10 0h0m-330 1h0m231 0h0m19 0h0m4 0h0m12 0h0m3 0h0m18 0h0m9 0h0m1 0h0m20 0h0m2 0h0m1 0h0m4 0h0m-97 1h0m7 0h0m15 0h0m24 0h0m4 0h0m1 0h0m5 0h0m8 0h0m7 0h0m11 0h0m1 0h0m2 0h0m11 0h0m5 0h0m-90 1h0m2 0h0m3 0h0m6 0h0m2 0h0m15 0h0m0 0h0m7 0h0m21 0h0m2 0h0m40 0h0m-336 1h0m230 0h0m31 0h0m2 0h0m4 0h0m16 0h0m13 0h0m1 0h0m21 0h0m-311 1h0m224 0h0m10 0h0m8 0h0m1 0h0m41 0h0m9 0h0m15 0h0m18 0h0m-334 1h0m255 0h0m4 0h0m7 0h0m9 0h0m7 0h0m1 0h0m7 0h0m29 0h0m10 0h0m15 0h0m-108 1h0m2 0h0m0 0h0m2 0h0m5 0h0m14 0h0m1 0h0m16 0h0m2 0h0m14 0h0m34 0h0m4 0h0m-84 1h0m7 0h0m5 0h0m62 0h0m7 0h0m19 0h0m-106 1h0m3 0h0m16 0h0m13 0h0m5 0h0m2 0h0m0 0h0m0 0h0m7 0h0m4 0h0m2 0h0m0 0h0m1 0h0m2 0h0m8 0h0m4 0h0m10 0h0m5 0h0m-317 1h0m242 0h0m2 0h0m4 0h0m8 0h0m0 0h0m4 0h0m13 0h0m16 0h0m9 0h0m12 0h0m7 0h0m18 0h0m-90 1h0m3 0h0m2 0h0m11 0h0m19 0h0m5 0h0m2 0h0m3 0h0m10 0h0m12 0h0m0 0h0m16 0h0m9 0h0m2 0h0m-334 1h0m253 0h0m5 0h0m6 0h0m8 0h0m17 0h0m4 0h0m18 0h0m11 0h0m3 0h0m1 0h0m4 0h0m-96 1h0m17 0h0m1 0h0m0 0h0m4 0h0m5 0h0m2 0h0m8 0h0m9 0h0m2 0h0m5 0h0m40 0h0m3 0h0m-336 1h0m9 0h0m245 0h0m8 0h0m20 0h0m4 0h0m9 0h0m4 0h0m23 0h0m3 0h0m12 0h0m6 0h0m0 0h0m1 0h0m4 0h0m1 0h0m7 0h0m-348 1h0m238 0h0m17 0h0m12 0h0m8 0h0m1 0h0m18 0h0m5 0h0m21 0h0m-49 1h0m9 0h0m14 0h0m3 0h0m2 0h0m1 0h0m9 0h0m6 0h0m6 0h0m7 0h0m15 0h0m1 0h0m-106 1h0m3 0h0m1 0h0m2 0h0m4 0h0m7 0h0m22 0h0m5 0h0m6 0h0m6 0h0m8 0h0m15 0h0m7 0h0m-81 1h0m2 0h0m16 0h0m6 0h0m3 0h0m6 0h0m17 0h0m9 0h0m14 0h0m18 0h0m16 0h0m-355 1h0m268 0h0m5 0h0m1 0h0m29 0h0m2 0h0m24 0h0m9 0h0m12 0h0m4 0h0m-103 1h0m2 0h0m1 0h0m18 0h0m22 0h0m4 0h0m0 0h0m10 0h0m5 0h0m31 0h0m10 0h0m-350 1h0m249 0h0m0 0h0m8 0h0m6 0h0m0 0h0m0 0h0m12 0h0m7 0h0m3 0h0m3 0h0m11 0h0m4 0h0m3 0h0m22 0h0m1 0h0m14 0h0m11 0h0m-92 1h0m1 0h0m0 0h0m4 0h0m8 0h0m0 0h0m1 0h0m2 0h0m0 0h0m21 0h0m1 0h0m5 0h0m11 0h0m38 0h0m1 0h0m3 0h0m-105 1h0m7 0h0m45 0h0m18 0h0m3 0h0m1 0h0m32 0h0m-353 1h0m256 0h0m20 0h0m14 0h0m5 0h0m6 0h0m6 0h0m7 0h0m5 0h0m0 0h0m2 0h0m2 0h0m8 0h0m4 0h0m8 0h0m9 0h0m4 0h0m2 0h0m-360 1h0m3 0h0m247 0h0m8 0h0m8 0h0m19 0h0m1 0h0m2 0h0m8 0h0m5 0h0m11 0h0m7 0h0m10 0h0m16 0h0m5 0h0m4 0h0m-102 1h0m10 0h0m1 0h0m19 0h0m4 0h0m4 0h0m7 0h0m3 0h0m27 0h0m24 0h0m5 0h0m5 0h0m-106 1h0m17 0h0m1 0h0m5 0h0m2 0h0m2 0h0m0 0h0m20 0h0m16 0h0m7 0h0m1 0h0m20 0h0m2 0h0m7 0h0m6 0h0m-361 1h0m257 0h0m4 0h0m1 0h0m1 0h0m1 0h0m3 0h0m40 0h0m4 0h0m3 0h0m15 0h0m6 0h0m7 0h0m-83 1h0m4 0h0m9 0h0m16 0h0m25 0h0m1 0h0m8 0h0m6 0h0m6 0h0m5 0h0m14 0h0m-97 1h0m6 0h0m6 0h0m17 0h0m18 0h0m11 0h0m1 0h0m1 0h0m6 0h0m3 0h0m4 0h0m3 0h0m4 0h0m0 0h0m3 0h0m22 0h0m2 0h0m-105 1h0m1 0h0m1 0h0m13 0h0m5 0h0m4 0h0m4 0h0m6 0h0m3 0h0m17 0h0m9 0h0m2 0h0m12 0h0m13 0h0m3 0h0m-345 1h0m252 0h0m10 0h0m1 0h0m28 0h0m6 0h0m6 0h0m24 0h0m15 0h0m8 0h0m-360 1h0m268 0h0m4 0h0m19 0h0m2 0h0m0 0h0m0 0h0m1 0h0m0 0h0m43 0h0m2 0h0m7 0h0m4 0h0m13 0h0m10 0h0m-99 1h0m12 0h0m1 0h0m5 0h0m1 0h0m3 0h0m0 0h0m1 0h0m1 0h0m14 0h0m4 0h0m1 0h0m1 0h0m5 0h0m7 0h0m16 0h0m5 0h0m11 0h0m10 0h0m-100 1h0m3 0h0m11 0h0m10 0h0m1 0h0m7 0h0m1 0h0m1 0h0m3 0h0m2 0h0m0 0h0m19 0h0m12 0h0m7 0h0m6 0h0m-344 1h0m286 0h0m2 0h0m2 0h0m4 0h0m11 0h0m10 0h0m2 0h0m4 0h0m2 0h0m1 0h0m14 0h0m17 0h0m5 0h0m-87 1h0m9 0h0m3 0h0m2 0h0m20 0h0m6 0h0m3 0h0m4 0h0m2 0h0m27 0h0m13 0h0m6 0h0m-369 1h0m271 0h0m0 0h0m4 0h0m0 0h0m44 0h0m13 0h0m9 0h0m6 0h0m6 0h0m1 0h0m-353 1h0m265 0h0m1 0h0m18 0h0m2 0h0m2 0h0m18 0h0m9 0h0m29 0h0m3 0h0m3 0h0m4 0h0m6 0h0m10 0h0m-378 1h0m281 0h0m8 0h0m1 0h0m13 0h0m2 0h0m4 0h0m0 0h0m16 0h0m0 0h0m7 0h0m4 0h0m5 0h0m5 0h0m2 0h0m7 0h0m3 0h0m1 0h0m0 0h0m1 0h0m5 0h0m2 0h0m3 0h0m2 0h0m5 0h0m-100 1h0m29 0h0m37 0h0m6 0h0m6 0h0m9 0h0m14 0h0m-373 1h0m2 0h0m275 0h0m8 0h0m8 0h0m15 0h0m4 0h0m2 0h0m2 0h0m15 0h0m0 0h0m1 0h0m12 0h0m5 0h0m3 0h0m-349 1h0m275 0h0m11 0h0m6 0h0m2 0h0m8 0h0m15 0h0m3 0h0m10 0h0m8 0h0m30 0h0m4 0h0m1 0h0m4 0h0m-99 1h0m10 0h0m2 0h0m9 0h0m13 0h0m13 0h0m0 0h0m4 0h0m1 0h0m6 0h0m2 0h0m4 0h0m3 0h0m0 0h0m4 0h0m1 0h0m0 0h0m21 0h0m-95 1h0m13 0h0m1 0h0m3 0h0m7 0h0m0 0h0m15 0h0m7 0h0m0 0h0m41 0h0m1 0h0m-88 1h0m1 0h0m6 0h0m20 0h0m6 0h0m16 0h0m13 0h0m5 0h0m5 0h0m5 0h0m16 0h0m10 0h0m-378 1h0m2 0h0m278 0h0m4 0h0m5 0h0m13 0h0m3 0h0m7 0h0m7 0h0m2 0h0m7 0h0m6 0h0m2 0h0m18 0h0m0 0h0m1 0h0m12 0h0m5 0h0m1 0h0m-375 1h0m295 0h0m8 0h0m3 0h0m5 0h0m25 0h0m3 0h0m0 0h0m6 0h0m3 0h0m6 0h0m8 0h0m9 0h0m8 0h0m4 0h0m-382 1h0m284 0h0m4 0h0m4 0h0m2 0h0m2 0h0m1 0h0m3 0h0m1 0h0m2 0h0m1 0h0m8 0h0m8 0h0m15 0h0m11 0h0m1 0h0m4 0h0m0 0h0m4 0h0m13 0h0m-86 1h0m5 0h0m1 0h0m3 0h0m2 0h0m9 0h0m4 0h0m4 0h0m7 0h0m8 0h0m5 0h0m4 0h0m0 0h0m9 0h0m3 0h0m22 0h0m-84 1h0m13 0h0m0 0h0m1 0h0m13 0h0m4 0h0m12 0h0m2 0h0m0 0h0m14 0h0m4 0h0m19 0h0m4 0h0m14 0h0m0 0h0m4 0h0m-103 1h0m5 0h0m2 0h0m4 0h0m4 0h0m4 0h0m1 0h0m7 0h0m1 0h0m1 0h0m14 0h0m2 0h0m4 0h0m16 0h0m14 0h0m6 0h0m10 0h0m0 0h0m5 0h0m1 0h0m1 0h0m1 0h0m-103 1h0m7 0h0m0 0h0m12 0h0m2 0h0m6 0h0m5 0h0m1 0h0m15 0h0m0 0h0m1 0h0m3 0h0m0 0h0m21 0h0m7 0h0m5 0h0m-83 1h0m3 0h0m8 0h0m1 0h0m10 0h0m3 0h0m1 0h0m5 0h0m32 0h0m4 0h0m15 0h0m7 0h0m2 0h0m0 0h0m-86 1h0m12 0h0m8 0h0m3 0h0m9 0h0m3 0h0m5 0h0m7 0h0m18 0h0m4 0h0m18 0h0m8 0h0m-384 1h0m289 0h0m2 0h0m3 0h0m0 0h0m4 0h0m4 0h0m4 0h0m6 0h0m7 0h0m4 0h0m1 0h0m17 0h0m9 0h0m9 0h0m1 0h0m12 0h0m4 0h0m-378 1h0m295 0h0m6 0h0m5 0h0m7 0h0m16 0h0m5 0h0m11 0h0m33 0h0m3 0h0m6 0h0m7 0h0m-391 1h0m0 0h0m0 0h0m288 0h0m13 0h0m17 0h0m8 0h0m0 0h0m11 0h0m5 0h0m11 0h0m19 0h0m10 0h0m-389 1h0m7 0h0m293 0h0m10 0h0m2 0h0m1 0h0m2 0h0m50 0h0m7 0h0m4 0h0m5 0h0m6 0h0m0 0h0m3 0h0m5 0h0m-394 1h0m8 0h0m291 0h0m4 0h0m2 0h0m9 0h0m4 0h0m3 0h0m2 0h0m16 0h0m2 0h0m5 0h0m2 0h0m10 0h0m7 0h0m4 0h0m9 0h0m1 0h0m2 0h0m8 0h0m0 0h0m3 0h0m-393 1h0m313 0h0m0 0h0m1 0h0m15 0h0m35 0h0m1 0h0m8 0h0m17 0h0m0 0h0m7 0h0m-390 1h0m306 0h0m0 0h0m1 0h0m1 0h0m2 0h0m3 0h0m0 0h0m1 0h0m5 0h0m12 0h0m8 0h0m7 0h0m40 0h0m0 0h0m7 0h0m-400 1h0m9 0h0m293 0h0m8 0h0m4 0h0m15 0h0m1 0h0m7 0h0m8 0h0m6 0h0m10 0h0m-354 1h0m7 0h0m308 0h0m26 0h0m9 0h0m5 0h0m7 0h0m6 0h0m8 0h0m15 0h0m-386 1h0m0 0h0m305 0h0m10 0h0m4 0h0m12 0h0m30 0h0m6 0h0m1 0h0m4 0h0m-77 1h0m6 0h0m11 0h0m9 0h0m1 0h0m0 0h0m9 0h0m5 0h0m7 0h0m7 0h0m16 0h0m12 0h0m4 0h0m-83 1h0m7 0h0m18 0h0m5 0h0m36 0h0m15 0h0m3 0h0m7 0h0m-399 1h0m319 0h0m17 0h0m9 0h0m0 0h0m8 0h0m3 0h0m8 0h0m33 0h0m-396 1h0m310 0h0m5 0h0m10 0h0m9 0h0m18 0h0m2 0h0m9 0h0m3 0h0m10 0h0m14 0h0m8 0h0m-400 1h0m6 0h0m5 0h0m2 0h0m297 0h0m5 0h0m17 0h0m7 0h0m3 0h0m8 0h0m6 0h0m1 0h0m10 0h0m3 0h0m1 0h0m4 0h0m11 0h0m-378 1h0m0 0h0m304 0h0m1 0h0m0 0h0m4 0h0m11 0h0m4 0h0m1 0h0m9 0h0m4 0h0m5 0h0m8 0h0m8 0h0m5 0h0m4 0h0m4 0h0m12 0h0m-384 1h0m2 0h0m2 0h0m308 0h0m0 0h0m11 0h0m4 0h0m3 0h0m2 0h0m5 0h0m12 0h0m3 0h0m12 0h0m4 0h0m2 0h0m19 0h0m-381 1h0m303 0h0m6 0h0m4 0h0m0 0h0m8 0h0m11 0h0m9 0h0m-352 1h0m1 0h0m3 0h0m6 0h0m301 0h0m4 0h0m8 0h0m5 0h0m6 0h0m21 0h0m2 0h0m2 0h0m12 0h0m16 0h0m-75 1h0m0 0h0m5 0h0m6 0h0m7 0h0m1 0h0m14 0h0m21 0h0m9 0h0m2 0h0m-377 1h0m10 0h0m1 0h0m314 0h0m6 0h0m3 0h0m16 0h0m7 0h0m20 0h0m-376 1h0m3 0h0m313 0h0m5 0h0m7 0h0m0 0h0m2 0h0m8 0h0m5 0h0m0 0h0m8 0h0m20 0h0m10 0h0m-385 1h0m13 0h0m313 0h0m22 0h0m11 0h0m12 0h0m-51 1h0m9 0h0m0 0h0m6 0h0m0 0h0m2 0h0m2 0h0m2 0h0m35 0h0m3 0h0m12 0h0m11 0h0m1 0h0m-392 1h0m312 0h0m6 0h0m0 0h0m7 0h0m4 0h0m2 0h0m7 0h0m-337 1h0m329 0h0m21 0h0m5 0h0m1 0h0m12 0h0m8 0h0m18 0h0m-396 1h0m336 0h0m4 0h0m20 0h0m0 0h0m11 0h0m6 0h0m0 0h0m-382 1h0m322 0h0m5 0h0m10 0h0m1 0h0m6 0h0m0 0h0m3 0h0m0 0h0m0 0h0m9 0h0m24 0h0m4 0h0m-380 1h0m4 0h0m316 0h0m18 0h0m6 0h0m25 0h0m9 0h0m2 0h0m4 0h0m1 0h0m-389 1h0m4 0h0m1 0h0m3 0h0m314 0h0m4 0h0m12 0h0m11 0h0m10 0h0m13 0h0m1 0h0m4 0h0m1 0h0m1 0h0m17 0h0m2 0h0m-72 1h0m7 0h0m3 0h0m2 0h0m5 0h0m15 0h0m6 0h0m5 0h0m31 0h0m-399 1h0m6 0h0m9 0h0m317 0h0m2 0h0m5 0h0m2 0h0m13 0h0m4 0h0m6 0h0m5 0h0m0 0h0m2 0h0m5 0h0m-379 1h0m13 0h0m6 0h0m1 0h0m324 0h0m3 0h0m5 0h0m9 0h0m1 0h0m26 0h0m14 0h0m-66 1h0m0 0h0m1 0h0m7 0h0m5 0h0m13 0h0m33 0h0m-377 1h0m321 0h0m5 0h0m9 0h0m6 0h0m5 0h0m0 0h0m11 0h0m5 0h0m3 0h0m14 0h0m1 0h0m-381 1h0m324 0h0m13 0h0m14 0h0m4 0h0m3 0h0m4 0h0m8 0h0m8 0h0m11 0h0m4 0h0m-407 1h0m4 0h0m15 0h0m312 0h0m2 0h0m2 0h0m5 0h0m15 0h0m3 0h0m6 0h0m8 0h0m2 0h0m21 0h0m-396 1h0m9 0h0m6 0h0m7 0h0m313 0h0m4 0h0m13 0h0m5 0h0m25 0h0m1 0h0m16 0h0m1 0h0m3 0h0m-403 1h0m2 0h0m8 0h0m4 0h0m321 0h0m0 0h0m6 0h0m1 0h0m15 0h0m8 0h0m25 0h0m-378 1h0m344 0h0m14 0h0m2 0h0m4 0h0m1 0h0m2 0h0m22 0h0m-392 1h0m330 0h0m8 0h0m8 0h0m8 0h0m1 0h0m7 0h0m3 0h0m4 0h0m6 0h0m9 0h0m2 0h0m5 0h0m-16 1h0m8 0h0m4 0h0m5 0h0m9 0h0m-399 1h0m3 0h0m9 0h0m313 0h0m11 0h0m13 0h0m1 0h0m4 0h0m9 0h0m15 0h0m-45 1h0m7 0h0m7 0h0m28 0h0m2 0h0m0 0h0m5 0h0m18 0h0m-402 1h0m332 0h0m8 0h0m0 0h0m29 0h0m0 0h0m15 0h0m10 0h0m-62 1h0m2 0h0m10 0h0m0 0h0m6 0h0m2 0h0m0 0h0m9 0h0m0 0h0m19 0h0m9 0h0m5 0h0m6 0h0m1 0h0m2 0h0m-402 1h0m8 0h0m325 0h0m4 0h0m24 0h0m12 0h0m7 0h0m25 0h0m-400 1h0m0 0h0m1 0h0m327 0h0m10 0h0m6 0h0m20 0h0m6 0h0m4 0h0m9 0h0m5 0h0m2 0h0m10 0h0m-404 1h0m7 0h0m338 0h0m9 0h0m3 0h0m16 0h0m0 0h0m5 0h0m7 0h0m6 0h0m-391 1h0m1 0h0m15 0h0m1 0h0m3 0h0m357 0h0m23 0h0m4 0h0m-396 1h0m5 0h0m4 0h0m320 0h0m4 0h0m3 0h0m4 0h0m3 0h0m26 0h0m2 0h0m13 0h0m0 0h0m10 0h0m-384 1h0m319 0h0m1 0h0m12 0h0m18 0h0m3 0h0m16 0h0m3 0h0m0 0h0m-383 1h0m331 0h0m6 0h0m11 0h0m22 0h0m24 0h0m3 0h0m-64 1h0m2 0h0m3 0h0m1 0h0m1 0h0m9 0h0m15 0h0m6 0h0m4 0h0m2 0h0m20 0h0m0 0h0m4 0h0m0 0h0m1 0h0m-388 1h0m331 0h0m3 0h0m8 0h0m17 0h0m3 0h0m2 0h0m2 0h0m11 0h0m-388 1h0m11 0h0m322 0h0m10 0h0m17 0h0m9 0h0m0 0h0m7 0h0m12 0h0m7 0h0m-404 1h0m23 0h0m344 0h0m9 0h0m6 0h0m14 0h0m7 0h0m6 0h0m1 0h0m-67 1h0m18 0h0m3 0h0m13 0h0m0 0h0m2 0h0m4 0h0m16 0h0m-383 1h0m13 0h0m316 0h0m14 0h0m16 0h0m7 0h0m4 0h0m8 0h0m-383 1h0m338 0h0m12 0h0m3 0h0m6 0h0m10 0h0m24 0h0m-398 1h0m342 0h0m6 0h0m12 0h0m2 0h0m15 0h0m11 0h0m1 0h0m10 0h0m-397 1h0m18 0h0m322 0h0m38 0h0m0 0h0m2 0h0m2 0h0m19 0h0m-379 1h0m324 0h0m7 0h0m0 0h0m16 0h0m1 0h0m16 0h0m8 0h0m-387 1h0m7 0h0m0 0h0m3 0h0m323 0h0m13 0h0m21 0h0m-366 1h0m334 0h0m7 0h0m13 0h0m6 0h0m5 0h0m13 0h0m2 0h0m-381 1h0m6 0h0m0 0h0m332 0h0m12 0h0m1 0h0m13 0h0m3 0h0m3 0h0m17 0h0m-390 1h0m0 0h0m340 0h0m4 0h0m0 0h0m2 0h0m19 0h0m3 0h0m29 0h0m-385 1h0m10 0h0m324 0h0m5 0h0m17 0h0m1 0h0m3 0h0m10 0h0m4 0h0m3 0h0m1 0h0m1 0h0m-389 1h0m2 0h0m340 0h0m12 0h0m6 0h0m7 0h0m19 0h0m2 0h0m1 0h0m2 0h0m-370 1h0m1 0h0m324 0h0m8 0h0m3 0h0m26 0h0m5 0h0m6 0h0m-378 1h0m2 0h0m325 0h0m43 0h0m-375 1h0m13 0h0m331 0h0m5 0h0m0 0h0m10 0h0m21 0h0m9 0h0m-395 1h0m20 0h0m322 0h0m1 0h0m2 0h0m1 0h0m32 0h0m-38 1h0m3 0h0m2 0h0m8 0h0m11 0h0m2 0h0m-353 1h0m3 0h0m7 0h0m325 0h0m3 0h0m3 0h0m2 0h0m40 0h0m-398 1h0m11 0h0m342 0h0m6 0h0m3 0h0m11 0h0m2 0h0m3 0h0m4 0h0m0 0h0m15 0h0m-393 1h0m8 0h0m9 0h0m3 0h0m5 0h0m334 0h0m1 0h0m6 0h0m10 0h0m7 0h0m5 0h0m3 0h0m-373 1h0m358 0h0m5 0h0m-32 1h0m1 0h0m5 0h0m1 0h0m0 0h0m1 0h0m1 0h0m2 0h0m22 0h0m-373 1h0m11 0h0m335 0h0m1 0h0m1 0h0m3 0h0m7 0h0m14 0h0m1 0h0m-367 1h0m1 0h0m5 0h0m342 0h0m2 0h0m9 0h0m22 0h0m-379 1h0m329 0h0m4 0h0m25 0h0m2 0h0m11 0h0m5 0h0m2 0h0m0 0h0m-393 1h0m16 0h0m2 0h0m330 0h0m6 0h0m6 0h0m6 0h0m22 0h0m-379 1h0m8 0h0m1 0h0m0 0h0m326 0h0m3 0h0m1 0h0m8 0h0m10 0h0m2 0h0m-22 1h0m13 0h0m14 0h0m2 0h0m8 0h0m2 0h0m0 0h0m1 0h0m-386 1h0m8 0h0m10 0h0m332 0h0m12 0h0m1 0h0m0 0h0m1 0h0m2 0h0m6 0h0m3 0h0m11 0h0m-368 1h0m4 0h0m5 0h0m329 0h0m5 0h0m1 0h0m31 0h0m1 0h0m-380 1h0m0 0h0m1 0h0m4 0h0m330 0h0m3 0h0m1 0h0m13 0h0m16 0h0m2 0h0m4 0h0m1 0h0m2 0h0m-381 1h0m11 0h0m332 0h0m9 0h0m15 0h0m16 0h0m4 0h0m-48 1h0m1 0h0m1 0h0m1 0h0m26 0h0m12 0h0m2 0h0m4 0h0m-367 1h0m321 0h0m0 0h0m2 0h0m0 0h0m6 0h0m0 0h0m18 0h0m3 0h0m13 0h0m-379 1h0m14 0h0m337 0h0m3 0h0m31 0h0m-386 1h0m16 0h0m7 0h0m316 0h0m0 0h0m2 0h0m7 0h0m1 0h0m5 0h0m28 0h0m5 0h0m-384 1h0m9 0h0m2 0h0m342 0h0m1 0h0m14 0h0m6 0h0m6 0h0m5 0h0m-390 1h0m23 0h0m1 0h0m5 0h0m322 0h0m1 0h0m2 0h0m1 0h0m2 0h0m6 0h0m12 0h0m-370 1h0m3 0h0m0 0h0m5 0h0m1 0h0m336 0h0m30 0h0m7 0h0m-366 1h0m329 0h0m2 0h0m9 0h0m12 0h0m4 0h0m2 0h0m2 0h0m-379 1h0m7 0h0m5 0h0m5 0h0m5 0h0m332 0h0m3 0h0m4 0h0m2 0h0m12 0h0m1 0h0m-364 1h0m4 0h0m13 0h0m1 0h0m323 0h0m0 0h0m1 0h0m0 0h0m6 0h0m0 0h0m16 0h0m7 0h0m-370 1h0m19 0h0m320 0h0m8 0h0m5 0h0m14 0h0m8 0h0m-380 1h0m13 0h0m4 0h0m334 0h0m-356 1h0m5 0h0m7 0h0m11 0h0m1 0h0m0 0h0m325 0h0m20 0h0m-365 1h0m2 0h0m5 0h0m4 0h0m350 0h0m13 0h0m-377 1h0m4 0h0m9 0h0m14 0h0m315 0h0m0 0h0m-326 1h0m335 0h0m30 0h0m-372 1h0m346 0h0m9 0h0m0 0h0m24 0h0m-379 1h0m8 0h0m17 0h0m322 0h0m5 0h0m1 0h0m6 0h0m1 0h0m0 0h0m10 0h0m-29 1h0m4 0h0m7 0h0m5 0h0m2 0h0m-357 1h0m0 0h0m9 0h0m4 0h0m2 0h0m1 0h0m0 0h0m1 0h0m0 0h0m10 0h0m348 0h0m-367 1h0m330 0h0m12 0h0m-348 1h0m8 0h0m1 0h0m330 0h0m2 0h0m5 0h0m16 0h0m-338 1h0m315 0h0m5 0h0m18 0h0m-364 1h0m3 0h0m17 0h0m11 0h0m307 0h0m7 0h0m1 0h0m10 0h0m-347 1h0m3 0h0m2 0h0m332 0h0m8 0h0m4 0h0m12 0h0m-336 1h0m4 0h0m304 0h0m10 0h0m-351 1h0m12 0h0m342 0h0m2 0h0m8 0h0m-350 1h0m3 0h0m6 0h0m4 0h0m12 0h0m-11 1h0m8 0h0m3 0h0m302 0h0m3 0h0m18 0h0m-358 1h0m7 0h0m332 0h0m8 0h0m21 0h0m-365 1h0m23 0h0m312 0h0m19 0h0m3 0h0m-356 1h0m2 0h0m1 0h0m1 0h0m342 0h0m-321 1h0m2 0h0m9 0h0m302 0h0m11 0h0m7 0h0m-321 1h0m1 0h0m304 0h0m1 0h0m1 0h0m-336 1h0m19 0h0m323 0h0m-337 1h0m2 0h0m5 0h0m5 0h0m8 0h0m10 0h0m288 0h0m8 0h0m3 0h0m14 1h0m-342 1h0m17 0h0m3 0h0m310 0h0m-319 1h0m2 0h0m7 0h0m3 0h0m294 0h0m9 0h0m3 0h0m13 0h0m-340 1h0m38 0h0m-25 1h0m16 0h0m2 0h0m305 0h0m5 0h0m1 0h0m-309 1h0m1 0h0m3 0h0m286 0h0m-304 1h0m2 0h0m4 0h0m14 0h0m2 0h0m293 0h0m0 0h0m4 0h0m-329 1h0m16 0h0m296 0h0m6 0h0m4 0h0m-16 1h0m2 0h0m8 0h0m15 0h0m-5 2h0m-320 1h0m15 0h0m14 0h0m1 0h0m0 0h0m275 0h0m-305 1h0m35 0h0m4 1h0m283 0h0m-21 1h0m9 0h0m-296 1h0m16 0h0m3 0h0m292 0h0m-317 1h0m1 0h0m25 0h0m3 0h0m281 0h0m-292 1h0m24 0h0m271 0h0m-308 1h0m10 0h0m25 0h0m263 0h0m1 0h0m-284 1h0m276 0h0m-275 1h0m17 0h0m-26 1h0m16 0h0m6 0h0m0 0h0m4 0h0m268 0h0m-255 1h0m257 0h0m-289 1h0m276 0h0m1 0h0m4 0h0m1 0h0m-261 1h0m274 0h0m-296 1h0m5 0h0m1 0h0m11 0h0m2 0h0m-15 1h0m13 0h0m-17 1h0m3 0h0m1 0h0m35 0h0m231 0h0m-266 1h0m26 0h0m2 0h0m-23 1h0m3 0h0m0 0h0m6 0h0m6 0h0m270 0h0m-286 1h0m27 0h0m7 0h0m0 1h0m2 0h0m-29 1h0m2 0h0m6 0h0m11 0h0m235 0h0m-240 1h0m248 0h0m-251 1h0m247 0h0m14 1h0m2 0h0m-252 1h0m4 0h0m11 0h0m217 0h0m20 0h0m-19 1h0m2 0h0m4 0h0m10 0h0m-263 1h0m22 0h0m13 0h0m-33 1h0m12 0h0m0 0h0m5 0h0m8 0h0m1 0h0m226 0h0m-244 1h0m14 0h0m220 0h0m2 0h0m0 0h0m3 0h0m0 0h0m9 0h0m-243 1h0m12 0h0m225 0h0m6 0h0m8 0h0m6 0h0m-255 2h0m12 0h0m1 0h0m6 0h0m6 0h0m199 0h0m12 0h0m-232 1h0m32 0h0m-38 1h0m7 0h0m18 0h0m11 0h0m200 0h0m-237 1h0m1 0h0m9 0h0m15 0h0m5 0h0m9 0h0m3 0h0m2 0h0m189 0h0m-223 1h0m20 0h0m207 0h0m7 0h0m-240 1h0m24 0h0m19 0h0m2 0h0m174 0h0m3 0h0m-214 1h0m21 0h0m17 0h0m177 0h0m-217 1h0m1 0h0m3 0h0m17 0h0m0 0h0m0 0h0m19 0h0m175 0h0m4 0h0m4 0h0m8 0h0m9 0h0m-229 1h0m22 0h0m7 0h0m168 0h0m-209 1h0m9 0h0m24 0h0m15 0h0m166 0h0m-202 1h0m8 0h0m30 0h0m8 0h0m150 0h0m13 0h0m5 0h0m6 0h0m4 0h0m8 0h0m-237 1h0m13 0h0m33 0h0m157 0h0m19 0h0m-203 1h0m20 0h0m4 0h0m179 0h0m4 0h0m-225 1h0m17 0h0m23 0h0m160 0h0m2 0h0m16 0h0m-211 1h0m10 0h0m11 0h0m3 0h0m168 0h0m7 0h0m20 0h0m2 0h0m-203 1h0m8 0h0m29 0h0m130 0h0m1 0h0m-172 1h0m3 0h0m17 0h0m1 0h0m5 0h0m-29 1h0m8 0h0m198 0h0m-218 1h0m14 0h0m10 0h0m35 0h0m151 0h0m-196 1h0m4 0h0m2 0h0m2 0h0m11 0h0m156 0h0m15 0h0m7 0h0m12 0h0m-210 1h0m3 0h0m0 0h0m11 0h0m14 0h0m150 0h0m-154 1h0m5 0h0m15 0h0m6 0h0m13 0h0m120 0h0m8 0h0m-180 1h0m1 0h0m8 0h0m3 0h0m32 0h0m112 0h0m7 0h0m3 0h0m-173 1h0m12 0h0m16 0h0m7 0h0m9 0h0m1 0h0m115 0h0m3 0h0m16 0h0m14 0h0m4 0h0m-187 1h0m133 0h0m22 0h0m26 0h0m5 0h0m-148 1h0m16 0h0m95 0h0m11 0h0m20 0h0m-146 1h0m15 0h0m2 0h0m85 0h0m1 0h0m10 0h0m30 0h0m-171 1h0m11 0h0m42 0h0m4 0h0m1 0h0m19 0h0m1 0h0m40 0h0m55 0h0m-167 1h0m8 0h0m39 0h0m76 0h0m7 0h0m10 0h0m5 0h0m15 0h0m5 0h0m-165 1h0m1 0h0m14 0h0m21 0h0m10 0h0m19 0h0m29 0h0m2 0h0m7 0h0m19 0h0m7 0h0m5 0h0m14 0h0m2 0h0m1 0h0m19 0h0m-161 1h0m21 0h0m11 0h0m20 0h0m12 0h0m8 0h0m9 0h0m21 0h0m4 0h0m1 0h0m6 0h0m2 0h0m15 0h0m4 0h0m10 0h0m-123 1h0m5 0h0m57 0h0m18 0h0m13 0h0m15 0h0m28 0h0m-141 1h0m46 0h0m24 0h0m23 0h0m-73 1h0m20 0h0m27 0h0m35 0h0m-108 1h0m19 0h0m5 0h0m5 0h0m5 0h0m17 0h0m13 0h0m36 0h0m46 0h0m-138 1h0m14 0h0m1 0h0m3 0h0m20 0h0m14 0h0m27 0h0m27 0h0m23 0h0m-92 1h0m1 0h0m30 0h0m3 0h0m18 0h0m21 0h0m4 0h0m-80 1h0m4 0h0m9 0h0m41 0h0m3 0h0m7 0h0m-78 1h0m1 0h0m24 0h0m4 0h0m17 0h0m18 0h0m-58 1h0m29 0h0m28 0h0m-56 1h0m43 0h0m-45 1h0m7 0h0m1 0h0m28 0h0m9 0h0m3 0h0m6 0h0m1 0h0m7 0h0m-64 1h0m7 0h0m52 0h0m9 0h0m-56 1h0m1 0h0m7 0h0m3 0h0m14 0h0m-21 1h0m14 1h0m19 0h0"/><path stroke="#484df0" d="M371 325h0m-11 2h0m15 0h0m-21 1h0m4 0h0m-4 1h0m2 0h0m27 0h0m-23 1h0m34 1h0m-46 1h0m20 0h0m28 0h0m-39 1h0m27 0h0m3 0h0m-28 1h0m37 0h0m4 1h0m-53 1h0m50 0h0m0 1h0m-49 1h0m3 1h0m-4 1h0m50 0h0m3 0h0m7 0h0m7 0h0m7 3h0m-76 1h0m61 0h0m13 1h0m-9 1h0m6 2h0m8 4h0m1 0h0m6 0h0m2 0h0m-5 1h0m-6 1h0m4 0h0m6 0h0m2 0h0m-2 1h0m-98 1h0m95 0h0m11 1h0m1 0h0m-4 2h0m5 1h0m1 1h0m-11 1h0m-96 1h0m101 0h0m10 1h0m-2 1h0m4 1h0m-1 1h0m-6 1h0m9 0h0m-4 1h0m2 0h0m3 1h0m1 0h0m-4 1h0m4 0h0m-3 1h0m4 0h0m-124 1h0m125 0h0m0 1h0m0 1h0m1 0h0m0 0h0m0 0h0m2 1h0m1 0h0m0 2h0m1 0h0m-131 4h0m-6 19h0m-2 5h0m2 8h0m-2 4h0m5 0h0m-6 2h0m5 2h0m-3 14h0m2 1h0m1 0h0m1 0h0m-5 2h0m3 0h0m2 1h0m-4 1h0m2 0h0m2 2h0m1 1h0m1 6h0m-8 1h0m6 1h0m3 1h0m-9 2h0m9 1h0m-4 1h0m2 1h0m1 0h0m1 0h0m-3 1h0m0 0h0m5 0h0m-4 1h0m-5 1h0m-1 2h0m1 0h0m4 0h0m0 0h0m-1 1h0m7 0h0m191 0h0m-202 1h0m5 0h0m5 0h0m193 0h0m-194 1h0m-6 1h0m6 0h0m3 0h0m-10 1h0m2 0h0m3 0h0m3 0h0m194 0h0m-196 1h0m-3 1h0m3 0h0m2 1h0m196 0h0m1 1h0m1 0h0m-202 1h0m203 0h0m4 0h0m-5 1h0m3 0h0m-207 1h0m210 1h0m-204 3h0m207 0h0m4 0h0m-210 1h0m204 0h0m1 0h0m4 0h0m-6 1h0m3 0h0m6 0h0m-4 1h0m-4 1h0m2 1h0m-204 1h0m206 0h0m8 1h0m6 0h0m2 0h0m-228 1h0m218 0h0m5 0h0m-219 1h0m218 0h0m3 0h0m2 0h0m-15 1h0m18 0h0m-15 1h0m16 0h0m1 0h0m1 0h0m3 0h0m-229 1h0m209 0h0m1 0h0m3 0h0m14 0h0m-12 1h0m15 0h0m-231 1h0m223 0h0m-221 1h0m208 0h0m9 0h0m12 0h0m5 0h0m-235 1h0m211 0h0m2 1h0m3 1h0m2 0h0m1 0h0m0 0h0m5 0h0m7 0h0m8 0h0m-21 1h0m7 0h0m-7 1h0m0 0h0m11 0h0m5 0h0m2 0h0m-237 1h0m222 0h0m17 0h0m0 0h0m1 0h0m-237 1h0m217 0h0m2 0h0m17 0h0m2 0h0m-22 1h0m6 0h0m18 0h0m-19 1h0m0 1h0m3 0h0m4 0h0m5 0h0m3 0h0m5 0h0m-13 1h0m3 0h0m4 0h0m7 0h0m3 0h0m3 0h0m-246 1h0m225 0h0m5 0h0m-6 1h0m6 0h0m3 0h0m0 0h0m0 0h0m4 0h0m5 0h0m-3 1h0m1 0h0m2 0h0m4 0h0m7 0h0m-9 1h0m-8 1h0m-1 1h0m20 0h0m1 0h0m-20 1h0m4 0h0m3 0h0m10 0h0m2 0h0m6 0h0m-27 1h0m4 0h0m18 0h0m4 0h0m-22 1h0m2 0h0m2 0h0m0 0h0m5 0h0m3 0h0m0 0h0m11 0h0m4 0h0m-21 1h0m4 0h0m11 0h0m-9 1h0m2 0h0m4 0h0m7 0h0m2 0h0m-263 1h0m249 0h0m7 0h0m-12 1h0m5 0h0m11 0h0m5 0h0m3 0h0m-268 1h0m242 0h0m2 0h0m1 0h0m1 0h0m3 0h0m4 0h0m1 0h0m1 0h0m3 0h0m1 0h0m10 0h0m-269 1h0m248 0h0m2 0h0m4 0h0m3 0h0m8 0h0m6 0h0m1 0h0m-25 1h0m1 0h0m8 0h0m6 0h0m2 0h0m4 0h0m-18 1h0m4 0h0m0 0h0m2 0h0m7 0h0m5 0h0m-5 1h0m6 0h0m2 0h0m1 0h0m-13 1h0m3 0h0m-5 1h0m10 0h0m-1 1h0m1 0h0m2 0h0m-3 1h0m3 0h0m8 0h0m0 0h0m2 0h0m-275 1h0m268 0h0m2 0h0m-17 1h0m15 0h0m4 0h0m6 0h0m-21 1h0m1 0h0m1 0h0m3 0h0m6 0h0m-266 1h0m256 0h0m0 0h0m8 0h0m-4 1h0m11 0h0m4 0h0m-277 1h0m259 0h0m0 0h0m7 0h0m4 0h0m1 0h0m7 0h0m1 0h0m-276 1h0m259 0h0m0 0h0m23 0h0m-24 1h0m4 0h0m5 0h0m11 0h0m-17 1h0m2 0h0m0 0h0m2 0h0m7 0h0m5 0h0m6 0h0m-283 1h0m1 0h0m3 0h0m260 0h0m10 0h0m-273 1h0m0 0h0m2 0h0m264 0h0m3 0h0m5 0h0m7 0h0m2 0h0m3 0h0m-14 1h0m2 0h0m1 0h0m5 0h0m-19 1h0m2 0h0m4 0h0m0 0h0m13 0h0m0 0h0m3 0h0m2 0h0m-12 1h0m5 0h0m-276 1h0m274 0h0m4 0h0m6 0h0m5 0h0m-289 1h0m268 0h0m1 0h0m8 0h0m9 0h0m1 0h0m1 0h0m4 0h0m-288 1h0m283 0h0m1 0h0m-14 1h0m1 0h0m6 0h0m7 0h0m7 1h0m-291 1h0m2 0h0m1 0h0m270 0h0m2 0h0m4 0h0m3 0h0m1 0h0m9 0h0m-292 1h0m5 0h0m0 0h0m261 0h0m10 0h0m9 0h0m2 0h0m3 0h0m2 0h0m3 0h0m0 0h0m-298 1h0m273 0h0m5 0h0m3 0h0m4 0h0m-280 1h0m2 0h0m268 0h0m4 0h0m13 0h0m3 0h0m4 0h0m-24 1h0m1 0h0m2 0h0m8 0h0m3 0h0m7 0h0m1 0h0m-15 1h0m7 0h0m8 0h0m3 0h0m-20 1h0m3 0h0m16 0h0m1 0h0m-292 1h0m278 0h0m3 0h0m5 0h0m6 0h0m-291 1h0m285 0h0m2 0h0m8 0h0m-17 1h0m3 0h0m6 0h0m7 0h0m4 0h0m-293 1h0m280 0h0m10 0h0m-289 1h0m269 0h0m6 0h0m5 0h0m4 0h0m-284 1h0m275 0h0m2 0h0m17 0h0m-299 1h0m289 0h0m8 0h0m-291 1h0m282 0h0m9 0h0m2 0h0m-293 1h0m273 0h0m1 0h0m6 0h0m3 0h0m0 0h0m4 0h0m7 0h0m4 0h0m2 0h0m-21 1h0m-285 1h0m5 0h0m4 0h0m273 0h0m1 0h0m7 0h0m4 0h0m4 0h0m6 0h0m-300 1h0m1 0h0m7 0h0m273 0h0m4 0h0m1 0h0m9 0h0m8 0h0m-299 1h0m0 0h0m0 0h0m2 0h0m280 0h0m5 0h0m8 0h0m1 0h0m3 0h0m-303 1h0m1 0h0m2 0h0m282 0h0m3 0h0m4 0h0m11 0h0m-301 1h0m5 0h0m274 0h0m12 0h0m9 0h0m0 0h0m1 0h0m3 0h0m1 0h0m1 0h0m-297 1h0m281 0h0m15 1h0m1 0h0m1 0h0m-300 1h0m2 0h0m277 0h0m7 0h0m11 0h0m3 0h0m-305 1h0m293 0h0m3 0h0m-285 1h0m279 0h0m6 0h0m-284 1h0m284 0h0m6 0h0m6 0h0m-301 1h0m280 0h0m3 0h0m2 0h0m2 0h0m5 0h0m-287 1h0m281 0h0m0 0h0m8 0h0m5 0h0m4 0h0m-295 1h0m277 0h0m12 0h0m3 0h0m-15 1h0m1 0h0m2 0h0m9 0h0m9 0h0m1 0h0m-301 1h0m283 0h0m7 0h0m6 0h0m2 0h0m-299 1h0m2 0h0m6 0h0m273 0h0m0 0h0m6 0h0m10 0h0m0 0h0m3 0h0m0 0h0m-293 1h0m282 0h0m1 0h0m1 0h0m5 0h0m4 0h0m1 0h0m2 0h0m2 0h0m-25 1h0m7 0h0m4 0h0m5 0h0m-289 1h0m288 0h0m3 0h0m1 0h0m10 0h0m-309 1h0m1 0h0m289 0h0m-283 1h0m5 0h0m278 0h0m3 0h0m8 0h0m2 0h0m5 0h0m-303 1h0m3 0h0m280 0h0m3 0h0m10 0h0m1 0h0m-301 1h0m289 0h0m10 0h0m1 0h0m9 0h0m-299 1h0m294 0h0m-11 1h0m13 0h0m5 0h0m1 0h0m1 0h0m-12 1h0m7 0h0m-11 1h0m-281 1h0m277 0h0m5 0h0m1 0h0m3 0h0m5 0h0m11 0h0m-307 1h0m285 0h0m4 0h0m11 0h0m1 0h0m-10 1h0m8 0h0m-296 1h0m1 0h0m0 0h0m290 0h0m7 0h0m6 0h0m0 0h0m-308 1h0m3 0h0m7 0h0m3 0h0m280 0h0m-286 1h0m2 0h0m282 0h0m0 0h0m3 0h0m14 0h0m-305 1h0m4 0h0m280 0h0m6 0h0m12 0h0m5 0h0m-16 1h0m5 0h0m-291 1h0m1 0h0m282 0h0m8 0h0m2 0h0m3 0h0m1 0h0m2 0h0m3 0h0m5 0h0m1 0h0m-313 1h0m290 0h0m1 0h0m7 0h0m4 0h0m11 0h0m-306 1h0m3 0h0m4 0h0m282 0h0m-291 1h0m5 0h0m284 0h0m1 0h0m3 0h0m15 0h0m-308 1h0m3 0h0m2 0h0m5 0h0m278 0h0m3 0h0m3 0h0m-284 2h0m3 0h0m275 0h0m5 0h0m1 0h0m9 0h0m1 0h0m-293 1h0m293 0h0m5 0h0m5 0h0m-23 1h0m3 0h0m15 0h0m2 0h0m-298 1h0m288 0h0m13 0h0m-22 1h0m6 0h0m13 0h0m-309 1h0m5 0h0m6 0h0m279 0h0m20 0h0m2 0h0m2 0h0m-305 1h0m3 0h0m280 0h0m9 0h0m7 0h0m2 0h0m1 0h0m3 0h0m-311 1h0m7 0h0m306 0h0m-310 1h0m293 0h0m-286 1h0m7 0h0m0 0h0m289 0h0m-15 1h0m0 0h0m6 0h0m1 0h0m2 0h0m16 0h0m1 0h0m-310 1h0m3 0h0m4 0h0m282 0h0m7 0h0m3 0h0m3 0h0m4 0h0m-294 1h0m274 0h0m7 0h0m-295 1h0m5 0h0m5 0h0m281 0h0m3 0h0m1 0h0m5 0h0m2 0h0m-300 1h0m295 0h0m1 0h0m5 0h0m7 0h0m-301 1h0m7 0h0m1 0h0m286 0h0m5 0h0m5 0h0m-305 1h0m1 0h0m289 0h0m2 0h0m7 0h0m3 0h0m-299 1h0m1 0h0m5 0h0m272 0h0m2 0h0m7 0h0m7 0h0m9 0h0m0 0h0m1 0h0m0 0h0m-307 1h0m4 0h0m12 0h0m267 0h0m11 0h0m2 0h0m2 0h0m4 0h0m-293 1h0m290 0h0m4 0h0m-16 1h0m9 0h0m7 0h0m0 0h0m-285 1h0m272 0h0m3 0h0m2 0h0m14 0h0m-298 1h0m5 0h0m287 0h0m4 0h0m-303 1h0m3 0h0m287 0h0m9 0h0m1 0h0m1 0h0m3 0h0m-301 1h0m1 0h0m1 0h0m279 0h0m3 0h0m0 0h0m4 0h0m19 0h0m-302 1h0m7 0h0m270 0h0m4 0h0m9 0h0m-294 1h0m7 0h0m274 0h0m14 0h0m9 0h0m-304 1h0m2 0h0m14 0h0m267 0h0m8 0h0m4 0h0m1 0h0m3 0h0m6 0h0m-291 1h0m1 0h0m0 0h0m4 0h0m270 0h0m8 0h0m5 0h0m3 0h0m-300 1h0m3 0h0m7 0h0m2 0h0m272 0h0m3 0h0m6 0h0m1 0h0m0 0h0m1 0h0m6 0h0m2 0h0m-302 1h0m3 0h0m5 0h0m269 0h0m2 0h0m14 0h0m2 0h0m-287 1h0m276 0h0m-281 1h0m278 0h0m1 0h0m8 0h0m-278 1h0m267 0h0m9 0h0m2 0h0m9 0h0m-10 1h0m14 0h0m-285 1h0m2 0h0m264 0h0m3 0h0m3 0h0m1 0h0m5 0h0m6 0h0m1 0h0m-300 1h0m14 0h0m2 0h0m261 0h0m4 0h0m6 0h0m1 0h0m-276 1h0m272 0h0m15 0h0m-286 1h0m1 0h0m12 0h0m258 0h0m3 0h0m6 0h0m4 0h0m4 0h0m-293 1h0m3 0h0m1 0h0m3 0h0m3 0h0m3 0h0m259 0h0m8 0h0m0 0h0m15 0h0m-278 1h0m271 0h0m7 0h0m-294 1h0m4 0h0m7 0h0m4 0h0m253 0h0m8 0h0m2 0h0m8 0h0m5 0h0m-278 1h0m261 0h0m10 0h0m8 0h0m2 0h0m-290 1h0m5 0h0m6 0h0m266 0h0m4 0h0m0 0h0m1 0h0m1 0h0m3 0h0m-270 1h0m250 0h0m0 0h0m4 0h0m1 0h0m9 0h0m10 0h0m-18 1h0m1 0h0m11 0h0m-270 1h0m3 0h0m249 0h0m5 0h0m3 0h0m6 0h0m-273 1h0m1 0h0m6 0h0m254 0h0m12 0h0m1 0h0m0 0h0m-264 1h0m6 0h0m246 0h0m15 0h0m0 0h0m-270 1h0m5 0h0m2 0h0m256 0h0m1 0h0m10 0h0m-273 1h0m4 0h0m6 0h0m3 0h0m244 0h0m1 0h0m14 0h0m-261 1h0m-8 1h0m7 0h0m2 0h0m1 0h0m241 0h0m8 0h0m10 0h0m-262 1h0m7 0h0m255 0h0m-267 1h0m5 0h0m250 0h0m8 0h0m1 0h0m-258 1h0m0 0h0m1 0h0m241 0h0m2 0h0m-249 1h0m250 0h0m-232 1h0m229 0h0m-240 1h0m21 0h0m225 0h0m-225 1h0m219 0h0m10 0h0m2 0h0m-249 1h0m9 0h0m6 0h0m6 0h0m214 0h0m21 0h0m-252 1h0m1 0h0m2 0h0m12 0h0m214 0h0m9 0h0m6 0h0m6 0h0m-240 1h0m2 0h0m222 0h0m5 0h0m-230 2h0m5 0h0m223 0h0m2 0h0m8 0h0m-228 1h0m4 0h0m213 0h0m9 0h0m11 0h0m-246 1h0m2 0h0m2 0h0m13 0h0m1 0h0m208 0h0m15 0h0m-231 1h0m4 0h0m2 0h0m207 0h0m-211 1h0m9 0h0m208 0h0m-226 1h0m13 0h0m7 0h0m193 0h0m3 0h0m0 0h0m14 0h0m8 0h0m-228 1h0m0 1h0m1 0h0m1 0h0m4 0h0m4 0h0m4 0h0m193 0h0m2 0h0m1 0h0m-205 1h0m20 0h0m182 0h0m10 0h0m-12 1h0m6 0h0m-210 1h0m15 0h0m12 0h0m182 0h0m-205 1h0m12 0h0m5 0h0m6 0h0m177 0h0m5 0h0m9 0h0m3 0h0m4 0h0m-223 1h0m10 0h0m5 0h0m186 0h0m-195 1h0m5 0h0m13 0h0m174 0h0m8 0h0m15 0h0m-207 1h0m4 0h0m5 0h0m0 0h0m4 0h0m176 0h0m-190 1h0m5 0h0m4 0h0m6 0h0m3 0h0m179 0h0m-191 1h0m183 0h0m14 0h0m5 0h0m-208 1h0m5 0h0m19 0h0m3 0h0m167 0h0m10 0h0m2 0h0m-206 1h0m1 0h0m13 0h0m11 0h0m167 0h0m1 0h0m0 0h0m13 0h0m-198 1h0m2 0h0m5 0h0m175 0h0m-171 1h0m0 0h0m168 0h0m-176 1h0m2 0h0m5 0h0m14 0h0m5 0h0m149 0h0m4 0h0m6 0h0m7 0h0m-195 1h0m19 0h0m9 0h0m140 0h0m1 0h0m0 0h0m-168 1h0m1 0h0m2 0h0m8 0h0m2 0h0m12 0h0m2 0h0m-13 1h0m10 0h0m12 0h0m3 0h0m145 0h0m4 0h0m-174 1h0m5 1h0m4 0h0m139 0h0m14 0h0m6 0h0m4 0h0m-176 1h0m30 0h0m1 0h0m5 0h0m116 0h0m8 0h0m-157 1h0m6 0h0m7 0h0m142 0h0m2 0h0m-143 1h0m5 0h0m2 0h0m4 0h0m157 0h0m1 0h0m-173 1h0m11 0h0m8 0h0m126 0h0m23 0h0m-154 1h0m6 0h0m3 0h0m3 0h0m8 0h0m3 0h0m1 0h0m1 0h0m117 0h0m9 0h0m-150 1h0m9 0h0m129 0h0m5 0h0m-137 1h0m8 0h0m16 0h0m121 0h0m3 0h0m-161 1h0m16 0h0m6 0h0m19 0h0m83 0h0m-121 1h0m11 0h0m0 0h0m5 0h0m12 0h0m2 0h0m2 0h0m5 0h0m94 0h0m2 0h0m6 0h0m12 0h0m4 0h0m-154 1h0m1 0h0m1 0h0m19 0h0m16 0h0m2 0h0m9 0h0m84 0h0m15 0h0m-125 1h0m92 0h0m7 0h0m5 0h0m2 0h0m21 0h0m-140 1h0m8 0h0m4 0h0m7 0h0m10 0h0m13 0h0m47 0h0m13 0h0m14 0h0m16 0h0m-120 1h0m8 0h0m10 0h0m2 0h0m1 0h0m0 0h0m29 0h0m24 0h0m9 0h0m9 0h0m23 0h0m-129 1h0m8 0h0m5 0h0m11 0h0m11 0h0m9 0h0m2 0h0m4 0h0m10 0h0m25 0h0m2 0h0m9 0h0m22 0h0m1 0h0m13 0h0m-114 1h0m3 0h0m10 0h0m18 0h0m22 0h0m20 0h0m14 0h0m25 0h0m-67 1h0m12 0h0m7 0h0m1 0h0m1 0h0m4 0h0m3 0h0m6 0h0m12 0h0m16 0h0m13 0h0m-122 1h0m20 0h0m3 0h0m15 0h0m8 0h0m19 0h0m12 0h0m18 0h0m2 0h0m3 0h0m8 0h0m-94 1h0m37 0h0m29 0h0m3 0h0m0 0h0m25 0h0m4 0h0m-70 1h0m1 0h0m11 0h0m45 0h0m-59 1h0m5 0h0m8 0h0m10 0h0m0 0h0m1 0h0m5 0h0m19 0h0m-48 1h0m0 0h0m12 0h0m4 0h0m3 0h0m11 0h0m5 0h0m7 0h0m7 0h0m17 0h0m4 0h0m-86 1h0m3 0h0m9 0h0m25 0h0m16 0h0m16 0h0m1 0h0m-77 1h0m9 0h0m9 0h0m35 0h0m8 0h0m4 0h0m1 0h0m3 0h0m7 0h0m-56 1h0m15 0h0m9 0h0m1 0h0m5 0h0m38 0h0m-78 1h0m6 0h0m3 0h0m11 0h0m15 0h0m2 0h0m7 0h0m4 0h0m19 0h0m1 0h0m-50 1h0m6 0h0m44 0h0m-44 1h0m13 0h0m13 0h0m-28 1h0m3 0h0m8 0h0m19 0h0m-28 1h0m13 0h0"/><path stroke="#4852f4" d="M380 334h0m-3 2h0m5 1h0m-18 1h0m5 0h0m5 0h0m0 0h0m15 0h0m-32 1h0m28 0h0m2 0h0m-10 1h0m-24 1h0m1 0h0m14 0h0m-8 1h0m39 1h0m2 1h0m1 2h0m-54 1h0m0 0h0m59 0h0m-5 1h0m-58 1h0m61 0h0m5 0h0m-65 1h0m5 0h0m59 0h0m-5 1h0m5 0h0m-68 1h0m73 0h0m-67 1h0m64 0h0m4 0h0m-75 7h0m-5 11h0m-1 1h0m1 4h0m-3 1h0m1 2h0m-2 1h0m-1 2h0m-1 4h0m4 0h0m-5 2h0m4 2h0m-2 3h0m0 10h0m1 2h0m1 1h0m-6 3h0m0 0h0m4 1h0m-3 8h0m0 3h0m5 2h0m-1 2h0m-2 4h0m2 0h0m-4 1h0m2 0h0m2 1h0m-2 7h0m4 0h0m-7 4h0m7 0h0m0 0h0m-1 3h0m1 2h0m-5 1h0m2 2h0m2 0h0m-1 4h0m0 0h0m2 1h0m-3 1h0m3 1h0m0 4h0m1 2h0m215 38h0m2 2h0m1 0h0m4 0h0m5 5h0m-7 1h0m5 0h0m1 0h0m2 0h0m2 0h0m-6 1h0m1 0h0m3 0h0m-1 1h0m6 0h0m0 3h0m4 0h0m1 0h0m-10 1h0m0 0h0m7 0h0m2 0h0m1 0h0m-8 1h0m4 0h0m4 0h0m3 0h0m-4 1h0m7 0h0m-15 1h0m0 0h0m6 0h0m-7 1h0m6 0h0m-1 1h0m4 0h0m8 0h0m1 0h0m-2 1h0m0 0h0m3 0h0m1 0h0m-15 1h0m2 1h0m12 0h0m-8 1h0m8 0h0m4 0h0m2 0h0m3 0h0m-14 1h0m8 0h0m1 0h0m-10 1h0m3 0h0m12 0h0m0 0h0m1 0h0m1 0h0m-18 1h0m1 0h0m4 1h0m0 0h0m2 0h0m10 0h0m-8 2h0m1 0h0m1 0h0m0 0h0m-3 1h0m9 0h0m1 0h0m2 0h0m-11 1h0m0 0h0m16 1h0m3 0h0m-13 1h0m12 0h0m-14 1h0m13 0h0m1 0h0m0 0h0m1 0h0m-11 1h0m13 0h0m0 1h0m2 0h0m-13 1h0m3 0h0m9 0h0m1 0h0m-2 1h0m5 0h0m-13 1h0m4 0h0m-6 2h0m1 0h0m17 0h0m-15 1h0m2 0h0m3 0h0m7 0h0m1 0h0m-14 1h0m4 0h0m4 0h0m-3 1h0m17 0h0m-8 1h0m-6 1h0m0 0h0m4 0h0m3 0h0m1 0h0m2 0h0m-4 2h0m5 0h0m8 0h0m-14 2h0m9 0h0m3 0h0m0 0h0m3 1h0m4 0h0m-17 1h0m15 0h0m-14 1h0m12 0h0m8 0h0m-9 1h0m3 0h0m0 0h0m3 1h0m1 1h0m2 1h0m0 0h0m-3 2h0m-3 2h0m4 0h0m1 0h0m10 0h0m-18 1h0m2 1h0m2 0h0m1 0h0m4 0h0m6 0h0m3 0h0m-9 1h0m9 1h0m-9 1h0m12 0h0m-15 1h0m8 0h0m0 0h0m4 0h0m-2 1h0m4 0h0m0 0h0m-4 1h0m-6 1h0m15 0h0m-11 1h0m14 0h0m1 1h0m-17 1h0m6 0h0m5 0h0m1 0h0m5 0h0m0 0h0m-6 1h0m-2 1h0m12 0h0m-11 1h0m1 0h0m0 0h0m2 0h0m1 0h0m2 0h0m1 0h0m-2 1h0m3 0h0m-9 1h0m1 0h0m3 0h0m0 1h0m10 0h0m-11 1h0m2 0h0m1 1h0m9 0h0m-10 1h0m8 0h0m2 0h0m1 0h0m-11 1h0m9 0h0m1 0h0m-10 1h0m7 0h0m5 0h0m-7 1h0m2 1h0m1 0h0m2 0h0m2 0h0m4 0h0m2 0h0m2 1h0m1 0h0m-9 1h0m4 0h0m-6 1h0m6 0h0m-5 2h0m5 0h0m4 0h0m-12 1h0m0 0h0m9 0h0m0 1h0m1 0h0m1 0h0m-8 1h0m2 0h0m1 0h0m3 0h0m2 1h0m0 0h0m1 0h0m6 0h0m-9 1h0m9 0h0m-13 1h0m14 0h0m3 0h0m-15 1h0m11 0h0m-10 1h0m11 0h0m1 0h0m-10 1h0m6 0h0m1 0h0m-3 1h0m0 0h0m2 0h0m3 0h0m2 0h0m4 0h0m1 0h0m-14 1h0m5 0h0m9 0h0m-12 1h0m3 0h0m8 0h0m-13 1h0m2 0h0m7 0h0m3 0h0m1 0h0m-9 1h0m1 0h0m1 0h0m1 1h0m-6 1h0m2 0h0m1 0h0m4 0h0m2 0h0m-3 1h0m2 0h0m7 0h0m4 0h0m-7 1h0m1 0h0m8 0h0m-14 1h0m2 0h0m5 0h0m1 0h0m-7 1h0m-3 1h0m1 0h0m-2 1h0m5 0h0m-3 1h0m1 0h0m2 0h0m2 0h0m0 0h0m6 0h0m8 0h0m1 0h0m-14 2h0m3 0h0m2 0h0m0 0h0m1 0h0m1 0h0m6 0h0m-15 1h0m3 0h0m1 0h0m3 0h0m3 0h0m-8 1h0m2 0h0m6 0h0m4 0h0m-10 1h0m11 0h0m0 0h0m0 0h0m-13 1h0m2 0h0m3 0h0m5 0h0m-9 1h0m10 0h0m2 0h0m1 0h0m-14 1h0m2 0h0m9 0h0m4 0h0m-11 1h0m1 0h0m11 0h0m-11 1h0m6 0h0m5 1h0m-4 1h0m5 0h0m1 0h0m-8 1h0m-4 1h0m4 0h0m9 0h0m-14 1h0m1 0h0m4 0h0m1 0h0m9 0h0m-16 1h0m2 0h0m8 0h0m5 0h0m0 1h0m-7 1h0m6 0h0m1 0h0m1 0h0m-10 1h0m1 0h0m9 0h0m-11 1h0m7 0h0m1 0h0m-9 1h0m3 0h0m6 0h0m8 0h0m0 0h0m3 1h0m-17 1h0m3 1h0m2 0h0m4 0h0m-6 1h0m0 0h0m1 0h0m4 0h0m-3 1h0m0 0h0m5 0h0m5 0h0m3 1h0m-17 1h0m9 2h0m-5 1h0m4 1h0m3 0h0m0 0h0m1 0h0m0 0h0m-7 1h0m5 0h0m3 0h0m-2 1h0m-4 1h0m6 0h0m-5 1h0m-7 1h0m0 0h0m13 0h0m-6 1h0m11 0h0m-17 3h0m1 0h0m13 1h0m-14 1h0m0 0h0m0 1h0m5 0h0m9 0h0m0 1h0m1 0h0m-7 2h0m1 0h0m4 2h0m-9 1h0m-2 1h0m-1 1h0m8 0h0m0 2h0m-5 1h0m8 1h0m2 0h0m-18 1h0m9 0h0m4 0h0m-8 1h0m2 0h0m4 0h0m-12 1h0m5 0h0m-7 1h0m6 0h0m8 0h0m-3 2h0m1 0h0m-150 1h0m4 0h0m3 0h0m133 0h0m7 0h0m-155 2h0m6 0h0m2 0h0m4 0h0m3 0h0m8 0h0m125 0h0m-146 1h0m3 0h0m2 0h0m146 0h0m-137 1h0m143 0h0m1 0h0m-163 1h0m8 0h0m138 0h0m-140 1h0m14 0h0m11 0h0m106 0h0m16 0h0m-147 1h0m3 0h0m0 0h0m20 0h0m13 0h0m97 0h0m12 0h0m1 0h0m-127 1h0m8 0h0m2 0h0m15 0h0m94 0h0m2 0h0m-126 1h0m9 0h0m8 0h0m98 0h0m20 0h0m-137 1h0m10 0h0m0 0h0m1 0h0m25 0h0m79 0h0m1 0h0m4 0h0m5 0h0m2 0h0m-115 1h0m0 0h0m4 0h0m7 0h0m102 0h0m4 0h0m-125 1h0m2 0h0m1 0h0m34 0h0m96 0h0m-125 1h0m9 0h0m4 0h0m84 0h0m6 0h0m5 0h0m6 0h0m1 0h0m13 0h0m-124 1h0m1 0h0m21 0h0m1 0h0m6 0h0m1 0h0m0 0h0m6 0h0m71 0h0m-107 1h0m15 0h0m23 0h0m44 0h0m4 0h0m2 0h0m5 0h0m19 0h0m11 0h0m1 0h0m-98 1h0m60 0h0m14 0h0m17 0h0m-93 1h0m19 0h0m16 0h0m17 0h0m2 0h0m1 0h0m32 0h0m-80 1h0m3 0h0m1 0h0m3 0h0m27 0h0m12 0h0m18 0h0m10 0h0m8 0h0m-96 1h0m1 0h0m5 0h0m2 0h0m19 0h0m5 0h0m6 0h0m11 0h0m3 0h0m4 0h0m6 0h0m14 0h0m12 0h0m-92 1h0m10 0h0m14 0h0m8 0h0m16 0h0m10 0h0m1 0h0m5 0h0m4 0h0m23 0h0m6 0h0m-71 1h0m1 0h0m1 0h0m9 0h0m2 0h0m0 0h0m7 0h0m3 0h0m23 0h0m14 0h0m7 0h0m9 0h0m-88 1h0m3 0h0m2 0h0m1 0h0m1 0h0m5 0h0m4 0h0m0 0h0m3 0h0m11 0h0m1 0h0m1 0h0m12 0h0m3 0h0m21 0h0m9 0h0m-60 1h0m12 0h0m6 0h0m7 0h0m5 0h0m3 0h0m8 0h0m6 0h0m3 0h0m14 0h0m-75 1h0m8 0h0m22 0h0m12 0h0m8 0h0m13 0h0m1 0h0m1 0h0m9 0h0m2 0h0m-67 1h0m27 0h0m10 0h0m4 0h0m-35 1h0m6 0h0m1 0h0m13 0h0m1 0h0m2 0h0m12 0h0m6 0h0m4 0h0m3 0h0m6 0h0m-54 1h0m39 0h0m3 0h0m-19 1h0m-18 1h0m2 0h0m12 0h0m2 0h0m4 0h0m1 0h0m22 0h0m-24 1h0m8 1h0"/><path stroke="#4758f8" d="M366 343h0m17 0h0m1 0h0m-23 1h0m4 0h0m3 0h0m12 0h0m-21 1h0m1 0h0m31 0h0m-31 1h0m2 0h0m9 0h0m6 0h0m8 0h0m-29 1h0m32 0h0m7 1h0m2 0h0m-35 1h0m29 0h0m-28 1h0m31 0h0m-38 2h0m43 0h0m7 0h0m-53 1h0m3 0h0m46 0h0m0 0h0m1 2h0m3 0h0m-59 1h0m8 0h0m51 0h0m-60 1h0m-3 7h0m-3 1h0m2 5h0m0 1h0m-1 2h0m-5 2h0m5 2h0m-2 1h0m1 4h0m-2 2h0m-3 2h0m2 3h0m-2 4h0m2 0h0m-1 1h0m0 6h0m-2 7h0m-3 4h0m1 0h0m1 0h0m-2 2h0m0 3h0m3 0h0m2 0h0m-2 1h0m-2 2h0m4 0h0m0 3h0m0 1h0m-4 1h0m2 0h0m-2 3h0m3 4h0m0 2h0m230 87h0m0 0h0m0 1h0m5 4h0m1 0h0m1 0h0m-3 2h0m-1 1h0m3 0h0m5 3h0m1 0h0m-1 1h0m5 0h0m-7 1h0m2 0h0m-1 1h0m9 0h0m2 0h0m-8 1h0m5 1h0m0 1h0m2 0h0m-6 1h0m6 0h0m1 0h0m1 0h0m1 0h0m-7 1h0m0 0h0m2 0h0m8 0h0m-8 1h0m6 0h0m-4 4h0m5 0h0m2 1h0m7 0h0m-9 1h0m4 2h0m1 1h0m-3 1h0m5 0h0m0 0h0m2 0h0m3 0h0m5 0h0m-13 2h0m2 0h0m8 0h0m4 0h0m-12 1h0m2 0h0m1 2h0m1 0h0m3 0h0m1 0h0m1 0h0m3 0h0m1 0h0m0 0h0m0 0h0m-7 1h0m2 1h0m0 0h0m6 0h0m-3 1h0m1 0h0m5 0h0m-5 1h0m3 0h0m1 0h0m0 0h0m-6 2h0m2 0h0m1 0h0m-1 1h0m9 0h0m4 0h0m-11 1h0m4 0h0m12 1h0m-13 1h0m1 0h0m0 0h0m3 0h0m1 0h0m1 0h0m6 0h0m-12 1h0m6 0h0m2 0h0m4 0h0m-4 1h0m1 1h0m1 0h0m3 0h0m-7 1h0m4 0h0m0 0h0m-4 2h0m7 0h0m1 0h0m-7 1h0m9 0h0m-9 1h0m2 0h0m1 0h0m9 0h0m-2 1h0m5 0h0m-10 1h0m7 0h0m-7 1h0m4 0h0m5 0h0m4 0h0m-9 1h0m1 1h0m2 0h0m-4 1h0m6 0h0m2 0h0m1 0h0m-3 1h0m9 0h0m-12 1h0m0 0h0m7 1h0m5 0h0m-9 1h0m8 0h0m1 0h0m-6 1h0m3 0h0m5 0h0m-9 1h0m1 0h0m2 0h0m0 0h0m5 0h0m-8 1h0m7 0h0m6 0h0m-9 1h0m1 0h0m2 0h0m1 0h0m-6 1h0m3 0h0m2 0h0m2 0h0m-6 1h0m2 2h0m3 0h0m2 0h0m1 0h0m0 0h0m-4 1h0m-1 1h0m14 1h0m-10 1h0m0 0h0m8 1h0m4 1h0m-7 1h0m3 0h0m1 0h0m1 0h0m-6 1h0m1 0h0m5 0h0m3 0h0m-3 1h0m7 2h0m-8 2h0m0 0h0m7 0h0m8 2h0m-11 1h0m7 1h0m2 0h0m0 0h0m2 0h0m1 1h0m-6 1h0m3 1h0m2 0h0m-8 1h0m11 0h0m1 0h0m-7 1h0m-6 1h0m1 0h0m0 0h0m1 0h0m0 0h0m4 0h0m6 0h0m1 0h0m-8 1h0m1 0h0m6 0h0m-10 1h0m8 0h0m-1 1h0m1 1h0m-4 1h0m1 0h0m3 0h0m-2 1h0m5 0h0m4 0h0m1 1h0m-13 1h0m9 1h0m1 0h0m4 0h0m-2 1h0m-6 1h0m-4 1h0m3 0h0m2 0h0m11 0h0m-16 1h0m4 0h0m8 0h0m1 0h0m2 0h0m-7 1h0m1 1h0m1 0h0m5 0h0m1 1h0m-13 1h0m2 0h0m5 0h0m3 0h0m3 1h0m-5 1h0m3 0h0m-1 1h0m-5 1h0m5 0h0m3 0h0m-4 1h0m1 0h0m6 0h0m-10 1h0m2 0h0m-2 1h0m1 0h0m3 0h0m4 0h0m2 0h0m-8 1h0m2 0h0m3 0h0m0 0h0m5 0h0m-12 1h0m-1 1h0m4 0h0m2 0h0m3 1h0m-6 1h0m2 0h0m1 0h0m3 0h0m0 0h0m1 0h0m2 0h0m-13 2h0m13 0h0m3 0h0m-5 1h0m0 0h0m-5 1h0m4 0h0m-9 1h0m8 0h0m7 1h0m-13 1h0m6 0h0m-5 1h0m10 1h0m3 0h0m-15 1h0m7 0h0m7 1h0m-13 2h0m4 0h0m-3 2h0m14 0h0m-13 1h0m3 0h0m-7 1h0m3 0h0m5 0h0m1 0h0m-3 1h0m9 1h0m-10 1h0m1 0h0m1 0h0m-2 1h0m-10 1h0m13 0h0m0 0h0m-14 1h0m4 1h0m7 0h0m-2 2h0m6 0h0m2 0h0m-18 2h0m2 0h0m16 0h0m-7 1h0m-15 1h0m-4 1h0m20 0h0m-20 1h0m3 0h0m3 0h0m11 0h0m-92 1h0m79 0h0m10 0h0m-95 1h0m1 0h0m82 0h0m8 0h0m-109 1h0m0 0h0m95 0h0m5 0h0m12 0h0m-113 1h0m32 0h0m4 0h0m54 0h0m9 0h0m5 0h0m14 0h0m-98 1h0m10 0h0m72 0h0m6 0h0m7 0h0m1 0h0m1 0h0m-104 1h0m2 0h0m29 0h0m7 0h0m59 0h0m-92 1h0m7 0h0m19 0h0m7 0h0m5 0h0m13 0h0m8 0h0m3 0h0m3 0h0m9 0h0m13 0h0m1 0h0m4 0h0m-90 1h0m0 0h0m11 0h0m10 0h0m1 0h0m3 0h0m25 0h0m13 0h0m14 0h0m4 0h0m4 0h0m7 0h0m-94 1h0m12 0h0m18 0h0m1 0h0m8 0h0m12 0h0m8 0h0m5 0h0m1 0h0m6 0h0m7 0h0m5 0h0m15 0h0m-79 1h0m28 0h0m23 0h0m23 0h0m-84 1h0m9 0h0m6 0h0m9 0h0m4 0h0m4 0h0m5 0h0m23 0h0m6 0h0m8 0h0m3 0h0m2 0h0m-71 1h0m21 0h0m21 0h0m12 0h0m3 0h0m4 0h0m14 0h0m-78 1h0m2 0h0m2 0h0m2 0h0m20 0h0m2 0h0m9 0h0m21 0h0m-52 1h0m12 0h0m20 0h0m18 0h0m15 0h0m-56 1h0m7 0h0m12 0h0m4 0h0m6 0h0m11 0h0m3 0h0m18 0h0m-48 1h0m9 0h0m10 0h0m6 0h0m3 0h0m-26 1h0m9 0h0m13 0h0m2 0h0m1 0h0m4 0h0m4 0h0m-36 1h0m0 0h0m2 0h0m27 0h0m-16 1h0"/><path stroke="#465efb" d="M374 349h0m-1 1h0m3 0h0m12 0h0m2 0h0m-22 1h0m1 0h0m-2 1h0m28 0h0m-29 1h0m23 1h0m1 0h0m-33 1h0m3 1h0m-3 1h0m4 0h0m-1 1h0m-2 1h0m-7 4h0m-3 3h0m0 1h0m2 1h0m-3 2h0m-1 5h0m-6 6h0m0 1h0m2 4h0m-4 2h0m4 1h0m-1 1h0m-2 1h0m0 0h0m1 2h0m0 1h0m-1 1h0m-2 1h0m3 1h0m-1 4h0m-1 2h0m1 0h0m1 2h0m-3 4h0m0 5h0m266 145h0m2 2h0m1 0h0m3 4h0m21 18h0m-2 1h0m3 0h0m1 0h0m0 1h0m5 4h0m2 2h0m0 2h0m4 2h0m0 1h0m-2 1h0m2 2h0m-1 1h0m4 0h0m0 0h0m1 0h0m1 1h0m3 2h0m2 3h0m-2 2h0m3 2h0m3 3h0m2 4h0m3 1h0m4 7h0m0 2h0m0 1h0m1 0h0m-2 1h0m1 0h0m4 0h0m-4 3h0m6 0h0m-8 1h0m1 0h0m2 0h0m4 1h0m-7 1h0m5 0h0m2 0h0m-7 1h0m-3 1h0m0 0h0m3 0h0m3 0h0m-1 1h0m3 0h0m2 0h0m-9 1h0m0 0h0m1 0h0m1 0h0m2 0h0m1 0h0m2 1h0m-7 1h0m1 0h0m6 0h0m-11 1h0m9 0h0m0 0h0m2 0h0m1 0h0m-3 1h0m-3 1h0m6 0h0m-6 1h0m-5 1h0m1 0h0m16 0h0m-14 1h0m3 0h0m2 0h0m2 1h0m5 0h0m-15 1h0m2 0h0m5 0h0m1 0h0m8 0h0m-9 1h0m-3 1h0m0 0h0m5 1h0m-8 1h0m10 0h0m0 0h0m6 0h0m-18 1h0m2 0h0m7 1h0m3 0h0m-7 1h0m-6 1h0m0 0h0m5 0h0m9 0h0m0 0h0m2 0h0m-13 1h0m7 0h0m-7 1h0m-10 2h0m21 0h0m-23 2h0m1 0h0m0 0h0m12 0h0m4 0h0m6 0h0m-23 1h0m5 0h0m1 0h0m4 0h0m7 0h0m-10 1h0m8 0h0m-20 1h0m2 0h0m2 0h0m3 0h0m1 0h0m1 0h0m3 0h0m-13 1h0m5 0h0m13 0h0m-19 1h0m0 0h0m8 0h0m2 0h0m1 0h0m3 0h0m6 0h0m6 0h0m1 0h0m-18 1h0m-37 1h0m24 0h0m19 0h0m5 0h0m-57 1h0m4 0h0m2 0h0m4 0h0m11 0h0m0 0h0m1 0h0m0 0h0m4 0h0m6 0h0m2 0h0m26 0h0m-60 1h0m9 0h0m2 0h0m2 0h0m3 0h0m2 0h0m7 0h0m5 0h0m5 0h0m14 0h0m-50 1h0m0 0h0m1 0h0m5 0h0m1 0h0m5 0h0m3 0h0m7 0h0m27 0h0m-21 1h0m16 0h0m1 0h0m1 0h0m7 0h0m-61 1h0m17 0h0m16 0h0m2 0h0m8 0h0m18 0h0m-65 1h0m3 0h0m0 0h0m12 0h0m5 0h0m39 0h0m-60 1h0m1 0h0m12 0h0m1 0h0m8 0h0m27 0h0m2 0h0m4 0h0m5 0h0m1 0h0m-60 1h0m4 0h0m2 0h0m7 0h0m4 0h0m34 0h0m4 0h0m-36 1h0m2 0h0m1 0h0m6 0h0m2 0h0m27 0h0m-27 1h0m3 0h0m2 0h0m1 0h0m9 0h0m3 0h0m-23 1h0m10 0h0m1 0h0m10 0h0m-20 1h0m3 0h0"/><path stroke="#4563fd" d="M377 353h0m8 1h0m-9 1h0m1 0h0m4 0h0m-10 1h0m15 0h0m1 0h0m5 0h0m-22 1h0m16 0h0m0 0h0m-23 1h0m2 0h0m2 0h0m0 0h0m4 0h0m22 0h0m-34 1h0m5 0h0m0 0h0m3 0h0m-9 1h0m9 0h0m-4 1h0m-6 1h0m3 0h0m-6 1h0m3 1h0m2 0h0m-6 1h0m1 1h0m0 0h0m0 0h0m3 1h0m1 0h0m-8 5h0m0 1h0m1 2h0m0 0h0m-3 3h0m0 1h0m-2 3h0m0 2h0m-1 2h0m1 1h0m-4 1h0m2 0h0m1 4h0m-4 6h0m0 2h0m0 1h0m0 1h0m316 240h0m-2 1h0m0 2h0m-2 3h0m2 0h0m-1 2h0m3 0h0m-5 3h0m3 1h0m0 2h0m-4 2h0m3 0h0m-3 1h0m-6 1h0m6 0h0m-1 1h0m-3 1h0m-8 2h0m-6 1h0m11 0h0m-14 2h0m6 0h0m-22 1h0m2 0h0m6 0h0m7 0h0m4 0h0m2 0h0m-18 1h0m3 1h0"/><path stroke="#4269fe" d="M369 359h0m1 0h0m9 0h0m4 0h0m-14 1h0m1 0h0m2 0h0m3 0h0m5 0h0m4 0h0m-17 1h0m-3 3h0m-6 3h0m3 1h0m-3 1h0m1 0h0m1 1h0m0 0h0m-4 2h0m0 1h0m-5 7h0"/></g></g>
<path d="M78.2 9.4H539.4M78.2 428.5H539.4" stroke="#7c7c7c" stroke-width="1.4" fill="none"/>
<path d="M78.2 9.4V428.5M539.4 9.4V428.5" stroke="#a8a8a8" stroke-width="1.8" fill="none"/>
<path d="M78.2 413.8h4.8M539.4 413.8h-5.2M78.2 373.9h4.8M539.4 373.9h-5.2M78.2 334.1h4.8M539.4 334.1h-5.2M78.2 294.2h4.8M539.4 294.2h-5.2M78.2 254.4h4.8M539.4 254.4h-5.2M78.2 214.6h4.8M539.4 214.6h-5.2M78.2 174.7h4.8M539.4 174.7h-5.2M78.2 134.9h4.8M539.4 134.9h-5.2M78.2 95.0h4.8M539.4 95.0h-5.2M78.2 55.2h4.8M539.4 55.2h-5.2M78.2 15.4h4.8M539.4 15.4h-5.2" stroke="#a4a4a4" stroke-width="1.5" fill="none"/>
<path d="M113.1 428.5v-7M113.1 9.4v7M179.2 428.5v-7M179.2 9.4v7M245.3 428.5v-7M245.3 9.4v7M311.4 428.5v-7M311.4 9.4v7M377.5 428.5v-7M377.5 9.4v7M443.6 428.5v-7M443.6 9.4v7M509.7 428.5v-7M509.7 9.4v7" stroke="#c4c4c4" stroke-width="1.3" fill="none"/>
<ellipse cx="284.25" cy="274.5" rx="198.3" ry="106.8" transform="rotate(16 284.25 274.5)" fill="none" stroke="#0d2157" stroke-width="6"/>
<ellipse cx="473.8" cy="112.9" rx="69.8" ry="104.4" transform="rotate(-2.6 473.8 112.9)" fill="none" stroke="#f2101a" stroke-width="5.9"/>
<g font-family="Liberation Sans, Arial, sans-serif" font-size="17.3" fill="#1a1a1a" stroke="#1a1a1a" stroke-width="0.4">
<text transform="translate(70.8 420.2) scale(0.88 1)" text-anchor="end">-8</text>
<text transform="translate(70.8 380.3) scale(0.88 1)" text-anchor="end">-6</text>
<text transform="translate(70.8 340.5) scale(0.88 1)" text-anchor="end">-4</text>
<text transform="translate(70.8 300.6) scale(0.88 1)" text-anchor="end">-2</text>
<text transform="translate(70.8 260.8) scale(0.88 1)" text-anchor="end">0</text>
<text transform="translate(70.8 221.0) scale(0.88 1)" text-anchor="end">2</text>
<text transform="translate(70.8 181.1) scale(0.88 1)" text-anchor="end">4</text>
<text transform="translate(70.8 141.3) scale(0.88 1)" text-anchor="end">6</text>
<text transform="translate(70.8 101.4) scale(0.88 1)" text-anchor="end">8</text>
<text transform="translate(70.8 61.6) scale(0.88 1)" text-anchor="end">10</text>
<text transform="translate(70.8 21.8) scale(0.88 1)" text-anchor="end">12</text>
<text transform="translate(113.1 450.6) scale(0.88 1)" text-anchor="middle">-10</text>
<text transform="translate(179.2 450.6) scale(0.88 1)" text-anchor="middle">-5</text>
<text transform="translate(245.3 450.6) scale(0.88 1)" text-anchor="middle">0</text>
<text transform="translate(311.4 450.6) scale(0.88 1)" text-anchor="middle">5</text>
<text transform="translate(377.5 450.6) scale(0.88 1)" text-anchor="middle">10</text>
<text transform="translate(443.6 450.6) scale(0.88 1)" text-anchor="middle">15</text>
<text transform="translate(509.7 450.6) scale(0.88 1)" text-anchor="middle">20</text>
</g>
<text x="297.5" y="477" font-family="Liberation Serif, serif" font-size="21" text-anchor="middle" fill="#111">Scores on PC1 (68.39%)</text>
<text transform="translate(22.3 227.5) rotate(-90)" x="0" y="0" font-family="Liberation Serif, serif" font-size="21" text-anchor="middle" fill="#111">Scores on PC2 (12.82%)</text>
<text x="115.6" y="149.5" font-family="Liberation Sans, Arial, sans-serif" font-weight="bold" font-size="16.5" fill="#12245a" stroke="#12245a" stroke-width="0.3">Plastic</text>
<text x="310.4" y="45.9" font-family="Liberation Sans, Arial, sans-serif" font-weight="bold" font-size="16.6" fill="#dc0f1c" stroke="#dc0f1c" stroke-width="0.3">Contaminant</text>
</svg>
</body></html>
